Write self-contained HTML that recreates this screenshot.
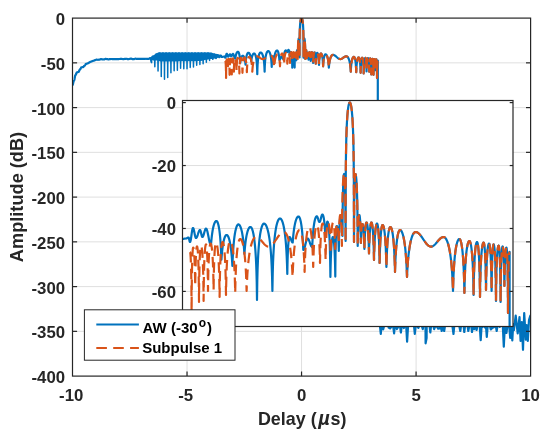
<!DOCTYPE html>
<html lang="en">
<head>
<meta charset="utf-8">
<title>Amplitude vs Delay</title>
<style>
html,body{margin:0;padding:0;background:#ffffff;}
body{width:550px;height:440px;overflow:hidden;font-family:"Liberation Sans",Arial,Helvetica,sans-serif;}
svg{display:block;}
</style>
</head>
<body>
<svg width="550" height="440" viewBox="0 0 550 440">
<defs><clipPath id="cm"><rect x="72.50" y="18.10" width="458.10" height="358.00"/></clipPath>
<clipPath id="ci"><rect x="182.50" y="100.50" width="330.50" height="226.00"/></clipPath></defs>
<rect x="0" y="0" width="550" height="440" fill="#ffffff"/>
<g stroke="#DFDFDF" stroke-width="1" fill="none">
<line x1="187.03" y1="18.10" x2="187.03" y2="376.10"/>
<line x1="301.55" y1="18.10" x2="301.55" y2="376.10"/>
<line x1="416.08" y1="18.10" x2="416.08" y2="376.10"/>
<line x1="72.50" y1="331.35" x2="530.60" y2="331.35"/>
<line x1="72.50" y1="286.60" x2="530.60" y2="286.60"/>
<line x1="72.50" y1="241.85" x2="530.60" y2="241.85"/>
<line x1="72.50" y1="197.10" x2="530.60" y2="197.10"/>
<line x1="72.50" y1="152.35" x2="530.60" y2="152.35"/>
<line x1="72.50" y1="107.60" x2="530.60" y2="107.60"/>
<line x1="72.50" y1="62.85" x2="530.60" y2="62.85"/>
</g>
<g clip-path="url(#cm)" fill="none" stroke-linejoin="round">
<polygon points="150.00,57.57 151.00,56.93 152.00,56.30 153.00,55.67 154.00,55.03 155.00,54.40 156.00,53.77 157.00,53.13 158.00,52.50 159.00,52.50 160.00,52.50 161.00,52.50 162.00,52.50 163.00,52.50 164.00,52.50 165.00,52.50 166.00,52.50 167.00,52.50 168.00,52.50 169.00,52.50 170.00,52.50 171.00,52.50 172.00,52.50 173.00,52.50 174.00,52.50 175.00,52.50 176.00,52.50 177.00,52.50 178.00,52.50 179.00,52.50 180.00,52.50 181.00,52.50 182.00,52.50 183.00,52.50 184.00,52.50 185.00,52.50 186.00,52.50 187.00,52.50 188.00,52.50 189.00,52.50 190.00,52.50 191.00,52.50 192.00,52.50 193.00,52.50 194.00,52.50 195.00,52.50 196.00,52.50 197.00,52.50 198.00,52.50 199.00,52.50 200.00,52.50 201.00,52.50 202.00,52.50 203.00,52.50 204.00,52.50 205.00,52.50 206.00,52.50 207.00,52.50 208.00,52.50 209.00,52.50 210.00,52.50 211.00,52.73 212.00,52.96 213.00,53.19 214.00,53.41 215.00,53.64 216.00,53.87 217.00,54.10 218.00,54.33 219.00,54.56 220.00,54.79 221.00,55.01 221.00,57.11 220.00,57.33 219.00,57.55 218.00,57.76 217.00,57.98 216.00,58.19 215.00,58.41 214.00,58.63 213.00,58.84 212.00,59.06 211.00,59.04 210.00,59.02 209.00,59.23 208.00,59.43 207.00,59.64 206.00,59.85 205.00,60.06 204.00,60.27 203.00,60.48 202.00,60.68 201.00,60.89 200.00,61.10 199.00,61.11 198.00,61.12 197.00,61.14 196.00,61.15 195.00,61.16 194.00,61.17 193.00,61.19 192.00,61.20 191.00,61.21 190.00,61.23 189.00,61.24 188.00,61.25 187.00,61.26 186.00,61.28 185.00,61.29 184.00,61.30 183.00,61.31 182.00,61.33 181.00,61.34 180.00,61.35 179.00,61.36 178.00,61.38 177.00,61.39 176.00,61.40 175.00,61.41 174.00,61.42 173.00,61.44 172.00,61.45 171.00,61.46 170.00,61.48 169.00,61.49 168.00,61.50 167.00,61.51 166.00,61.53 165.00,61.54 164.00,61.55 163.00,61.56 162.00,61.58 161.00,61.59 160.00,61.60 159.00,61.02 158.00,60.43 157.00,60.48 156.00,60.53 155.00,60.58 154.00,60.63 153.00,60.27 152.00,59.90 151.00,59.53 150.00,59.17" fill="#0072BD" stroke="none"/>
<path d="M72.50 85.00 L72.56 84.98 L72.62 84.92 L72.69 84.83 L72.75 84.70 L72.81 84.54 L72.88 84.35 L72.94 84.14 L73.00 83.89 L73.06 83.64 L73.13 83.36 L73.19 83.08 L73.25 82.79 L73.31 82.50 L73.38 82.22 L73.44 81.94 L73.50 81.68 L73.56 81.44 L73.62 81.23 L73.69 81.04 L73.75 80.88 L73.81 80.75 L73.88 80.66 L73.94 80.60 L74.00 80.58 L74.06 80.56 L74.12 80.49 L74.19 80.37 L74.25 80.21 L74.31 80.01 L74.38 79.77 L74.44 79.50 L74.50 79.19 L74.56 78.87 L74.63 78.53 L74.69 78.17 L74.75 77.81 L74.81 77.45 L74.88 77.09 L74.94 76.75 L75.00 76.42 L75.06 76.12 L75.12 75.85 L75.19 75.61 L75.25 75.41 L75.31 75.25 L75.38 75.13 L75.44 75.06 L75.50 75.04 L75.56 75.03 L75.62 74.99 L75.69 74.94 L75.75 74.86 L75.81 74.76 L75.88 74.65 L75.94 74.52 L76.00 74.37 L76.06 74.21 L76.13 74.05 L76.19 73.88 L76.25 73.70 L76.31 73.53 L76.38 73.36 L76.44 73.19 L76.50 73.03 L76.56 72.89 L76.62 72.76 L76.69 72.64 L76.75 72.54 L76.81 72.47 L76.88 72.41 L76.94 72.38 L77.00 72.36 L77.06 72.36 L77.12 72.36 L77.19 72.35 L77.25 72.34 L77.31 72.32 L77.38 72.30 L77.44 72.28 L77.50 72.26 L77.56 72.24 L77.63 72.21 L77.69 72.18 L77.75 72.16 L77.81 72.13 L77.88 72.10 L77.94 72.08 L78.00 72.06 L78.06 72.03 L78.12 72.01 L78.19 72.00 L78.25 71.98 L78.31 71.97 L78.38 71.96 L78.44 71.95 L78.50 71.95 L78.56 71.94 L78.62 71.91 L78.69 71.86 L78.75 71.78 L78.81 71.69 L78.88 71.58 L78.94 71.46 L79.00 71.32 L79.06 71.18 L79.13 71.02 L79.19 70.86 L79.25 70.69 L79.31 70.53 L79.38 70.37 L79.44 70.21 L79.50 70.06 L79.56 69.93 L79.62 69.80 L79.69 69.69 L79.75 69.60 L79.81 69.53 L79.88 69.48 L79.94 69.44 L80.00 69.43 L80.06 69.42 L80.12 69.40 L80.19 69.35 L80.25 69.29 L80.31 69.21 L80.38 69.11 L80.44 69.01 L80.50 68.89 L80.56 68.76 L80.63 68.63 L80.69 68.49 L80.75 68.35 L80.81 68.20 L80.88 68.06 L80.94 67.93 L81.00 67.80 L81.06 67.68 L81.12 67.58 L81.19 67.48 L81.25 67.40 L81.31 67.34 L81.38 67.29 L81.44 67.27 L81.50 67.26 L81.56 67.26 L81.62 67.26 L81.69 67.25 L81.75 67.25 L81.81 67.25 L81.88 67.24 L81.94 67.24 L82.00 67.23 L82.06 67.23 L82.13 67.22 L82.19 67.21 L82.25 67.21 L82.31 67.20 L82.38 67.20 L82.44 67.19 L82.50 67.18 L82.56 67.18 L82.62 67.17 L82.69 67.17 L82.75 67.17 L82.81 67.16 L82.88 67.16 L82.94 67.16 L83.00 67.16 L83.06 67.15 L83.12 67.14 L83.19 67.11 L83.25 67.07 L83.31 67.01 L83.38 66.95 L83.44 66.89 L83.50 66.81 L83.56 66.73 L83.63 66.64 L83.69 66.55 L83.75 66.46 L83.81 66.37 L83.88 66.28 L83.94 66.19 L84.00 66.11 L84.06 66.03 L84.13 65.96 L84.19 65.90 L84.25 65.85 L84.31 65.81 L84.38 65.78 L84.44 65.76 L84.50 65.76 L84.56 65.75 L84.62 65.73 L84.69 65.69 L84.75 65.64 L84.81 65.57 L84.88 65.49 L84.94 65.40 L85.00 65.30 L85.06 65.20 L85.13 65.08 L85.19 64.97 L85.25 64.85 L85.31 64.73 L85.38 64.61 L85.44 64.50 L85.50 64.39 L85.56 64.30 L85.63 64.21 L85.69 64.13 L85.75 64.06 L85.81 64.01 L85.88 63.97 L85.94 63.95 L86.00 63.94 L86.06 63.94 L86.12 63.93 L86.19 63.92 L86.25 63.91 L86.31 63.89 L86.38 63.87 L86.44 63.85 L86.50 63.82 L86.56 63.79 L86.62 63.77 L86.69 63.74 L86.75 63.70 L86.81 63.67 L86.88 63.64 L86.94 63.61 L87.00 63.59 L87.06 63.56 L87.12 63.54 L87.19 63.52 L87.25 63.50 L87.31 63.49 L87.38 63.48 L87.44 63.47 L87.50 63.47 L87.56 63.47 L87.62 63.46 L87.69 63.44 L87.75 63.41 L87.81 63.39 L87.87 63.35 L87.94 63.31 L88.00 63.27 L88.06 63.22 L88.12 63.17 L88.19 63.12 L88.25 63.06 L88.31 63.01 L88.37 62.96 L88.44 62.91 L88.50 62.86 L88.56 62.81 L88.62 62.77 L88.69 62.74 L88.75 62.71 L88.81 62.69 L88.88 62.67 L88.94 62.66 L89.00 62.65 L89.06 62.65 L89.12 62.64 L89.19 62.62 L89.25 62.60 L89.31 62.57 L89.37 62.53 L89.44 62.49 L89.50 62.44 L89.56 62.39 L89.62 62.34 L89.69 62.29 L89.75 62.23 L89.81 62.17 L89.87 62.12 L89.94 62.07 L90.00 62.02 L90.06 61.97 L90.12 61.93 L90.19 61.89 L90.25 61.86 L90.31 61.84 L90.38 61.82 L90.44 61.81 L90.50 61.80 L90.56 61.80 L90.62 61.80 L90.69 61.78 L90.75 61.77 L90.81 61.75 L90.87 61.73 L90.94 61.70 L91.00 61.67 L91.06 61.64 L91.12 61.60 L91.19 61.57 L91.25 61.54 L91.31 61.50 L91.37 61.47 L91.44 61.43 L91.50 61.40 L91.56 61.37 L91.62 61.34 L91.69 61.32 L91.75 61.30 L91.81 61.29 L91.88 61.27 L91.94 61.27 L92.00 61.27 L92.06 61.26 L92.12 61.26 L92.19 61.25 L92.25 61.23 L92.31 61.21 L92.38 61.19 L92.44 61.17 L92.50 61.14 L92.56 61.11 L92.62 61.08 L92.69 61.05 L92.75 61.02 L92.81 60.98 L92.87 60.95 L92.94 60.92 L93.00 60.89 L93.06 60.86 L93.12 60.84 L93.19 60.82 L93.25 60.80 L93.31 60.78 L93.38 60.77 L93.44 60.77 L93.50 60.76 L93.56 60.76 L93.62 60.75 L93.69 60.74 L93.75 60.72 L93.81 60.70 L93.88 60.68 L93.94 60.65 L94.00 60.61 L94.06 60.58 L94.12 60.54 L94.19 60.50 L94.25 60.46 L94.31 60.42 L94.37 60.38 L94.44 60.34 L94.50 60.31 L94.56 60.27 L94.62 60.24 L94.69 60.22 L94.75 60.19 L94.81 60.18 L94.88 60.16 L94.94 60.16 L95.00 60.15 L95.06 60.15 L95.12 60.15 L95.19 60.14 L95.25 60.12 L95.31 60.10 L95.38 60.08 L95.44 60.06 L95.50 60.03 L95.56 60.00 L95.62 59.97 L95.69 59.94 L95.75 59.91 L95.81 59.88 L95.87 59.85 L95.94 59.82 L96.00 59.79 L96.06 59.76 L96.12 59.74 L96.19 59.72 L96.25 59.70 L96.31 59.69 L96.38 59.67 L96.44 59.67 L96.50 59.67 L96.56 59.67 L96.62 59.67 L96.69 59.67 L96.75 59.67 L96.81 59.68 L96.88 59.68 L96.94 59.69 L97.00 59.70 L97.06 59.70 L97.12 59.71 L97.19 59.72 L97.25 59.73 L97.31 59.73 L97.37 59.74 L97.44 59.75 L97.50 59.76 L97.56 59.76 L97.62 59.77 L97.69 59.77 L97.75 59.78 L97.81 59.78 L97.88 59.78 L97.94 59.79 L98.00 59.79 L98.06 59.79 L98.12 59.78 L98.19 59.78 L98.25 59.78 L98.31 59.77 L98.38 59.76 L98.44 59.75 L98.50 59.75 L98.56 59.74 L98.62 59.73 L98.69 59.71 L98.75 59.70 L98.81 59.69 L98.87 59.68 L98.94 59.67 L99.00 59.66 L99.06 59.65 L99.12 59.65 L99.19 59.64 L99.25 59.63 L99.31 59.63 L99.38 59.62 L99.44 59.62 L99.50 59.62 L99.56 59.62 L99.62 59.61 L99.69 59.60 L99.75 59.59 L99.81 59.57 L99.88 59.55 L99.94 59.53 L100.00 59.50 L100.06 59.47 L100.12 59.44 L100.19 59.41 L100.25 59.38 L100.31 59.34 L100.37 59.31 L100.44 59.28 L100.50 59.25 L100.56 59.23 L100.62 59.20 L100.69 59.18 L100.75 59.16 L100.81 59.15 L100.88 59.14 L100.94 59.13 L101.00 59.13 L101.06 59.13 L101.12 59.14 L101.19 59.14 L101.25 59.15 L101.31 59.16 L101.38 59.17 L101.44 59.19 L101.50 59.20 L101.56 59.22 L101.62 59.23 L101.69 59.25 L101.75 59.27 L101.81 59.29 L101.88 59.31 L101.94 59.32 L102.00 59.34 L102.06 59.36 L102.12 59.37 L102.19 59.38 L102.25 59.39 L102.31 59.40 L102.38 59.41 L102.44 59.41 L102.50 59.41 L102.56 59.41 L102.62 59.41 L102.69 59.41 L102.75 59.42 L102.81 59.42 L102.88 59.42 L102.94 59.42 L103.00 59.43 L103.06 59.43 L103.13 59.44 L103.19 59.44 L103.25 59.45 L103.31 59.45 L103.38 59.46 L103.44 59.46 L103.50 59.46 L103.56 59.47 L103.62 59.47 L103.69 59.47 L103.75 59.48 L103.81 59.48 L103.88 59.48 L103.94 59.48 L104.00 59.48 L104.06 59.48 L104.12 59.47 L104.19 59.46 L104.25 59.44 L104.31 59.42 L104.38 59.40 L104.44 59.37 L104.50 59.34 L104.56 59.30 L104.63 59.27 L104.69 59.23 L104.75 59.19 L104.81 59.15 L104.88 59.12 L104.94 59.08 L105.00 59.05 L105.06 59.01 L105.12 58.99 L105.19 58.96 L105.25 58.94 L105.31 58.92 L105.38 58.91 L105.44 58.90 L105.50 58.90 L105.56 58.90 L105.62 58.90 L105.69 58.91 L105.75 58.91 L105.81 58.92 L105.88 58.93 L105.94 58.93 L106.00 58.94 L106.06 58.95 L106.13 58.97 L106.19 58.98 L106.25 58.99 L106.31 59.00 L106.38 59.01 L106.44 59.02 L106.50 59.03 L106.56 59.04 L106.62 59.05 L106.69 59.06 L106.75 59.06 L106.81 59.07 L106.88 59.07 L106.94 59.07 L107.00 59.08 L107.06 59.08 L107.12 59.08 L107.19 59.09 L107.25 59.10 L107.31 59.11 L107.38 59.12 L107.44 59.14 L107.50 59.16 L107.56 59.18 L107.63 59.20 L107.69 59.22 L107.75 59.24 L107.81 59.26 L107.88 59.29 L107.94 59.31 L108.00 59.33 L108.06 59.34 L108.12 59.36 L108.19 59.37 L108.25 59.39 L108.31 59.40 L108.38 59.40 L108.44 59.41 L108.50 59.41 L108.56 59.41 L108.62 59.40 L108.69 59.40 L108.75 59.39 L108.81 59.37 L108.88 59.36 L108.94 59.34 L109.00 59.32 L109.06 59.30 L109.13 59.28 L109.19 59.25 L109.25 59.23 L109.31 59.21 L109.38 59.18 L109.44 59.16 L109.50 59.14 L109.56 59.12 L109.62 59.10 L109.69 59.09 L109.75 59.07 L109.81 59.06 L109.88 59.06 L109.94 59.05 L110.00 59.05 L110.06 59.05 L110.12 59.05 L110.19 59.05 L110.25 59.05 L110.31 59.04 L110.38 59.04 L110.44 59.04 L110.50 59.04 L110.56 59.03 L110.63 59.03 L110.69 59.03 L110.75 59.02 L110.81 59.02 L110.88 59.02 L110.94 59.01 L111.00 59.01 L111.06 59.01 L111.12 59.01 L111.19 59.00 L111.25 59.00 L111.31 59.00 L111.38 59.00 L111.44 59.00 L111.50 59.00 L111.56 59.00 L111.62 59.00 L111.69 59.00 L111.75 59.01 L111.81 59.02 L111.88 59.02 L111.94 59.03 L112.00 59.04 L112.06 59.05 L112.13 59.06 L112.19 59.07 L112.25 59.08 L112.31 59.09 L112.38 59.10 L112.44 59.11 L112.50 59.12 L112.56 59.13 L112.63 59.13 L112.69 59.14 L112.75 59.15 L112.81 59.15 L112.88 59.15 L112.94 59.16 L113.00 59.16 L113.06 59.16 L113.12 59.16 L113.19 59.15 L113.25 59.15 L113.31 59.15 L113.38 59.15 L113.44 59.14 L113.50 59.14 L113.56 59.13 L113.63 59.13 L113.69 59.12 L113.75 59.12 L113.81 59.11 L113.88 59.11 L113.94 59.10 L114.00 59.10 L114.06 59.09 L114.13 59.09 L114.19 59.08 L114.25 59.08 L114.31 59.08 L114.38 59.08 L114.44 59.08 L114.50 59.08 L114.56 59.08 L114.62 59.08 L114.69 59.07 L114.75 59.07 L114.81 59.07 L114.88 59.07 L114.94 59.07 L115.00 59.07 L115.06 59.07 L115.13 59.06 L115.19 59.06 L115.25 59.06 L115.31 59.06 L115.38 59.06 L115.44 59.05 L115.50 59.05 L115.56 59.05 L115.63 59.05 L115.69 59.05 L115.75 59.05 L115.81 59.05 L115.88 59.04 L115.94 59.04 L116.00 59.04 L116.06 59.04 L116.12 59.04 L116.19 59.04 L116.25 59.04 L116.31 59.04 L116.38 59.04 L116.44 59.04 L116.50 59.04 L116.56 59.04 L116.62 59.04 L116.69 59.04 L116.75 59.04 L116.81 59.04 L116.88 59.04 L116.94 59.04 L117.00 59.03 L117.06 59.03 L117.12 59.03 L117.19 59.03 L117.25 59.03 L117.31 59.03 L117.38 59.03 L117.44 59.03 L117.50 59.03 L117.56 59.03 L117.62 59.03 L117.69 59.03 L117.75 59.03 L117.81 59.03 L117.87 59.03 L117.94 59.03 L118.00 59.03 L118.06 59.03 L118.12 59.03 L118.19 59.03 L118.25 59.03 L118.31 59.03 L118.38 59.03 L118.44 59.03 L118.50 59.03 L118.56 59.03 L118.62 59.03 L118.69 59.03 L118.75 59.03 L118.81 59.03 L118.88 59.03 L118.94 59.03 L119.00 59.03 L119.06 59.03 L119.12 59.02 L119.19 59.02 L119.25 59.02 L119.31 59.02 L119.38 59.01 L119.44 59.01 L119.50 59.01 L119.56 59.00 L119.62 59.00 L119.69 58.99 L119.75 58.99 L119.81 58.98 L119.88 58.97 L119.94 58.97 L120.00 58.96 L120.06 58.96 L120.12 58.96 L120.19 58.95 L120.25 58.95 L120.31 58.95 L120.38 58.95 L120.44 58.94 L120.50 58.94 L120.56 58.94 L120.62 58.94 L120.69 58.94 L120.75 58.95 L120.81 58.95 L120.88 58.95 L120.94 58.95 L121.00 58.95 L121.06 58.95 L121.12 58.95 L121.19 58.96 L121.25 58.96 L121.31 58.96 L121.38 58.96 L121.44 58.96 L121.50 58.96 L121.56 58.97 L121.62 58.97 L121.69 58.97 L121.75 58.97 L121.81 58.97 L121.88 58.97 L121.94 58.97 L122.00 58.97 L122.06 58.97 L122.13 58.97 L122.19 58.98 L122.25 58.98 L122.31 58.99 L122.38 59.00 L122.44 59.01 L122.50 59.02 L122.56 59.03 L122.62 59.04 L122.69 59.05 L122.75 59.06 L122.81 59.07 L122.88 59.08 L122.94 59.09 L123.00 59.11 L123.06 59.11 L123.12 59.12 L123.19 59.13 L123.25 59.14 L123.31 59.14 L123.37 59.15 L123.44 59.15 L123.50 59.15 L123.56 59.15 L123.62 59.14 L123.69 59.14 L123.75 59.13 L123.81 59.12 L123.88 59.11 L123.94 59.09 L124.00 59.07 L124.06 59.06 L124.12 59.04 L124.19 59.02 L124.25 59.00 L124.31 58.98 L124.38 58.96 L124.44 58.94 L124.50 58.92 L124.56 58.90 L124.62 58.89 L124.69 58.88 L124.75 58.87 L124.81 58.86 L124.87 58.85 L124.94 58.85 L125.00 58.84 L125.06 58.84 L125.12 58.84 L125.19 58.84 L125.25 58.84 L125.31 58.84 L125.38 58.83 L125.44 58.83 L125.50 58.82 L125.56 58.82 L125.62 58.81 L125.69 58.81 L125.75 58.80 L125.81 58.80 L125.88 58.79 L125.94 58.79 L126.00 58.78 L126.06 58.78 L126.12 58.77 L126.19 58.77 L126.25 58.77 L126.31 58.77 L126.38 58.76 L126.44 58.76 L126.50 58.76 L126.56 58.76 L126.62 58.77 L126.69 58.78 L126.75 58.79 L126.81 58.81 L126.88 58.83 L126.94 58.86 L127.00 58.88 L127.06 58.91 L127.12 58.94 L127.19 58.98 L127.25 59.01 L127.31 59.04 L127.38 59.07 L127.44 59.10 L127.50 59.13 L127.56 59.16 L127.62 59.18 L127.69 59.20 L127.75 59.22 L127.81 59.23 L127.88 59.24 L127.94 59.25 L128.00 59.25 L128.06 59.25 L128.12 59.25 L128.19 59.24 L128.25 59.23 L128.31 59.22 L128.38 59.21 L128.44 59.19 L128.50 59.18 L128.56 59.16 L128.62 59.14 L128.69 59.12 L128.75 59.10 L128.81 59.08 L128.88 59.07 L128.94 59.05 L129.00 59.03 L129.06 59.01 L129.12 59.00 L129.19 58.99 L129.25 58.97 L129.31 58.97 L129.38 58.96 L129.44 58.96 L129.50 58.95 L129.56 58.95 L129.62 58.95 L129.69 58.94 L129.75 58.93 L129.81 58.92 L129.88 58.90 L129.94 58.88 L130.00 58.86 L130.06 58.84 L130.12 58.82 L130.19 58.80 L130.25 58.77 L130.31 58.75 L130.38 58.73 L130.44 58.71 L130.50 58.68 L130.56 58.66 L130.62 58.65 L130.69 58.63 L130.75 58.62 L130.81 58.61 L130.88 58.60 L130.94 58.60 L131.00 58.59 L131.06 58.60 L131.12 58.60 L131.19 58.61 L131.25 58.63 L131.31 58.65 L131.38 58.67 L131.44 58.69 L131.50 58.72 L131.56 58.75 L131.62 58.78 L131.69 58.81 L131.75 58.84 L131.81 58.88 L131.88 58.91 L131.94 58.94 L132.00 58.97 L132.06 58.99 L132.12 59.02 L132.19 59.04 L132.25 59.06 L132.31 59.07 L132.38 59.08 L132.44 59.09 L132.50 59.09 L132.56 59.09 L132.62 59.09 L132.69 59.09 L132.75 59.09 L132.81 59.09 L132.88 59.09 L132.94 59.09 L133.00 59.08 L133.06 59.08 L133.12 59.08 L133.19 59.08 L133.25 59.08 L133.31 59.07 L133.38 59.07 L133.44 59.07 L133.50 59.07 L133.56 59.07 L133.62 59.07 L133.69 59.06 L133.75 59.06 L133.81 59.06 L133.88 59.06 L133.94 59.06 L134.00 59.06 L134.06 59.06 L134.12 59.06 L134.19 59.05 L134.25 59.04 L134.31 59.02 L134.38 59.01 L134.44 58.99 L134.50 58.97 L134.56 58.95 L134.62 58.93 L134.69 58.90 L134.75 58.88 L134.81 58.86 L134.88 58.83 L134.94 58.81 L135.00 58.79 L135.06 58.77 L135.12 58.75 L135.19 58.74 L135.25 58.72 L135.31 58.71 L135.38 58.70 L135.44 58.70 L135.50 58.70 L135.56 58.70 L135.62 58.70 L135.69 58.71 L135.75 58.71 L135.81 58.72 L135.88 58.73 L135.94 58.74 L136.00 58.75 L136.06 58.76 L136.12 58.77 L136.19 58.78 L136.25 58.79 L136.31 58.80 L136.38 58.82 L136.44 58.83 L136.50 58.84 L136.56 58.85 L136.62 58.86 L136.69 58.87 L136.75 58.87 L136.81 58.88 L136.88 58.88 L136.94 58.88 L137.00 58.89 L137.06 58.89 L137.13 58.89 L137.19 58.89 L137.25 58.89 L137.31 58.89 L137.38 58.89 L137.44 58.90 L137.50 58.90 L137.56 58.90 L137.62 58.91 L137.69 58.91 L137.75 58.92 L137.81 58.92 L137.88 58.92 L137.94 58.93 L138.00 58.93 L138.06 58.94 L138.12 58.94 L138.19 58.94 L138.25 58.94 L138.31 58.95 L138.37 58.95 L138.44 58.95 L138.50 58.95 L138.56 58.95 L138.62 58.95 L138.69 58.94 L138.75 58.94 L138.81 58.94 L138.88 58.93 L138.94 58.93 L139.00 58.92 L139.06 58.91 L139.12 58.91 L139.19 58.90 L139.25 58.89 L139.31 58.89 L139.38 58.88 L139.44 58.87 L139.50 58.87 L139.56 58.86 L139.62 58.86 L139.69 58.85 L139.75 58.85 L139.81 58.85 L139.88 58.84 L139.94 58.84 L140.00 58.84 L140.06 58.84 L140.12 58.84 L140.19 58.84 L140.25 58.84 L140.31 58.84 L140.38 58.84 L140.44 58.84 L140.50 58.84 L140.56 58.84 L140.62 58.84 L140.69 58.84 L140.75 58.84 L140.81 58.85 L140.88 58.85 L140.94 58.85 L141.00 58.85 L141.06 58.85 L141.12 58.85 L141.19 58.85 L141.25 58.85 L141.31 58.85 L141.38 58.85 L141.44 58.85 L141.50 58.85 L141.56 58.85 L141.62 58.85 L141.69 58.85 L141.75 58.85 L141.81 58.85 L141.88 58.85 L141.94 58.85 L142.00 58.85 L142.06 58.85 L142.12 58.85 L142.19 58.85 L142.25 58.85 L142.31 58.85 L142.38 58.84 L142.44 58.84 L142.50 58.84 L142.56 58.84 L142.62 58.84 L142.69 58.84 L142.75 58.84 L142.81 58.84 L142.88 58.84 L142.94 58.84 L143.00 58.84 L143.06 58.84 L143.12 58.84 L143.19 58.84 L143.25 58.84 L143.31 58.84 L143.38 58.84 L143.44 58.84 L143.50 58.84 L143.56 58.84 L143.62 58.84 L143.69 58.84 L143.75 58.84 L143.81 58.83 L143.88 58.83 L143.94 58.83 L144.00 58.83 L144.06 58.83 L144.12 58.83 L144.19 58.83 L144.25 58.83 L144.31 58.83 L144.38 58.83 L144.44 58.83 L144.50 58.83 L144.56 58.83 L144.62 58.83 L144.69 58.83 L144.75 58.82 L144.81 58.82 L144.88 58.82 L144.94 58.82 L145.00 58.81 L145.06 58.81 L145.12 58.81 L145.19 58.80 L145.25 58.80 L145.31 58.79 L145.38 58.79 L145.44 58.79 L145.50 58.78 L145.56 58.78 L145.62 58.78 L145.69 58.77 L145.75 58.77 L145.81 58.77 L145.88 58.77 L145.94 58.77 L146.00 58.77 L146.06 58.77 L146.12 58.77 L146.19 58.77 L146.25 58.77 L146.31 58.78 L146.38 58.78 L146.44 58.79 L146.50 58.80 L146.56 58.80 L146.62 58.81 L146.69 58.82 L146.75 58.83 L146.81 58.84 L146.88 58.84 L146.94 58.85 L147.00 58.86 L147.06 58.86 L147.12 58.87 L147.19 58.88 L147.25 58.88 L147.31 58.88 L147.38 58.89 L147.44 58.89 L147.50 58.89 L147.56 58.89 L147.62 58.89 L147.69 58.89 L147.75 58.88 L147.81 58.88 L147.88 58.88 L147.94 58.87 L148.00 58.87 L148.06 58.86 L148.12 58.86 L148.19 58.85 L148.25 58.84 L148.31 58.84 L148.38 58.83 L148.44 58.83 L148.50 58.82 L148.56 58.82 L148.62 58.81 L148.69 58.81 L148.75 58.81 L148.81 58.80 L148.88 58.80 L148.94 58.80 L149.00 58.80 L149.04 58.80 L149.08 58.79 L149.12 58.78 L149.17 58.76 L149.21 58.73 L149.25 58.71 L149.29 58.68 L149.33 58.64 L149.38 58.60 L149.42 58.57 L149.46 58.52 L149.50 58.48 L149.54 58.44 L149.58 58.40 L149.62 58.36 L149.67 58.32 L149.71 58.29 L149.75 58.26 L149.79 58.23 L149.83 58.21 L149.88 58.19 L149.92 58.18 L149.96 58.17 L150.00 58.17 L150.07 58.19 L150.13 58.24 L150.20 58.34" stroke="#0072BD" stroke-width="2.2"/>
<path d="M150.00 58.17 L150.07 58.19 L150.13 58.24 L150.20 58.34 L150.27 58.46 L150.34 58.63 L150.40 58.82 L150.47 59.04 L150.54 59.28 L150.60 59.54 L150.67 59.81 L150.74 60.10 L150.80 60.39 L150.87 60.68 L150.94 60.96 L151.01 61.24 L151.07 61.50 L151.14 61.74 L151.21 61.96 L151.27 62.15 L151.34 62.31 L151.41 62.44 L151.48 62.53 L151.54 62.59 L151.61 62.61 L151.68 61.09 L151.74 59.98 L151.81 59.14 L151.88 58.48 L151.95 57.95 L152.01 57.54 L152.08 57.21 L152.15 56.94 L152.21 56.73 L152.28 56.57 L152.35 56.45 L152.42 56.35 L152.48 56.28 L152.55 56.23 L152.62 56.19 L152.68 56.16 L152.75 56.15 L152.82 56.14 L152.88 56.13 L152.95 56.13 L153.02 56.13 L153.09 56.13 L153.15 56.13 L153.22 56.13 L153.29 56.13 L153.35 56.13 L153.42 56.13 L153.49 56.13 L153.56 56.13 L153.62 56.14 L153.69 56.16 L153.76 56.18 L153.82 56.22 L153.89 56.27 L153.96 56.34 L154.03 56.44 L154.09 56.58 L154.16 56.76 L154.23 56.99 L154.29 57.29 L154.36 57.67 L154.43 58.15 L154.49 58.77 L154.56 59.56 L154.63 60.59 L154.70 61.96 L154.76 63.87 L154.83 66.80 L154.90 63.01 L154.96 60.70 L155.03 59.11 L155.10 57.93 L155.17 57.03 L155.23 56.34 L155.30 55.80 L155.37 55.37 L155.43 55.04 L155.50 54.78 L155.57 54.59 L155.63 54.44 L155.70 54.32 L155.77 54.24 L155.84 54.19 L155.90 54.15 L155.97 54.12 L156.04 54.10 L156.10 54.10 L156.17 54.09 L156.24 54.09 L156.31 54.09 L156.37 54.09 L156.44 54.09 L156.51 54.09 L156.57 54.09 L156.64 54.09 L156.71 54.09 L156.78 54.10 L156.84 54.11 L156.91 54.12 L156.98 54.15 L157.04 54.20 L157.11 54.26 L157.18 54.36 L157.25 54.48 L157.31 54.65 L157.38 54.88 L157.45 55.18 L157.51 55.56 L157.58 56.05 L157.65 56.68 L157.71 57.49 L157.78 58.55 L157.85 59.98 L157.92 61.98 L157.98 65.06 L158.05 71.02 L158.12 64.48 L158.18 61.23 L158.25 59.15 L158.32 57.68 L158.39 56.58 L158.45 55.75 L158.52 55.10 L158.59 54.60 L158.65 54.21 L158.72 53.91 L158.79 53.68 L158.86 53.50 L158.92 53.37 L158.99 53.28 L159.06 53.21 L159.12 53.17 L159.19 53.14 L159.26 53.12 L159.32 53.11 L159.39 53.10 L159.46 53.10 L159.53 53.10 L159.59 53.10 L159.66 53.10 L159.73 53.10 L159.79 53.10 L159.86 53.10 L159.93 53.10 L160.00 53.11 L160.06 53.12 L160.13 53.14 L160.20 53.17 L160.26 53.22 L160.33 53.29 L160.40 53.39 L160.47 53.53 L160.53 53.72 L160.60 53.97 L160.67 54.30 L160.73 54.72 L160.80 55.26 L160.87 55.97 L160.93 56.89 L161.00 58.10 L161.07 59.77 L161.14 62.19 L161.20 66.19 L161.27 76.44 L161.34 66.19 L161.40 62.19 L161.47 59.77 L161.54 58.10 L161.61 56.89 L161.67 55.97 L161.74 55.26 L161.81 54.72 L161.87 54.30 L161.94 53.97 L162.01 53.72 L162.07 53.53 L162.14 53.39 L162.21 53.29 L162.28 53.22 L162.34 53.17 L162.41 53.14 L162.48 53.12 L162.54 53.11 L162.61 53.10 L162.68 53.10 L162.75 53.10 L162.81 53.10 L162.88 53.10 L162.95 53.10 L163.01 53.10 L163.08 53.10 L163.15 53.10 L163.22 53.11 L163.28 53.12 L163.35 53.14 L163.42 53.17 L163.48 53.22 L163.55 53.30 L163.62 53.40 L163.69 53.54 L163.75 53.73 L163.82 53.99 L163.89 54.32 L163.95 54.75 L164.02 55.31 L164.09 56.03 L164.15 56.98 L164.22 58.23 L164.29 59.96 L164.36 62.49 L164.42 66.77 L164.49 79.14 L164.56 66.77 L164.62 62.49 L164.69 59.96 L164.76 58.23 L164.83 56.98 L164.89 56.03 L164.96 55.31 L165.03 54.75 L165.09 54.32 L165.16 53.99 L165.23 53.73 L165.30 53.54 L165.36 53.40 L165.43 53.30 L165.50 53.22 L165.56 53.17 L165.63 53.14 L165.70 53.12 L165.76 53.11 L165.83 53.10 L165.90 53.10 L165.97 53.10 L166.03 53.10 L166.10 53.10 L166.17 53.10 L166.23 53.10 L166.30 53.10 L166.37 53.10 L166.44 53.11 L166.50 53.12 L166.57 53.14 L166.64 53.17 L166.70 53.22 L166.77 53.29 L166.84 53.40 L166.91 53.54 L166.97 53.73 L167.04 53.98 L167.11 54.31 L167.17 54.73 L167.24 55.28 L167.31 56.00 L167.37 56.93 L167.44 58.16 L167.51 59.85 L167.58 62.32 L167.64 66.43 L167.71 77.46 L167.78 66.43 L167.84 62.32 L167.91 59.85 L167.98 58.16 L168.05 56.93 L168.11 56.00 L168.18 55.28 L168.25 54.73 L168.31 54.31 L168.38 53.98 L168.45 53.73 L168.51 53.54 L168.58 53.40 L168.65 53.29 L168.72 53.22 L168.78 53.17 L168.85 53.14 L168.92 53.12 L168.98 53.11 L169.05 53.10 L169.12 53.10 L169.19 53.10 L169.25 53.10 L169.32 53.10 L169.39 53.10 L169.45 53.10 L169.52 53.10 L169.59 53.10 L169.66 53.11 L169.72 53.12 L169.79 53.14 L169.86 53.17 L169.92 53.22 L169.99 53.28 L170.06 53.38 L170.12 53.52 L170.19 53.70 L170.26 53.93 L170.33 54.25 L170.39 54.65 L170.46 55.17 L170.53 55.84 L170.59 56.70 L170.66 57.85 L170.73 59.40 L170.80 61.61 L170.86 65.12 L170.93 72.79 L171.00 65.12 L171.06 61.61 L171.13 59.40 L171.20 57.85 L171.27 56.70 L171.33 55.84 L171.40 55.17 L171.47 54.65 L171.53 54.25 L171.60 53.93 L171.67 53.70 L171.74 53.52 L171.80 53.38 L171.87 53.28 L171.94 53.22 L172.00 53.17 L172.07 53.14 L172.14 53.12 L172.20 53.11 L172.27 53.10 L172.34 53.10 L172.41 53.10 L172.47 53.10 L172.54 53.10 L172.61 53.10 L172.67 53.10 L172.74 53.10 L172.81 53.10 L172.88 53.11 L172.94 53.12 L173.01 53.14 L173.08 53.17 L173.14 53.21 L173.21 53.28 L173.28 53.37 L173.34 53.50 L173.41 53.67 L173.48 53.90 L173.55 54.20 L173.61 54.59 L173.68 55.09 L173.75 55.73 L173.81 56.56 L173.88 57.64 L173.95 59.10 L174.02 61.16 L174.08 64.34 L174.15 70.69 L174.22 64.34 L174.28 61.16 L174.35 59.10 L174.42 57.64 L174.49 56.56 L174.55 55.73 L174.62 55.09 L174.69 54.59 L174.75 54.20 L174.82 53.90 L174.89 53.67 L174.95 53.50 L175.02 53.37 L175.09 53.28 L175.16 53.21 L175.22 53.17 L175.29 53.14 L175.36 53.12 L175.42 53.11 L175.49 53.10 L175.56 53.10 L175.63 53.10 L175.69 53.10 L175.76 53.10 L175.83 53.10 L175.89 53.10 L175.96 53.10 L176.03 53.10 L176.10 53.11 L176.16 53.12 L176.23 53.14 L176.30 53.17 L176.36 53.21 L176.43 53.28 L176.50 53.37 L176.56 53.50 L176.63 53.67 L176.70 53.90 L176.77 54.19 L176.83 54.57 L176.90 55.07 L176.97 55.70 L177.03 56.52 L177.10 57.58 L177.17 59.02 L177.24 61.04 L177.30 64.14 L177.37 70.20 L177.44 64.14 L177.50 61.04 L177.57 59.02 L177.64 57.58 L177.71 56.52 L177.77 55.70 L177.84 55.07 L177.91 54.57 L177.97 54.19 L178.04 53.90 L178.11 53.67 L178.18 53.50 L178.24 53.37 L178.31 53.28 L178.38 53.21 L178.44 53.17 L178.51 53.14 L178.58 53.12 L178.64 53.11 L178.71 53.10 L178.78 53.10 L178.85 53.10 L178.91 53.10 L178.98 53.10 L179.05 53.10 L179.11 53.10 L179.18 53.10 L179.25 53.10 L179.32 53.11 L179.38 53.12 L179.45 53.13 L179.52 53.16 L179.58 53.21 L179.65 53.27 L179.72 53.36 L179.78 53.48 L179.85 53.64 L179.92 53.86 L179.99 54.14 L180.05 54.50 L180.12 54.97 L180.19 55.56 L180.25 56.33 L180.32 57.33 L180.39 58.66 L180.46 60.50 L180.52 63.26 L180.59 68.22 L180.66 63.26 L180.72 60.50 L180.79 58.66 L180.86 57.33 L180.93 56.33 L180.99 55.56 L181.06 54.97 L181.13 54.50 L181.19 54.14 L181.26 53.86 L181.33 53.64 L181.39 53.48 L181.46 53.36 L181.53 53.27 L181.60 53.21 L181.66 53.16 L181.73 53.13 L181.80 53.12 L181.86 53.11 L181.93 53.10 L182.00 53.10 L182.07 53.10 L182.13 53.10 L182.20 53.10 L182.27 53.10 L182.33 53.10 L182.40 53.10 L182.47 53.10 L182.54 53.11 L182.60 53.12 L182.67 53.14 L182.74 53.16 L182.80 53.21 L182.87 53.27 L182.94 53.36 L183.00 53.48 L183.07 53.65 L183.14 53.87 L183.21 54.15 L183.27 54.52 L183.34 54.99 L183.41 55.60 L183.47 56.37 L183.54 57.39 L183.61 58.75 L183.68 60.63 L183.74 63.46 L183.81 68.66 L183.88 63.46 L183.94 60.63 L184.01 58.75 L184.08 57.39 L184.15 56.37 L184.21 55.60 L184.28 54.99 L184.35 54.52 L184.41 54.15 L184.48 53.87 L184.55 53.65 L184.62 53.48 L184.68 53.36 L184.75 53.27 L184.82 53.21 L184.88 53.16 L184.95 53.14 L185.02 53.12 L185.08 53.11 L185.15 53.10 L185.22 53.10 L185.29 53.10 L185.35 53.10 L185.42 53.10 L185.49 53.10 L185.55 53.10 L185.62 53.10 L185.69 53.10 L185.76 53.11 L185.82 53.12 L185.89 53.14 L185.96 53.16 L186.02 53.21 L186.09 53.27 L186.16 53.36 L186.23 53.48 L186.29 53.65 L186.36 53.87 L186.43 54.15 L186.49 54.52 L186.56 54.99 L186.63 55.60 L186.69 56.38 L186.76 57.39 L186.83 58.75 L186.90 60.63 L186.96 63.47 L187.03 68.67 L187.10 63.47 L187.16 60.63 L187.23 58.75 L187.30 57.39 L187.37 56.38 L187.43 55.60 L187.50 54.99 L187.57 54.52 L187.63 54.15 L187.70 53.87 L187.77 53.65 L187.83 53.48 L187.90 53.36 L187.97 53.27 L188.04 53.21 L188.10 53.16 L188.17 53.14 L188.24 53.12 L188.30 53.11 L188.37 53.10 L188.44 53.10 L188.51 53.10 L188.57 53.10 L188.64 53.10 L188.71 53.10 L188.77 53.10 L188.84 53.10 L188.91 53.10 L188.98 53.11 L189.04 53.12 L189.11 53.13 L189.18 53.16 L189.24 53.20 L189.31 53.26 L189.38 53.35 L189.44 53.47 L189.51 53.63 L189.58 53.84 L189.65 54.11 L189.71 54.46 L189.78 54.92 L189.85 55.49 L189.91 56.24 L189.98 57.20 L190.05 58.48 L190.12 60.24 L190.18 62.84 L190.25 67.38 L190.32 62.84 L190.38 60.24 L190.45 58.48 L190.52 57.20 L190.59 56.24 L190.65 55.49 L190.72 54.92 L190.79 54.46 L190.85 54.11 L190.92 53.84 L190.99 53.63 L191.06 53.47 L191.12 53.35 L191.19 53.26 L191.26 53.20 L191.32 53.16 L191.39 53.13 L191.46 53.12 L191.52 53.11 L191.59 53.10 L191.66 53.10 L191.73 53.10 L191.79 53.10 L191.86 53.10 L191.93 53.10 L191.99 53.10 L192.06 53.10 L192.13 53.10 L192.20 53.11 L192.26 53.12 L192.33 53.13 L192.40 53.16 L192.46 53.20 L192.53 53.26 L192.60 53.35 L192.66 53.46 L192.73 53.62 L192.80 53.83 L192.87 54.10 L192.93 54.45 L193.00 54.89 L193.07 55.46 L193.13 56.20 L193.20 57.15 L193.27 58.40 L193.34 60.13 L193.40 62.66 L193.47 67.02 L193.54 62.66 L193.60 60.13 L193.67 58.40 L193.74 57.15 L193.81 56.20 L193.87 55.46 L193.94 54.89 L194.01 54.45 L194.07 54.10 L194.14 53.83 L194.21 53.62 L194.28 53.46 L194.34 53.35 L194.41 53.26 L194.48 53.20 L194.54 53.16 L194.61 53.13 L194.68 53.12 L194.74 53.11 L194.81 53.10 L194.88 53.10 L194.95 53.10 L195.01 53.10 L195.08 53.10 L195.15 53.10 L195.21 53.10 L195.28 53.10 L195.35 53.10 L195.42 53.11 L195.48 53.12 L195.55 53.13 L195.62 53.16 L195.68 53.20 L195.75 53.25 L195.82 53.33 L195.88 53.44 L195.95 53.59 L196.02 53.78 L196.09 54.03 L196.15 54.36 L196.22 54.77 L196.29 55.30 L196.35 55.97 L196.42 56.85 L196.49 57.99 L196.56 59.53 L196.62 61.73 L196.69 65.30 L196.76 61.73 L196.82 59.53 L196.89 57.99 L196.96 56.85 L197.03 55.97 L197.09 55.30 L197.16 54.77 L197.23 54.36 L197.29 54.03 L197.36 53.78 L197.43 53.59 L197.50 53.44 L197.56 53.33 L197.63 53.25 L197.70 53.20 L197.76 53.16 L197.83 53.13 L197.90 53.12 L197.96 53.11 L198.03 53.10 L198.10 53.10 L198.17 53.10 L198.23 53.10 L198.30 53.10 L198.37 53.10 L198.43 53.10 L198.50 53.10 L198.57 53.10 L198.64 53.11 L198.70 53.12 L198.77 53.13 L198.84 53.15 L198.90 53.19 L198.97 53.25 L199.04 53.32 L199.10 53.43 L199.17 53.57 L199.24 53.76 L199.31 54.00 L199.37 54.31 L199.44 54.71 L199.51 55.21 L199.57 55.86 L199.64 56.69 L199.71 57.77 L199.78 59.22 L199.84 61.27 L199.91 64.50 L199.98 61.27 L200.04 59.22 L200.11 57.77 L200.18 56.69 L200.25 55.86 L200.31 55.21 L200.38 54.71 L200.45 54.31 L200.51 54.00 L200.58 53.76 L200.65 53.57 L200.72 53.43 L200.78 53.32 L200.85 53.25 L200.92 53.19 L200.98 53.15 L201.05 53.13 L201.12 53.12 L201.18 53.11 L201.25 53.10 L201.32 53.10 L201.39 53.10 L201.45 53.10 L201.52 53.10 L201.59 53.10 L201.65 53.10 L201.72 53.10 L201.79 53.10 L201.86 53.11 L201.92 53.11 L201.99 53.13 L202.06 53.15 L202.12 53.19 L202.19 53.24 L202.26 53.31 L202.32 53.41 L202.39 53.55 L202.46 53.73 L202.53 53.96 L202.59 54.26 L202.66 54.64 L202.73 55.12 L202.79 55.74 L202.86 56.53 L202.93 57.55 L203.00 58.91 L203.06 60.81 L203.13 63.74 L203.20 60.81 L203.26 58.91 L203.33 57.55 L203.40 56.53 L203.47 55.74 L203.53 55.12 L203.60 54.64 L203.67 54.26 L203.73 53.96 L203.80 53.73 L203.87 53.55 L203.94 53.41 L204.00 53.31 L204.07 53.24 L204.14 53.19 L204.20 53.15 L204.27 53.13 L204.34 53.11 L204.40 53.11 L204.47 53.10 L204.54 53.10 L204.61 53.10 L204.67 53.10 L204.74 53.10 L204.81 53.10 L204.87 53.10 L204.94 53.10 L205.01 53.10 L205.08 53.11 L205.14 53.11 L205.21 53.13 L205.28 53.15 L205.34 53.18 L205.41 53.23 L205.48 53.29 L205.54 53.38 L205.61 53.51 L205.68 53.67 L205.75 53.88 L205.81 54.14 L205.88 54.48 L205.95 54.91 L206.01 55.46 L206.08 56.15 L206.15 57.05 L206.22 58.22 L206.28 59.82 L206.35 62.15 L206.42 59.82 L206.48 58.22 L206.55 57.05 L206.62 56.15 L206.69 55.46 L206.75 54.91 L206.82 54.48 L206.89 54.14 L206.95 53.88 L207.02 53.67 L207.09 53.51 L207.16 53.38 L207.22 53.29 L207.29 53.23 L207.36 53.18 L207.42 53.15 L207.49 53.13 L207.56 53.11 L207.62 53.11 L207.69 53.10 L207.76 53.10 L207.83 53.10 L207.89 53.10 L207.96 53.10 L208.03 53.10 L208.09 53.10 L208.16 53.10 L208.23 53.10 L208.30 53.11 L208.36 53.11 L208.43 53.12 L208.50 53.14 L208.56 53.17 L208.63 53.21 L208.70 53.27 L208.76 53.35 L208.83 53.46 L208.90 53.60 L208.97 53.78 L209.03 54.01 L209.10 54.31 L209.17 54.68 L209.23 55.15 L209.30 55.74 L209.37 56.50 L209.44 57.47 L209.50 58.77 L209.57 60.59 L209.64 58.85 L209.70 57.61 L209.77 56.66 L209.84 55.93 L209.91 55.36 L209.97 54.90 L210.04 54.54 L210.11 54.26 L210.17 54.03 L210.24 53.85 L210.31 53.72 L210.38 53.61 L210.44 53.53 L210.51 53.48 L210.58 53.44 L210.64 53.41 L210.71 53.39 L210.78 53.38 L210.84 53.37 L210.91 53.37 L210.98 53.37 L211.05 53.37 L211.11 53.37 L211.18 53.37 L211.25 53.37 L211.31 53.37 L211.38 53.37 L211.45 53.37 L211.52 53.37 L211.58 53.38 L211.65 53.39 L211.72 53.40 L211.78 53.43 L211.85 53.46 L211.92 53.51 L211.98 53.58 L212.05 53.67 L212.12 53.79 L212.19 53.94 L212.25 54.14 L212.32 54.38 L212.39 54.69 L212.45 55.08 L212.52 55.57 L212.59 56.18 L212.66 56.97 L212.72 57.99 L212.79 59.36 L212.86 58.19 L212.92 57.30 L212.99 56.62 L213.06 56.07 L213.13 55.64 L213.19 55.29 L213.26 55.01 L213.33 54.79 L213.39 54.62 L213.46 54.48 L213.53 54.38 L213.59 54.29 L213.66 54.23 L213.73 54.19 L213.80 54.16 L213.86 54.14 L213.93 54.12 L214.00 54.11 L214.06 54.11 L214.13 54.11 L214.20 54.11 L214.27 54.11 L214.33 54.11 L214.40 54.11 L214.47 54.12 L214.53 54.18 L214.60 54.27 L214.67 54.40 L214.74 54.55 L214.80 54.74 L214.87 54.95 L214.94 55.19 L215.00 55.44 L215.07 55.71 L215.14 55.99 L215.20 56.27 L215.27 56.55 L215.34 56.83 L215.41 57.10 L215.47 57.35 L215.54 57.58 L215.61 57.80 L215.67 57.98 L215.74 58.14 L215.81 58.27 L215.88 58.36 L215.94 58.41 L216.01 58.43 L216.08 58.42 L216.14 58.37 L216.21 58.29 L216.28 58.19 L216.35 58.06 L216.41 57.90 L216.48 57.73 L216.55 57.53 L216.61 57.32 L216.68 57.10 L216.75 56.87 L216.81 56.64 L216.88 56.40 L216.95 56.17 L217.02 55.95 L217.08 55.74 L217.15 55.54 L217.22 55.37 L217.28 55.21 L217.35 55.08 L217.42 54.98 L217.49 54.90 L217.55 54.86 L217.62 54.84 L217.69 54.85 L217.75 54.89 L217.82 54.94 L217.89 55.02 L217.96 55.12 L218.02 55.24 L218.09 55.37 L218.16 55.52 L218.22 55.68 L218.29 55.85 L218.36 56.02 L218.42 56.20 L218.49 56.37 L218.56 56.55 L218.63 56.72 L218.69 56.88 L218.76 57.02 L218.83 57.16 L218.89 57.27 L218.96 57.37 L219.03 57.45 L219.10 57.51 L219.16 57.54 L219.23 57.55 L219.30 57.55 L219.36 57.52 L219.43 57.48 L219.50 57.42 L219.57 57.35 L219.63 57.26 L219.70 57.17 L219.77 57.06 L219.83 56.94 L219.90 56.82 L219.97 56.69 L220.03 56.57 L220.10 56.44 L220.17 56.31 L220.24 56.19 L220.30 56.07 L220.37 55.96 L220.44 55.87" stroke="#0072BD" stroke-width="1.5"/>
<path d="M220.30 56.07 L220.37 55.96 L220.44 55.87 L220.50 55.78 L220.57 55.71 L220.64 55.65 L220.71 55.61 L220.77 55.59 L220.84 55.58 L220.87 55.58 L220.90 55.60 L220.93 55.63 L220.95 55.67 L220.98 55.71 L221.01 55.77 L221.04 55.83 L221.07 55.91 L221.10 55.98 L221.13 56.06 L221.15 56.15 L221.18 56.23 L221.21 56.32 L221.24 56.40 L221.27 56.49 L221.30 56.56 L221.33 56.63 L221.35 56.70 L221.38 56.76 L221.41 56.80 L221.44 56.84 L221.47 56.87 L221.50 56.89 L221.53 56.89 L221.60 56.89 L221.68 56.89 L221.76 56.89 L221.84 56.88 L221.91 56.88 L221.99 56.87 L222.07 56.86 L222.15 56.86 L222.22 56.85 L222.30 56.84 L222.38 56.83 L222.46 56.82 L222.53 56.81 L222.61 56.80 L222.69 56.79 L222.77 56.79 L222.84 56.78 L222.92 56.77 L223.00 56.76 L223.08 56.76 L223.15 56.76 L223.23 56.75 L223.31 56.75 L223.39 56.75 L223.44 56.75 L223.49 56.74 L223.54 56.74 L223.59 56.73 L223.64 56.72 L223.68 56.71 L223.73 56.69 L223.78 56.68 L223.83 56.66 L223.88 56.64 L223.93 56.63 L223.98 56.61 L224.03 56.59 L224.08 56.57 L224.13 56.55 L224.18 56.54 L224.23 56.52 L224.28 56.51 L224.33 56.49 L224.38 56.48 L224.43 56.48 L224.48 56.47 L224.53 56.47 L224.58 56.47 L224.61 56.47 L224.64 56.49 L224.67 56.51 L224.70 56.55 L224.73 56.60 L224.76 56.65 L224.79 56.72 L224.82 56.79 L224.85 56.86 L224.88 56.94 L224.91 57.02 L224.94 57.11 L224.97 57.19 L225.00 57.27 L225.03 57.35 L225.06 57.43 L225.09 57.49 L225.12 57.56 L225.15 57.61 L225.18 57.66 L225.21 57.70 L225.24 57.72 L225.27 57.74 L225.30 57.75 L225.36 57.73 L225.41 57.68 L225.47 57.59 L225.53 57.48 L225.59 57.33 L225.65 57.16 L225.71 56.97 L225.77 56.75 L225.83 56.52 L225.89 56.27 L225.95 56.01 L226.01 55.75 L226.07 55.49 L226.13 55.24 L226.19 54.99 L226.25 54.76 L226.31 54.54 L226.37 54.35 L226.43 54.17 L226.49 54.03 L226.55 53.92 L226.61 53.83 L226.67 53.78 L226.73 53.76 L226.79 53.78 L226.85 53.81 L226.91 53.87 L226.97 53.95 L227.03 54.06 L227.08 54.18 L227.14 54.32 L227.20 54.47 L227.26 54.64 L227.32 54.82 L227.38 55.00 L227.44 55.19 L227.50 55.37 L227.56 55.55 L227.62 55.73 L227.68 55.90 L227.74 56.05 L227.80 56.19 L227.86 56.31 L227.92 56.42 L227.98 56.50 L228.04 56.56 L228.10 56.60 L228.16 56.61 L228.24 56.60 L228.32 56.57 L228.40 56.52 L228.48 56.46 L228.56 56.37 L228.64 56.27 L228.72 56.16 L228.79 56.04 L228.87 55.91 L228.95 55.76 L229.03 55.62 L229.11 55.47 L229.19 55.32 L229.27 55.18 L229.35 55.03 L229.43 54.90 L229.51 54.78 L229.59 54.67 L229.67 54.57 L229.75 54.48 L229.83 54.42 L229.91 54.37 L229.99 54.34 L230.07 54.33 L230.12 54.34 L230.16 54.37 L230.21 54.41 L230.26 54.47 L230.31 54.54 L230.35 54.62 L230.40 54.72 L230.45 54.83 L230.50 54.95 L230.54 55.07 L230.59 55.20 L230.64 55.33 L230.69 55.46 L230.74 55.59 L230.78 55.71 L230.83 55.83 L230.88 55.93 L230.93 56.03 L230.97 56.12 L231.02 56.19 L231.07 56.25 L231.12 56.29 L231.16 56.31 L231.21 56.32 L231.28 56.31 L231.36 56.28 L231.43 56.23 L231.50 56.16 L231.57 56.08 L231.64 55.97 L231.71 55.86 L231.79 55.73 L231.86 55.59 L231.93 55.44 L232.00 55.28 L232.07 55.13 L232.14 54.97 L232.21 54.82 L232.29 54.67 L232.36 54.53 L232.43 54.40 L232.50 54.28 L232.57 54.18 L232.64 54.09 L232.72 54.03 L232.79 53.97 L232.86 53.94 L232.93 53.93 L233.03 53.95 L233.13 54.01 L233.23 54.11 L233.33 54.25 L233.43 54.42 L233.53 54.62 L233.63 54.85 L233.73 55.10 L233.83 55.37 L233.92 55.66 L234.02 55.96 L234.12 56.27 L234.22 56.57 L234.32 56.87 L234.42 57.16 L234.52 57.43 L234.62 57.69 L234.72 57.92 L234.82 58.12 L234.92 58.29 L235.02 58.42 L235.12 58.52 L235.22 58.58 L235.32 58.60 L235.42 57.78 L235.53 57.08 L235.64 56.45 L235.75 55.90 L235.85 55.41 L235.96 54.96 L236.07 54.56 L236.18 54.20 L236.28 53.87 L236.39 53.57 L236.50 53.31 L236.60 53.06 L236.71 52.85 L236.82 52.65 L236.93 52.48 L237.03 52.33 L237.14 52.19 L237.25 52.08 L237.36 51.99 L237.46 51.91 L237.57 51.85 L237.68 51.81 L237.79 51.78 L237.89 51.77 L237.99 51.78 L238.09 51.82 L238.19 51.88 L238.29 51.96 L238.39 52.07 L238.49 52.20 L238.59 52.36 L238.69 52.54 L238.79 52.75 L238.89 53.00 L238.99 53.27 L239.09 53.58 L239.19 53.93 L239.28 54.32 L239.38 54.75 L239.48 55.24 L239.58 55.78 L239.68 56.39 L239.78 57.08 L239.88 57.88 L239.98 58.79 L240.08 59.86 L240.18 61.15 L240.28 62.75 L240.38 61.91 L240.49 61.18 L240.59 60.54 L240.69 59.97 L240.80 59.47 L240.90 59.01 L241.00 58.60 L241.11 58.23 L241.21 57.89 L241.31 57.59 L241.42 57.32 L241.52 57.07 L241.62 56.85 L241.73 56.65 L241.83 56.47 L241.93 56.32 L242.04 56.18 L242.14 56.07 L242.24 55.97 L242.35 55.89 L242.45 55.83 L242.55 55.79 L242.66 55.76 L242.76 55.75 L242.88 55.76 L242.99 55.79 L243.11 55.85 L243.22 55.92 L243.34 56.01 L243.45 56.12 L243.57 56.26 L243.68 56.42 L243.80 56.61 L243.91 56.82 L244.03 57.05 L244.14 57.32 L244.26 57.61 L244.37 57.94 L244.49 58.31 L244.61 58.72 L244.72 59.17 L244.84 59.68 L244.95 60.25 L245.07 60.89 L245.18 61.61 L245.30 62.45 L245.41 63.42 L245.53 64.57 L245.65 62.77 L245.77 61.35 L245.89 60.18 L246.01 59.19 L246.12 58.34 L246.24 57.60 L246.36 56.95 L246.48 56.38 L246.60 55.86 L246.72 55.40 L246.84 55.00 L246.96 54.63 L247.08 54.31 L247.20 54.02 L247.32 53.76 L247.44 53.54 L247.56 53.35 L247.68 53.18 L247.79 53.05 L247.91 52.93 L248.03 52.85 L248.15 52.79 L248.27 52.75 L248.39 52.74 L248.51 52.75 L248.63 52.78 L248.75 52.83 L248.87 52.90 L248.99 52.99 L249.11 53.10 L249.23 53.23 L249.35 53.39 L249.46 53.56 L249.58 53.77 L249.70 54.00 L249.82 54.25 L249.94 54.54 L250.06 54.86 L250.18 55.21 L250.30 55.60 L250.42 56.04 L250.54 56.53 L250.66 57.07 L250.78 57.68 L250.90 58.37 L251.02 59.16 L251.14 60.08 L251.25 61.16 L251.37 60.21 L251.49 59.39 L251.61 58.68 L251.73 58.05 L251.85 57.49 L251.97 57.00 L252.09 56.55 L252.21 56.15 L252.33 55.78 L252.45 55.45 L252.57 55.16 L252.69 54.89 L252.81 54.65 L252.92 54.44 L253.04 54.25 L253.16 54.08 L253.28 53.94 L253.40 53.82 L253.52 53.71 L253.64 53.63 L253.76 53.56 L253.88 53.52 L254.00 53.49 L254.12 53.48 L254.25 53.49 L254.38 53.54 L254.51 53.62 L254.64 53.72 L254.77 53.87 L254.90 54.04 L255.04 54.25 L255.17 54.49 L255.30 54.78 L255.43 55.11 L255.56 55.48 L255.69 55.91 L255.82 56.39 L255.95 56.93 L256.09 57.55 L256.22 58.26 L256.35 59.07 L256.48 60.01 L256.61 61.11 L256.74 62.44 L256.87 64.08 L257.00 66.20 L257.14 69.19 L257.27 74.24 L257.41 68.70 L257.55 65.54 L257.68 63.33 L257.82 61.64 L257.96 60.28 L258.10 59.15 L258.24 58.19 L258.38 57.36 L258.52 56.64 L258.66 56.01 L258.80 55.46 L258.94 54.97 L259.08 54.54 L259.22 54.16 L259.35 53.83 L259.49 53.54 L259.63 53.29 L259.77 53.08 L259.91 52.90 L260.05 52.76 L260.19 52.65 L260.33 52.57 L260.47 52.53 L260.61 52.51 L260.77 52.53 L260.94 52.57 L261.11 52.65 L261.28 52.75 L261.44 52.89 L261.61 53.06 L261.78 53.26 L261.94 53.50 L262.11 53.78 L262.28 54.10 L262.44 54.47 L262.61 54.88 L262.78 55.35 L262.95 55.88 L263.11 56.48 L263.28 57.16 L263.45 57.94 L263.61 58.85 L263.78 59.90 L263.95 61.16 L264.11 62.70 L264.28 64.68 L264.45 67.38 L264.62 71.68 L264.77 66.71 L264.92 63.74 L265.07 61.63 L265.22 60.00 L265.37 58.68 L265.52 57.58 L265.67 56.64 L265.82 55.83 L265.98 55.13 L266.13 54.51 L266.28 53.96 L266.43 53.48 L266.58 53.06 L266.73 52.69 L266.88 52.36 L267.03 52.08 L267.18 51.83 L267.34 51.62 L267.49 51.45 L267.64 51.31 L267.79 51.20 L267.94 51.12 L268.09 51.08 L268.24 51.06 L268.39 51.08 L268.53 51.12 L268.68 51.19 L268.82 51.29 L268.97 51.41 L269.11 51.57 L269.26 51.76 L269.40 51.99 L269.55 52.24 L269.69 52.54 L269.84 52.88 L269.98 53.26 L270.13 53.69 L270.27 54.17 L270.42 54.72 L270.56 55.34 L270.71 56.04 L270.85 56.84 L271.00 57.77 L271.15 58.86 L271.29 60.17 L271.44 61.79 L271.58 63.88 L271.73 66.85 L271.77 65.35 L271.81 64.13 L271.86 63.11 L271.90 62.23 L271.94 61.47 L271.99 60.81 L272.03 60.21 L272.08 59.69 L272.12 59.22 L272.16 58.80 L272.21 58.42 L272.25 58.08 L272.29 57.78 L272.34 57.52 L272.38 57.28 L272.43 57.07 L272.47 56.89 L272.51 56.74 L272.56 56.61 L272.60 56.51 L272.64 56.43 L272.69 56.37 L272.73 56.33 L272.78 56.32 L272.84 56.33 L272.90 56.35 L272.97 56.38 L273.03 56.43 L273.09 56.48 L273.16 56.55 L273.22 56.63 L273.28 56.71 L273.35 56.81 L273.41 56.90 L273.48 57.00 L273.54 57.11 L273.60 57.21 L273.67 57.31 L273.73 57.40 L273.79 57.50 L273.86 57.58 L273.92 57.66 L273.98 57.73 L274.05 57.78 L274.11 57.83 L274.18 57.86 L274.24 57.88 L274.30 57.89 L274.42 56.98 L274.53 56.20 L274.65 55.52 L274.76 54.92 L274.88 54.38 L274.99 53.90 L275.11 53.47 L275.23 53.08 L275.34 52.73 L275.46 52.41 L275.57 52.12 L275.69 51.87 L275.80 51.63 L275.92 51.43 L276.03 51.24 L276.15 51.08 L276.26 50.94 L276.38 50.82 L276.49 50.72 L276.61 50.64 L276.72 50.57 L276.84 50.53 L276.95 50.50 L277.07 50.49 L277.17 50.50 L277.26 50.54 L277.36 50.59 L277.45 50.66 L277.55 50.76 L277.64 50.88 L277.74 51.03 L277.83 51.20 L277.93 51.39 L278.02 51.61 L278.12 51.86 L278.22 52.14 L278.31 52.46 L278.41 52.81 L278.50 53.20 L278.60 53.63 L278.69 54.12 L278.79 54.66 L278.88 55.27 L278.98 55.96 L279.07 56.75 L279.17 57.66 L279.27 58.73 L279.36 60.02 L279.45 60.01 L279.53 59.96 L279.62 59.90 L279.70 59.80 L279.79 59.68 L279.87 59.54 L279.96 59.38 L280.04 59.20 L280.13 59.01 L280.22 58.81 L280.30 58.60 L280.39 58.38 L280.47 58.17 L280.56 57.96 L280.64 57.76 L280.73 57.57 L280.81 57.39 L280.90 57.23 L280.99 57.09 L281.07 56.97 L281.16 56.87 L281.24 56.81 L281.33 56.76 L281.41 56.75 L281.50 56.76 L281.60 56.79 L281.69 56.84 L281.78 56.91 L281.87 57.00 L281.96 57.10 L282.05 57.22 L282.14 57.35 L282.24 57.50 L282.33 57.65 L282.42 57.80 L282.51 57.96 L282.60 58.12 L282.69 58.27 L282.78 58.42 L282.88 58.56 L282.97 58.69 L283.06 58.81 L283.15 58.92 L283.24 59.01 L283.33 59.08 L283.42 59.13 L283.52 59.16 L283.61 59.17 L283.70 58.03 L283.79 57.07 L283.88 56.25 L283.97 55.53 L284.07 54.90 L284.16 54.33 L284.25 53.83 L284.34 53.38 L284.43 52.98 L284.52 52.61 L284.61 52.28 L284.71 51.99 L284.80 51.72 L284.89 51.49 L284.98 51.28 L285.07 51.10 L285.16 50.94 L285.25 50.80 L285.35 50.69 L285.44 50.60 L285.53 50.53 L285.62 50.48 L285.71 50.45 L285.80 50.44 L285.86 50.44 L285.91 50.46 L285.96 50.50 L286.02 50.54 L286.07 50.60 L286.12 50.67 L286.18 50.75 L286.23 50.84 L286.29 50.94 L286.34 51.04 L286.39 51.14 L286.45 51.25 L286.50 51.35 L286.55 51.46 L286.61 51.56 L286.66 51.65 L286.72 51.74 L286.77 51.82 L286.82 51.89 L286.88 51.95 L286.93 52.00 L286.98 52.03 L287.04 52.05 L287.09 52.06 L287.15 52.05 L287.21 52.02 L287.26 51.98 L287.32 51.91 L287.38 51.84 L287.44 51.74 L287.49 51.64 L287.55 51.52 L287.61 51.40 L287.67 51.27 L287.73 51.13 L287.78 50.99 L287.84 50.85 L287.90 50.71 L287.96 50.58 L288.01 50.46 L288.07 50.34 L288.13 50.24 L288.19 50.14 L288.24 50.07 L288.30 50.01 L288.36 49.96 L288.42 49.93 L288.48 49.92 L288.53 49.93 L288.59 49.96 L288.65 49.99 L288.71 50.05 L288.76 50.12 L288.82 50.21 L288.88 50.31 L288.94 50.43 L288.99 50.57 L289.05 50.73 L289.11 50.91 L289.17 51.11 L289.22 51.33 L289.28 51.57 L289.34 51.84 L289.40 52.14 L289.46 52.47 L289.51 52.83 L289.57 53.23 L289.63 53.67 L289.69 54.16 L289.74 54.71 L289.80 55.33 L289.86 56.04 L289.90 56.02 L289.94 55.97 L289.98 55.88 L290.03 55.76 L290.07 55.62 L290.11 55.44 L290.15 55.24 L290.19 55.01 L290.23 54.77 L290.28 54.52 L290.32 54.26 L290.36 53.99 L290.40 53.72 L290.44 53.46 L290.49 53.21 L290.53 52.97 L290.57 52.74 L290.61 52.54 L290.65 52.37 L290.69 52.22 L290.74 52.10 L290.78 52.01 L290.82 51.96 L290.86 51.94 L290.92 51.96 L290.98 52.00 L291.04 52.07 L291.10 52.17 L291.16 52.30 L291.22 52.45 L291.28 52.64 L291.34 52.87 L291.40 53.12 L291.46 53.42 L291.52 53.76 L291.58 54.14 L291.64 54.57 L291.70 55.05 L291.76 55.60 L291.82 56.21 L291.88 56.92 L291.93 57.72 L291.99 58.65 L292.05 59.74 L292.11 61.04 L292.17 62.66 L292.23 64.75 L292.29 67.70 L292.34 66.01 L292.39 64.66 L292.44 63.54 L292.49 62.59 L292.54 61.77 L292.59 61.06 L292.64 60.43 L292.69 59.87 L292.74 59.37 L292.79 58.92 L292.84 58.53 L292.89 58.17 L292.94 57.85 L292.99 57.57 L293.04 57.32 L293.09 57.11 L293.14 56.92 L293.19 56.76 L293.24 56.62 L293.29 56.51 L293.34 56.43 L293.39 56.37 L293.44 56.33 L293.49 56.32 L293.53 56.33 L293.58 56.37 L293.63 56.43 L293.68 56.51 L293.72 56.62 L293.77 56.75 L293.82 56.91 L293.87 57.10 L293.92 57.32 L293.96 57.57 L294.01 57.85 L294.06 58.16 L294.11 58.51 L294.15 58.91 L294.20 59.35 L294.25 59.85 L294.30 60.40 L294.34 61.03 L294.39 61.73 L294.44 62.54 L294.49 63.48 L294.54 64.59 L294.58 65.92 L294.63 67.59 L294.66 65.08 L294.69 63.23 L294.72 61.77 L294.75 60.57 L294.78 59.56 L294.81 58.69 L294.84 57.93 L294.87 57.27 L294.90 56.69 L294.93 56.17 L294.96 55.71 L294.99 55.30 L295.02 54.93 L295.05 54.61 L295.08 54.33 L295.11 54.08 L295.14 53.87 L295.17 53.69 L295.20 53.53 L295.23 53.41 L295.26 53.32 L295.29 53.25 L295.32 53.21 L295.35 53.19 L295.39 53.20 L295.43 53.23 L295.47 53.27 L295.51 53.33 L295.55 53.41 L295.59 53.51 L295.62 53.63 L295.66 53.77 L295.70 53.92 L295.74 54.10 L295.78 54.30 L295.82 54.53 L295.86 54.78 L295.90 55.06 L295.94 55.36 L295.98 55.70 L296.02 56.08 L296.06 56.50 L296.10 56.96 L296.14 57.47 L296.18 58.05 L296.22 58.70 L296.26 59.45 L296.30 60.30 L296.34 58.87 L296.38 57.69 L296.43 56.70 L296.47 55.85 L296.51 55.11 L296.55 54.46 L296.59 53.88 L296.63 53.37 L296.68 52.91 L296.72 52.50 L296.76 52.13 L296.80 51.80 L296.84 51.50 L296.89 51.24 L296.93 51.01 L296.97 50.80 L297.01 50.63 L297.05 50.47 L297.09 50.35 L297.14 50.25 L297.18 50.17 L297.22 50.11 L297.26 50.08 L297.30 50.07 L297.33 50.07 L297.37 50.10 L297.40 50.13 L297.43 50.19 L297.46 50.26 L297.49 50.34 L297.53 50.45 L297.56 50.57 L297.59 50.70 L297.62 50.86 L297.65 51.03 L297.68 51.23 L297.72 51.44 L297.75 51.68 L297.78 51.95 L297.81 52.24 L297.84 52.56 L297.88 52.91 L297.91 53.30 L297.94 53.73 L297.97 54.21 L298.00 54.75 L298.03 55.35 L298.07 56.04 L298.10 52.39 L298.13 49.96 L298.16 48.14 L298.19 46.70 L298.23 45.52 L298.26 44.51 L298.29 43.65 L298.32 42.90 L298.35 42.25 L298.38 41.67 L298.42 41.16 L298.45 40.70 L298.48 40.30 L298.51 39.95 L298.54 39.64 L298.58 39.37 L298.61 39.14 L298.64 38.94 L298.67 38.77 L298.70 38.64 L298.73 38.54 L298.77 38.46 L298.80 38.42 L298.83 38.41 L298.86 38.42 L298.89 38.47 L298.92 38.54 L298.95 38.65 L298.98 38.78 L299.01 38.95 L299.04 39.16 L299.07 39.40 L299.10 39.67 L299.13 39.99 L299.16 40.36 L299.19 40.77 L299.22 41.24 L299.25 41.76 L299.28 42.36 L299.31 43.04 L299.34 43.82 L299.37 44.72 L299.40 45.78 L299.43 47.03 L299.46 48.57 L299.49 50.53 L299.52 53.21 L299.55 57.46 L299.63 38.58 L299.71 33.56 L299.80 30.56 L299.88 28.43 L299.96 26.78 L300.05 25.45 L300.13 24.34 L300.21 23.40 L300.30 22.60 L300.38 21.89 L300.46 21.28 L300.55 20.74 L300.63 20.27 L300.71 19.86 L300.80 19.49 L300.88 19.18 L300.97 18.91 L301.05 18.68 L301.13 18.49 L301.22 18.34 L301.30 18.22 L301.38 18.14 L301.47 18.09 L301.55 18.07 L301.63 18.09 L301.72 18.14 L301.80 18.22 L301.88 18.34 L301.97 18.49 L302.05 18.68 L302.13 18.91 L302.22 19.18 L302.30 19.50 L302.39 19.86 L302.47 20.27 L302.55 20.74 L302.64 21.28 L302.72 21.90 L302.80 22.60 L302.89 23.41 L302.97 24.35 L303.05 25.45 L303.14 26.79 L303.22 28.43 L303.30 30.57 L303.39 33.58 L303.47 38.60 L303.55 57.75 L303.58 53.37 L303.61 50.63 L303.64 48.64 L303.67 47.09 L303.69 45.82 L303.72 44.76 L303.75 43.86 L303.78 43.07 L303.80 42.38 L303.83 41.78 L303.86 41.25 L303.89 40.78 L303.92 40.37 L303.94 40.00 L303.97 39.68 L304.00 39.40 L304.03 39.16 L304.06 38.95 L304.08 38.78 L304.11 38.65 L304.14 38.54 L304.17 38.47 L304.19 38.42 L304.22 38.41 L304.27 38.42 L304.31 38.47 L304.36 38.54 L304.41 38.65 L304.45 38.79 L304.50 38.96 L304.54 39.17 L304.59 39.42 L304.63 39.70 L304.68 40.03 L304.73 40.40 L304.77 40.82 L304.82 41.30 L304.86 41.85 L304.91 42.46 L304.95 43.17 L305.00 43.97 L305.05 44.90 L305.09 46.00 L305.14 47.31 L305.18 48.94 L305.23 51.03 L305.27 53.98 L305.32 58.88 L305.35 57.73 L305.38 56.76 L305.42 55.93 L305.45 55.20 L305.48 54.56 L305.51 53.99 L305.54 53.49 L305.57 53.03 L305.61 52.62 L305.64 52.26 L305.67 51.93 L305.70 51.63 L305.73 51.36 L305.77 51.13 L305.80 50.92 L305.83 50.73 L305.86 50.57 L305.89 50.44 L305.92 50.32 L305.96 50.23 L305.99 50.16 L306.02 50.11 L306.05 50.08 L306.08 50.07 L306.12 50.08 L306.15 50.10 L306.18 50.15 L306.21 50.22 L306.24 50.30 L306.27 50.41 L306.31 50.54 L306.34 50.69 L306.37 50.86 L306.40 51.05 L306.43 51.27 L306.47 51.52 L306.50 51.79 L306.53 52.10 L306.56 52.44 L306.59 52.81 L306.62 53.23 L306.66 53.69 L306.69 54.20 L306.72 54.78 L306.75 55.43 L306.78 56.17 L306.81 57.03 L306.85 58.03 L306.88 57.42 L306.91 56.89 L306.94 56.41 L306.97 55.98 L307.00 55.59 L307.03 55.23 L307.06 54.91 L307.09 54.62 L307.12 54.35 L307.15 54.11 L307.17 53.89 L307.20 53.69 L307.23 53.52 L307.26 53.35 L307.29 53.21 L307.32 53.09 L307.35 52.98 L307.38 52.88 L307.41 52.80 L307.44 52.74 L307.47 52.69 L307.50 52.65 L307.53 52.63 L307.56 52.63 L307.60 52.63 L307.64 52.66 L307.68 52.70 L307.72 52.77 L307.76 52.85 L307.80 52.94 L307.84 53.06 L307.88 53.20 L307.92 53.35 L307.96 53.53 L308.00 53.73 L308.04 53.96 L308.08 54.21 L308.12 54.49 L308.16 54.79 L308.20 55.13 L308.24 55.51 L308.28 55.93 L308.32 56.39 L308.36 56.90 L308.40 57.48 L308.44 58.13 L308.48 58.88 L308.52 59.74 L308.56 58.81 L308.60 58.01 L308.64 57.31 L308.68 56.70 L308.73 56.15 L308.77 55.66 L308.81 55.22 L308.85 54.83 L308.89 54.47 L308.93 54.15 L308.98 53.86 L309.02 53.59 L309.06 53.36 L309.10 53.15 L309.14 52.96 L309.19 52.80 L309.23 52.65 L309.27 52.53 L309.31 52.43 L309.35 52.35 L309.39 52.28 L309.44 52.24 L309.48 52.21 L309.52 52.20 L309.57 52.21 L309.62 52.24 L309.67 52.29 L309.72 52.36 L309.77 52.45 L309.82 52.57 L309.87 52.71 L309.92 52.87 L309.97 53.05 L310.02 53.26 L310.07 53.50 L310.12 53.76 L310.17 54.06 L310.21 54.39 L310.26 54.76 L310.31 55.16 L310.36 55.62 L310.41 56.13 L310.46 56.69 L310.51 57.33 L310.56 58.06 L310.61 58.89 L310.66 59.86 L310.71 61.02 L310.76 59.86 L310.81 58.89 L310.86 58.06 L310.90 57.33 L310.95 56.69 L311.00 56.13 L311.05 55.62 L311.09 55.16 L311.14 54.76 L311.19 54.39 L311.24 54.06 L311.28 53.76 L311.33 53.50 L311.38 53.26 L311.43 53.05 L311.48 52.87 L311.52 52.71 L311.57 52.57 L311.62 52.45 L311.67 52.36 L311.71 52.29 L311.76 52.24 L311.81 52.21 L311.86 52.20 L311.91 52.21 L311.96 52.25 L312.01 52.30 L312.06 52.38 L312.12 52.49 L312.17 52.62 L312.22 52.77 L312.27 52.95 L312.32 53.16 L312.37 53.40 L312.43 53.67 L312.48 53.98 L312.53 54.32 L312.58 54.70 L312.63 55.12 L312.68 55.60 L312.74 56.13 L312.79 56.73 L312.84 57.40 L312.89 58.17 L312.94 59.06 L312.99 60.09 L313.05 61.33 L313.10 62.86 L313.16 61.40 L313.22 60.20 L313.28 59.19 L313.34 58.33 L313.40 57.58 L313.46 56.92 L313.52 56.34 L313.58 55.82 L313.63 55.35 L313.69 54.94 L313.75 54.56 L313.81 54.23 L313.87 53.93 L313.93 53.67 L313.99 53.43 L314.05 53.23 L314.11 53.05 L314.17 52.89 L314.23 52.77 L314.29 52.66 L314.35 52.59 L314.41 52.53 L314.47 52.49 L314.53 52.48 L314.58 52.50 L314.63 52.53 L314.68 52.59 L314.74 52.67 L314.79 52.78 L314.84 52.91 L314.89 53.07 L314.94 53.26 L314.99 53.48 L315.05 53.72 L315.10 54.00 L315.15 54.32 L315.20 54.67 L315.25 55.06 L315.30 55.51 L315.36 56.00 L315.41 56.55 L315.46 57.18 L315.51 57.88 L315.56 58.69 L315.62 59.63 L315.67 60.73 L315.72 62.06 L315.77 63.72 L315.83 62.15 L315.89 60.89 L315.95 59.84 L316.01 58.94 L316.07 58.16 L316.13 57.48 L316.19 56.87 L316.25 56.34 L316.31 55.86 L316.37 55.43 L316.43 55.04 L316.49 54.70 L316.55 54.39 L316.61 54.12 L316.66 53.88 L316.72 53.67 L316.78 53.49 L316.84 53.33 L316.90 53.20 L316.96 53.10 L317.02 53.01 L317.08 52.96 L317.14 52.92 L317.20 52.91 L317.28 52.92 L317.35 52.96 L317.43 53.02 L317.50 53.11 L317.58 53.22 L317.66 53.36 L317.73 53.52 L317.81 53.72 L317.88 53.94 L317.96 54.20 L318.03 54.49 L318.11 54.81 L318.18 55.18 L318.26 55.59 L318.34 56.05 L318.41 56.57 L318.49 57.15 L318.56 57.80 L318.64 58.55 L318.71 59.41 L318.79 60.40 L318.86 61.58 L318.94 63.02 L319.02 64.86 L319.09 63.16 L319.17 61.81 L319.25 60.69 L319.33 59.75 L319.41 58.93 L319.49 58.21 L319.57 57.58 L319.65 57.02 L319.73 56.53 L319.81 56.08 L319.89 55.68 L319.97 55.33 L320.05 55.01 L320.13 54.73 L320.21 54.48 L320.29 54.26 L320.37 54.07 L320.45 53.91 L320.53 53.78 L320.61 53.67 L320.69 53.59 L320.76 53.53 L320.84 53.49 L320.92 53.48 L321.02 53.49 L321.11 53.53 L321.20 53.59 L321.29 53.68 L321.38 53.80 L321.47 53.94 L321.56 54.11 L321.66 54.32 L321.75 54.55 L321.84 54.82 L321.93 55.12 L322.02 55.46 L322.11 55.84 L322.20 56.27 L322.30 56.75 L322.39 57.29 L322.48 57.91 L322.57 58.60 L322.66 59.39 L322.75 60.30 L322.84 61.37 L322.94 62.65 L323.03 64.23 L323.12 66.28 L323.22 64.45 L323.32 63.01 L323.42 61.82 L323.52 60.83 L323.62 59.97 L323.72 59.23 L323.81 58.57 L323.91 57.99 L324.01 57.47 L324.11 57.01 L324.21 56.60 L324.31 56.24 L324.41 55.91 L324.51 55.62 L324.61 55.36 L324.71 55.14 L324.81 54.94 L324.91 54.78 L325.01 54.64 L325.11 54.53 L325.21 54.44 L325.31 54.38 L325.41 54.34 L325.50 54.33 L325.64 54.35 L325.78 54.38 L325.92 54.45 L326.06 54.54 L326.20 54.66 L326.34 54.81 L326.48 54.98 L326.62 55.19 L326.76 55.43 L326.90 55.70 L327.04 56.01 L327.17 56.36 L327.31 56.75 L327.45 57.19 L327.59 57.69 L327.73 58.25 L327.87 58.88 L328.01 59.59 L328.15 60.41 L328.29 61.36 L328.43 62.47 L328.57 63.82 L328.71 65.49 L328.85 67.70 L329.02 65.65 L329.19 64.07 L329.36 62.79 L329.53 61.72 L329.70 60.81 L329.87 60.02 L330.04 59.33 L330.21 58.72 L330.38 58.17 L330.56 57.69 L330.73 57.26 L330.90 56.88 L331.07 56.54 L331.24 56.24 L331.41 55.97 L331.58 55.74 L331.75 55.54 L331.92 55.36 L332.09 55.22 L332.26 55.10 L332.44 55.02 L332.61 54.95 L332.78 54.91 L332.95 54.90 L333.26 54.92 L333.56 54.97 L333.87 55.06 L334.17 55.18 L334.48 55.33 L334.79 55.51 L335.09 55.71 L335.40 55.94 L335.70 56.18 L336.01 56.44 L336.32 56.71 L336.62 56.98 L336.93 57.25 L337.24 57.51 L337.54 57.77 L337.85 58.02 L338.15 58.24 L338.46 58.45 L338.77 58.62 L339.07 58.78 L339.38 58.90 L339.69 58.98 L339.99 59.04 L340.30 59.05 L340.55 59.04 L340.80 59.01 L341.05 58.95 L341.30 58.87 L341.55 58.77 L341.80 58.65 L342.05 58.52 L342.30 58.37 L342.55 58.21 L342.80 58.04 L343.05 57.87 L343.30 57.69 L343.55 57.51 L343.80 57.33 L344.06 57.17 L344.31 57.01 L344.56 56.86 L344.81 56.72 L345.06 56.61 L345.31 56.51 L345.56 56.43 L345.81 56.37 L346.06 56.33 L346.31 56.32 L346.50 56.34 L346.68 56.38 L346.87 56.45 L347.06 56.54 L347.24 56.67 L347.43 56.83 L347.62 57.02 L347.81 57.24 L347.99 57.49 L348.18 57.78 L348.37 58.12 L348.55 58.49 L348.74 58.92 L348.93 59.39 L349.11 59.93 L349.30 60.54 L349.49 61.23 L349.67 62.02 L349.86 62.93 L350.05 64.00 L350.24 65.27 L350.42 66.84 L350.61 68.86 L350.80 71.68 L350.92 69.05 L351.05 67.13 L351.18 65.62 L351.30 64.39 L351.43 63.36 L351.56 62.47 L351.69 61.70 L351.81 61.03 L351.94 60.43 L352.07 59.91 L352.20 59.44 L352.32 59.02 L352.45 58.65 L352.58 58.33 L352.70 58.04 L352.83 57.79 L352.96 57.57 L353.09 57.39 L353.21 57.23 L353.34 57.11 L353.47 57.01 L353.60 56.95 L353.72 56.91 L353.85 56.89 L353.95 56.91 L354.05 56.95 L354.15 57.02 L354.25 57.11 L354.35 57.24 L354.45 57.40 L354.55 57.58 L354.65 57.80 L354.74 58.06 L354.84 58.35 L354.94 58.68 L355.04 59.06 L355.14 59.48 L355.24 59.96 L355.34 60.50 L355.44 61.11 L355.54 61.80 L355.64 62.59 L355.74 63.50 L355.84 64.57 L355.94 65.84 L356.04 67.41 L356.14 69.43 L356.24 72.25 L356.34 69.62 L356.43 67.70 L356.53 66.19 L356.63 64.96 L356.73 63.93 L356.83 63.04 L356.93 62.27 L357.03 61.60 L357.13 61.00 L357.23 60.48 L357.33 60.01 L357.43 59.59 L357.53 59.22 L357.63 58.90 L357.73 58.61 L357.83 58.36 L357.93 58.14 L358.03 57.96 L358.12 57.80 L358.22 57.68 L358.32 57.58 L358.42 57.51 L358.52 57.47 L358.62 57.46 L358.71 57.47 L358.79 57.52 L358.87 57.58 L358.96 57.68 L359.04 57.81 L359.12 57.97 L359.21 58.15 L359.29 58.37 L359.37 58.63 L359.46 58.92 L359.54 59.25 L359.62 59.63 L359.71 60.05 L359.79 60.53 L359.87 61.07 L359.96 61.68 L360.04 62.37 L360.12 63.16 L360.21 64.07 L360.29 65.14 L360.38 66.41 L360.46 67.98 L360.54 70.00 L360.63 72.82 L360.69 70.09 L360.76 68.12 L360.83 66.59 L360.90 65.34 L360.96 64.28 L361.03 63.39 L361.10 62.61 L361.17 61.92 L361.23 61.32 L361.30 60.79 L361.37 60.32 L361.44 59.90 L361.50 59.52 L361.57 59.19 L361.64 58.90 L361.71 58.65 L361.78 58.43 L361.84 58.25 L361.91 58.09 L361.98 57.96 L362.05 57.87 L362.11 57.80 L362.18 57.76 L362.25 57.75 L362.31 57.76 L362.37 57.80 L362.43 57.87 L362.49 57.97 L362.55 58.10 L362.61 58.25 L362.67 58.44 L362.73 58.67 L362.79 58.92 L362.84 59.22 L362.90 59.55 L362.96 59.93 L363.02 60.36 L363.08 60.84 L363.14 61.39 L363.20 62.00 L363.26 62.70 L363.32 63.50 L363.38 64.42 L363.44 65.51 L363.50 66.80 L363.56 68.40 L363.62 70.47 L363.68 73.39 L363.75 70.53 L363.82 68.49 L363.89 66.91 L363.97 65.63 L364.04 64.55 L364.11 63.64 L364.18 62.84 L364.25 62.15 L364.32 61.54 L364.40 61.00 L364.47 60.52 L364.54 60.09 L364.61 59.71 L364.68 59.38 L364.75 59.09 L364.83 58.83 L364.90 58.61 L364.97 58.42 L365.04 58.26 L365.11 58.14 L365.18 58.04 L365.25 57.97 L365.33 57.93 L365.40 57.92 L365.45 57.93 L365.49 57.97 L365.54 58.03 L365.59 58.12 L365.64 58.24 L365.68 58.39 L365.73 58.57 L365.78 58.77 L365.83 59.01 L365.87 59.29 L365.92 59.60 L365.97 59.95 L366.02 60.35 L366.07 60.79 L366.11 61.29 L366.16 61.85 L366.21 62.48 L366.26 63.20 L366.30 64.03 L366.35 64.98 L366.40 66.11 L366.45 67.46 L366.50 69.16 L366.54 71.40 L366.60 69.24 L366.66 67.59 L366.72 66.27 L366.78 65.17 L366.84 64.23 L366.90 63.42 L366.96 62.71 L367.02 62.08 L367.08 61.53 L367.14 61.04 L367.20 60.60 L367.26 60.21 L367.32 59.87 L367.38 59.56 L367.44 59.29 L367.50 59.05 L367.56 58.85 L367.62 58.67 L367.68 58.52 L367.74 58.41 L367.80 58.32 L367.86 58.25 L367.91 58.21 L367.97 58.20 L368.03 58.21 L368.08 58.25 L368.13 58.32 L368.18 58.41 L368.23 58.53 L368.28 58.68 L368.34 58.85 L368.39 59.06 L368.44 59.30 L368.49 59.57 L368.54 59.88 L368.59 60.23 L368.65 60.63 L368.70 61.07 L368.75 61.57 L368.80 62.13 L368.85 62.77 L368.91 63.49 L368.96 64.31 L369.01 65.27 L369.06 66.39 L369.11 67.75 L369.16 69.44 L369.22 71.68 L369.25 69.50 L369.29 67.85 L369.33 66.52 L369.37 65.41 L369.41 64.47 L369.45 63.66 L369.49 62.95 L369.53 62.32 L369.57 61.77 L369.61 61.27 L369.65 60.84 L369.69 60.44 L369.73 60.10 L369.77 59.79 L369.81 59.52 L369.85 59.28 L369.89 59.07 L369.93 58.90 L369.97 58.75 L370.01 58.63 L370.05 58.54 L370.09 58.48 L370.13 58.44 L370.17 58.43 L370.22 58.44 L370.26 58.48 L370.31 58.55 L370.36 58.65 L370.41 58.78 L370.46 58.94 L370.50 59.13 L370.55 59.36 L370.60 59.62 L370.65 59.92 L370.69 60.26 L370.74 60.64 L370.79 61.08 L370.84 61.57 L370.89 62.12 L370.93 62.74 L370.98 63.45 L371.03 64.27 L371.08 65.21 L371.12 66.32 L371.17 67.65 L371.22 69.30 L371.27 71.45 L371.31 74.52 L371.37 71.57 L371.42 69.48 L371.47 67.87 L371.52 66.56 L371.57 65.47 L371.62 64.55 L371.68 63.74 L371.73 63.04 L371.78 62.42 L371.83 61.88 L371.88 61.39 L371.94 60.96 L371.99 60.58 L372.04 60.25 L372.09 59.95 L372.14 59.69 L372.19 59.47 L372.25 59.28 L372.30 59.12 L372.35 58.99 L372.40 58.89 L372.45 58.82 L372.50 58.78 L372.56 58.77 L372.60 58.78 L372.64 58.82 L372.67 58.90 L372.71 58.99 L372.75 59.12 L372.79 59.28 L372.83 59.47 L372.87 59.70 L372.91 59.96 L372.95 60.26 L372.99 60.60 L373.03 60.98 L373.07 61.41 L373.11 61.90 L373.15 62.45 L373.19 63.08 L373.23 63.79 L373.27 64.60 L373.31 65.54 L373.35 66.65 L373.39 67.97 L373.43 69.62 L373.47 71.76 L373.51 74.81 L373.55 71.84 L373.59 69.74 L373.63 68.12 L373.67 66.81 L373.71 65.71 L373.75 64.78 L373.79 63.98 L373.83 63.28 L373.87 62.66 L373.91 62.11 L373.95 61.62 L373.99 61.19 L374.03 60.81 L374.07 60.48 L374.11 60.18 L374.15 59.92 L374.19 59.70 L374.23 59.51 L374.27 59.35 L374.31 59.22 L374.34 59.12 L374.38 59.05 L374.42 59.01 L374.46 59.00 L374.50 59.01 L374.54 59.04 L374.57 59.10 L374.61 59.19 L374.64 59.29 L374.68 59.43 L374.71 59.59 L374.75 59.78 L374.79 59.99 L374.82 60.24 L374.86 60.52 L374.89 60.83 L374.93 61.19 L374.97 61.58 L375.00 62.02 L375.04 62.52 L375.07 63.07 L375.11 63.70 L375.14 64.41 L375.18 65.22 L375.22 66.16 L375.25 67.26 L375.29 68.59 L375.32 70.26 L375.36 68.67 L375.40 67.39 L375.44 66.33 L375.48 65.42 L375.52 64.63 L375.56 63.94 L375.60 63.33 L375.64 62.79 L375.68 62.31 L375.72 61.87 L375.76 61.49 L375.80 61.14 L375.84 60.83 L375.88 60.56 L375.92 60.32 L375.96 60.10 L376.00 59.92 L376.04 59.76 L376.08 59.63 L376.12 59.52 L376.16 59.44 L376.20 59.38 L376.24 59.35 L376.28 59.34 L376.31 59.35 L376.34 59.40 L376.37 59.47 L376.40 59.58 L376.44 59.71 L376.47 59.88 L376.50 60.08 L376.53 60.32 L376.56 60.60 L376.60 60.91 L376.63 61.27 L376.66 61.68 L376.69 62.14 L376.72 62.67 L376.75 63.26 L376.79 63.93 L376.82 64.70 L376.85 65.59 L376.88 66.63 L376.91 67.86 L376.95 69.37 L376.98 71.28 L377.01 73.89 L377.04 77.94 L377.07 74.40 L377.10 72.02 L377.14 70.24 L377.17 68.82 L377.20 67.64 L377.23 66.65 L377.26 65.80 L377.30 65.05 L377.33 64.40 L377.36 63.83 L377.39 63.32 L377.42 62.87 L377.45 62.48 L377.49 62.12 L377.52 61.82 L377.55 61.55 L377.58 61.32 L377.61 61.12 L377.65 60.95 L377.68 60.82 L377.71 60.72 L377.74 60.65 L377.77 60.60 L377.80 60.59 L377.83 317.93 L379.00 325.46 L379.70 323.30 L380.80 334.00 L381.90 322.60 L383.25 329.33 L384.41 324.55 L385.88 322.29 L387.23 321.33 L388.66 327.50 L390.05 328.44 L391.31 326.91 L393.00 324.60 L394.10 333.40 L395.20 322.29 L396.94 329.03 L398.28 326.65 L399.80 324.14 L400.90 332.50 L402.00 323.46 L403.88 327.99 L405.12 324.28 L406.00 322.23 L407.10 341.70 L408.20 324.03 L409.00 322.43 L410.16 321.50 L411.64 322.10 L412.86 324.32 L413.70 322.15 L414.80 334.00 L415.90 323.73 L416.87 325.67 L418.41 327.96 L419.94 323.37 L421.25 324.05 L422.79 329.14 L423.96 322.50 L424.50 322.28 L425.50 323.70 L425.60 343.30 L426.60 338.00 L426.70 322.36 L427.70 325.31 L429.20 322.50 L430.30 332.50 L431.40 322.89 L432.78 324.14 L434.16 329.10 L435.61 325.38 L437.01 326.75 L438.14 328.65 L439.63 328.43 L440.60 324.51 L441.70 331.00 L442.80 325.79 L443.10 324.31 L444.20 331.00 L445.30 323.59 L446.29 321.53 L447.43 322.77 L448.61 323.89 L449.74 321.00 L450.91 321.86 L452.40 325.91 L453.50 334.00 L454.60 322.19 L456.25 322.26 L457.48 323.95 L459.20 325.43 L460.30 331.00 L461.40 323.16 L463.20 322.58 L464.30 332.00 L465.40 322.47 L467.20 323.23 L468.30 331.00 L469.40 325.26 L470.90 322.72 L472.00 332.00 L473.10 324.33 L474.32 329.08 L475.50 324.56 L476.60 330.00 L477.70 323.49 L478.23 321.23 L479.60 324.19 L480.70 340.20 L481.80 322.25 L482.71 326.92 L483.94 324.12 L485.13 327.56 L485.70 322.24 L486.80 337.00 L487.90 322.82 L489.25 322.90 L490.75 329.37 L492.28 327.85 L493.79 327.29 L495.00 325.40 L495.60 324.72 L496.70 331.00 L497.80 323.71 L498.51 323.38 L499.74 326.89 L501.32 324.80 L502.70 323.26 L503.80 346.60 L504.90 324.34 L505.40 323.81 L506.50 333.00 L507.60 323.20 L508.55 322.93 L509.10 325.18 L510.20 338.00 L511.20 322.98 L511.30 324.80 L512.30 340.50 L513.20 324.00 L513.40 324.30 L513.90 330.00 L515.70 315.70 L517.70 333.40 L519.50 317.00 L520.60 341.00 L521.80 322.00 L523.00 349.80 L524.20 313.00 L525.80 339.60 L526.60 325.00 L527.80 341.00 L529.00 320.00 L530.30 315.70 L530.60 318.00" stroke="#0072BD" stroke-width="2.2"/>
<path d="M225.30 60.59 L225.33 60.60 L225.36 60.65 L225.39 60.72 L225.42 60.82 L225.45 60.95 L225.49 61.12 L225.52 61.32 L225.55 61.55 L225.58 61.82 L225.61 62.12 L225.65 62.48 L225.68 62.87 L225.71 63.32 L225.74 63.83 L225.77 64.40 L225.80 65.05 L225.84 65.80 L225.87 66.65 L225.90 67.64 L225.93 68.82 L225.96 70.24 L226.00 72.02 L226.03 74.40 L226.06 77.94 L226.09 73.89 L226.12 71.28 L226.15 69.37 L226.19 67.86 L226.22 66.63 L226.25 65.59 L226.28 64.70 L226.31 63.93 L226.35 63.26 L226.38 62.67 L226.41 62.14 L226.44 61.68 L226.47 61.27 L226.50 60.91 L226.54 60.60 L226.57 60.32 L226.60 60.08 L226.63 59.88 L226.66 59.71 L226.70 59.58 L226.73 59.47 L226.76 59.40 L226.79 59.35 L226.82 59.34 L226.86 59.35 L226.90 59.38 L226.94 59.44 L226.98 59.52 L227.02 59.63 L227.06 59.76 L227.10 59.92 L227.14 60.10 L227.18 60.32 L227.22 60.56 L227.26 60.83 L227.30 61.14 L227.34 61.49 L227.38 61.87 L227.42 62.31 L227.46 62.79 L227.50 63.33 L227.54 63.94 L227.58 64.63 L227.62 65.42 L227.66 66.33 L227.70 67.39 L227.74 68.67 L227.78 70.26 L227.81 68.59 L227.85 67.26 L227.88 66.16 L227.92 65.22 L227.96 64.41 L227.99 63.70 L228.03 63.07 L228.06 62.52 L228.10 62.02 L228.13 61.58 L228.17 61.19 L228.21 60.83 L228.24 60.52 L228.28 60.24 L228.31 59.99 L228.35 59.78 L228.39 59.59 L228.42 59.43 L228.46 59.29 L228.49 59.19 L228.53 59.10 L228.56 59.04 L228.60 59.01 L228.64 59.00 L228.68 59.01 L228.72 59.05 L228.76 59.12 L228.79 59.22 L228.83 59.35 L228.87 59.51 L228.91 59.70 L228.95 59.92 L228.99 60.18 L229.03 60.48 L229.07 60.81 L229.11 61.19 L229.15 61.62 L229.19 62.11 L229.23 62.66 L229.27 63.28 L229.31 63.98 L229.35 64.78 L229.39 65.71 L229.43 66.81 L229.47 68.12 L229.51 69.74 L229.55 71.84 L229.59 74.81 L229.63 71.76 L229.67 69.62 L229.71 67.97 L229.75 66.65 L229.79 65.54 L229.83 64.60 L229.87 63.79 L229.91 63.08 L229.95 62.45 L229.99 61.90 L230.03 61.41 L230.07 60.98 L230.11 60.60 L230.15 60.26 L230.19 59.96 L230.23 59.70 L230.27 59.47 L230.31 59.28 L230.35 59.12 L230.39 58.99 L230.43 58.90 L230.46 58.82 L230.50 58.78 L230.54 58.77 L230.60 58.78 L230.65 58.82 L230.70 58.89 L230.75 58.99 L230.80 59.12 L230.85 59.28 L230.91 59.47 L230.96 59.69 L231.01 59.95 L231.06 60.25 L231.11 60.58 L231.16 60.96 L231.22 61.39 L231.27 61.88 L231.32 62.42 L231.37 63.04 L231.42 63.74 L231.48 64.55 L231.53 65.47 L231.58 66.56 L231.63 67.87 L231.68 69.48 L231.73 71.57 L231.79 74.52 L231.83 71.45 L231.88 69.30 L231.93 67.65 L231.98 66.32 L232.02 65.21 L232.07 64.27 L232.12 63.45 L232.17 62.74 L232.21 62.12 L232.26 61.57 L232.31 61.08 L232.36 60.64 L232.41 60.26 L232.45 59.92 L232.50 59.62 L232.55 59.36 L232.60 59.13 L232.64 58.94 L232.69 58.78 L232.74 58.65 L232.79 58.55 L232.84 58.48 L232.88 58.44 L232.93 58.43 L232.97 58.44 L233.01 58.48 L233.05 58.54 L233.09 58.63 L233.13 58.75 L233.17 58.90 L233.21 59.07 L233.25 59.28 L233.29 59.52 L233.33 59.79 L233.37 60.10 L233.41 60.44 L233.45 60.84 L233.49 61.27 L233.53 61.77 L233.57 62.32 L233.61 62.95 L233.65 63.66 L233.69 64.47 L233.73 65.41 L233.77 66.52 L233.81 67.85 L233.85 69.50 L233.88 71.68 L233.94 69.44 L233.99 67.75 L234.04 66.39 L234.09 65.27 L234.14 64.31 L234.19 63.49 L234.25 62.77 L234.30 62.13 L234.35 61.57 L234.40 61.07 L234.45 60.63 L234.51 60.23 L234.56 59.88 L234.61 59.57 L234.66 59.30 L234.71 59.06 L234.76 58.85 L234.82 58.68 L234.87 58.53 L234.92 58.41 L234.97 58.32 L235.02 58.25 L235.07 58.21 L235.13 58.20 L235.19 58.21 L235.24 58.25 L235.30 58.32 L235.36 58.41 L235.42 58.52 L235.48 58.67 L235.54 58.85 L235.60 59.05 L235.66 59.29 L235.72 59.56 L235.78 59.87 L235.84 60.21 L235.90 60.60 L235.96 61.04 L236.02 61.53 L236.08 62.08 L236.14 62.71 L236.20 63.42 L236.26 64.23 L236.32 65.17 L236.38 66.27 L236.44 67.59 L236.50 69.24 L236.56 71.40 L236.60 69.16 L236.65 67.46 L236.70 66.11 L236.75 64.98 L236.80 64.03 L236.84 63.20 L236.89 62.48 L236.94 61.85 L236.99 61.29 L237.03 60.79 L237.08 60.35 L237.13 59.95 L237.18 59.60 L237.23 59.29 L237.27 59.01 L237.32 58.77 L237.37 58.57 L237.42 58.39 L237.46 58.24 L237.51 58.12 L237.56 58.03 L237.61 57.97 L237.65 57.93 L237.70 57.92 L237.77 57.93 L237.85 57.97 L237.92 58.04 L237.99 58.14 L238.06 58.26 L238.13 58.42 L238.20 58.61 L238.27 58.83 L238.35 59.09 L238.42 59.38 L238.49 59.71 L238.56 60.09 L238.63 60.52 L238.70 61.00 L238.78 61.54 L238.85 62.15 L238.92 62.84 L238.99 63.64 L239.06 64.55 L239.13 65.63 L239.21 66.91 L239.28 68.49 L239.35 70.53 L239.42 73.39 L239.48 70.47 L239.54 68.40 L239.60 66.80 L239.66 65.51 L239.72 64.42 L239.78 63.50 L239.84 62.70 L239.90 62.00 L239.96 61.39 L240.02 60.84 L240.08 60.36 L240.14 59.93 L240.20 59.55 L240.26 59.22 L240.31 58.92 L240.37 58.67 L240.43 58.44 L240.49 58.25 L240.55 58.10 L240.61 57.97 L240.67 57.87 L240.73 57.80 L240.79 57.76 L240.85 57.75 L240.92 57.76 L240.99 57.80 L241.05 57.87 L241.12 57.96 L241.19 58.09 L241.26 58.25 L241.32 58.43 L241.39 58.65 L241.46 58.90 L241.53 59.19 L241.60 59.52 L241.66 59.90 L241.73 60.32 L241.80 60.79 L241.87 61.32 L241.93 61.92 L242.00 62.61 L242.07 63.39 L242.14 64.28 L242.20 65.34 L242.27 66.59 L242.34 68.12 L242.41 70.09 L242.47 72.82 L242.56 70.00 L242.64 67.98 L242.72 66.41 L242.81 65.14 L242.89 64.07 L242.98 63.16 L243.06 62.37 L243.14 61.68 L243.23 61.07 L243.31 60.53 L243.39 60.05 L243.48 59.63 L243.56 59.25 L243.64 58.92 L243.73 58.63 L243.81 58.37 L243.89 58.15 L243.98 57.97 L244.06 57.81 L244.14 57.68 L244.23 57.58 L244.31 57.52 L244.39 57.47 L244.48 57.46 L244.58 57.47 L244.68 57.51 L244.78 57.58 L244.88 57.68 L244.98 57.80 L245.07 57.96 L245.17 58.14 L245.27 58.36 L245.37 58.61 L245.47 58.90 L245.57 59.22 L245.67 59.59 L245.77 60.01 L245.87 60.48 L245.97 61.00 L246.07 61.60 L246.17 62.27 L246.27 63.04 L246.37 63.93 L246.47 64.96 L246.57 66.19 L246.67 67.70 L246.76 69.62 L246.86 72.25 L246.96 69.43 L247.06 67.41 L247.16 65.84 L247.26 64.57 L247.36 63.50 L247.46 62.59 L247.56 61.80 L247.66 61.11 L247.76 60.50 L247.86 59.96 L247.96 59.48 L248.06 59.06 L248.16 58.68 L248.26 58.35 L248.36 58.06 L248.45 57.80 L248.55 57.58 L248.65 57.40 L248.75 57.24 L248.85 57.11 L248.95 57.02 L249.05 56.95 L249.15 56.91 L249.25 56.89 L249.38 56.91 L249.50 56.95 L249.63 57.01 L249.76 57.11 L249.89 57.23 L250.01 57.39 L250.14 57.57 L250.27 57.79 L250.40 58.04 L250.52 58.33 L250.65 58.65 L250.78 59.02 L250.90 59.44 L251.03 59.91 L251.16 60.43 L251.29 61.03 L251.41 61.70 L251.54 62.47 L251.67 63.36 L251.80 64.39 L251.92 65.62 L252.05 67.13 L252.18 69.05 L252.30 71.68 L252.49 68.86 L252.68 66.84 L252.86 65.27 L253.05 64.00 L253.24 62.93 L253.43 62.02 L253.61 61.23 L253.80 60.54 L253.99 59.93 L254.17 59.39 L254.36 58.92 L254.55 58.49 L254.73 58.12 L254.92 57.78 L255.11 57.49 L255.29 57.24 L255.48 57.02 L255.67 56.83 L255.86 56.67 L256.04 56.54 L256.23 56.45 L256.42 56.38 L256.60 56.34 L256.79 56.32 L257.04 56.33 L257.29 56.37 L257.54 56.43 L257.79 56.51 L258.04 56.61 L258.29 56.72 L258.54 56.86 L258.79 57.01 L259.04 57.17 L259.30 57.33 L259.55 57.51 L259.80 57.69 L260.05 57.87 L260.30 58.04 L260.55 58.21 L260.80 58.37 L261.05 58.52 L261.30 58.65 L261.55 58.77 L261.80 58.87 L262.05 58.95 L262.30 59.01 L262.55 59.04 L262.80 59.05 L263.11 59.04 L263.41 58.98 L263.72 58.90 L264.03 58.78 L264.33 58.62 L264.64 58.45 L264.95 58.24 L265.25 58.02 L265.56 57.77 L265.86 57.51 L266.17 57.25 L266.48 56.98 L266.78 56.71 L267.09 56.44 L267.40 56.18 L267.70 55.94 L268.01 55.71 L268.31 55.51 L268.62 55.33 L268.93 55.18 L269.23 55.06 L269.54 54.97 L269.84 54.92 L270.15 54.90 L270.32 54.91 L270.49 54.95 L270.66 55.02 L270.84 55.10 L271.01 55.22 L271.18 55.36 L271.35 55.54 L271.52 55.74 L271.69 55.97 L271.86 56.24 L272.03 56.54 L272.20 56.88 L272.37 57.26 L272.54 57.69 L272.72 58.17 L272.89 58.72 L273.06 59.33 L273.23 60.02 L273.40 60.81 L273.57 61.72 L273.74 62.79 L273.91 64.07 L274.08 65.65 L274.25 67.70 L274.39 65.49 L274.53 63.82 L274.67 62.47 L274.81 61.36 L274.95 60.41 L275.09 59.59 L275.23 58.88 L275.37 58.25 L275.51 57.69 L275.65 57.19 L275.79 56.75 L275.93 56.36 L276.06 56.01 L276.20 55.70 L276.34 55.43 L276.48 55.19 L276.62 54.98 L276.76 54.81 L276.90 54.66 L277.04 54.54 L277.18 54.45 L277.32 54.38 L277.46 54.35 L277.60 54.33 L277.69 54.34 L277.79 54.38 L277.89 54.44 L277.99 54.53 L278.09 54.64 L278.19 54.78 L278.29 54.94 L278.39 55.14 L278.49 55.36 L278.59 55.62 L278.69 55.91 L278.79 56.24 L278.89 56.60 L278.99 57.01 L279.09 57.47 L279.19 57.99 L279.29 58.57 L279.38 59.23 L279.48 59.97 L279.58 60.83 L279.68 61.82 L279.78 63.01 L279.88 64.45 L279.98 66.28 L280.07 64.23 L280.16 62.65 L280.26 61.37 L280.35 60.30 L280.44 59.39 L280.53 58.60 L280.62 57.91 L280.71 57.29 L280.80 56.75 L280.90 56.27 L280.99 55.84 L281.08 55.46 L281.17 55.12 L281.26 54.82 L281.35 54.55 L281.44 54.32 L281.54 54.11 L281.63 53.94 L281.72 53.80 L281.81 53.68 L281.90 53.59 L281.99 53.53 L282.08 53.49 L282.18 53.48 L282.26 53.49 L282.34 53.53 L282.41 53.59 L282.49 53.67 L282.57 53.78 L282.65 53.91 L282.73 54.07 L282.81 54.26 L282.89 54.48 L282.97 54.73 L283.05 55.01 L283.13 55.33 L283.21 55.68 L283.29 56.08 L283.37 56.53 L283.45 57.02 L283.53 57.58 L283.61 58.21 L283.69 58.93 L283.77 59.75 L283.85 60.69 L283.93 61.81 L284.01 63.16 L284.08 64.86 L284.16 63.02 L284.24 61.58 L284.31 60.40 L284.39 59.41 L284.46 58.55 L284.54 57.80 L284.61 57.15 L284.69 56.57 L284.76 56.05 L284.84 55.59 L284.92 55.18 L284.99 54.81 L285.07 54.49 L285.14 54.20 L285.22 53.94 L285.29 53.72 L285.37 53.52 L285.44 53.36 L285.52 53.22 L285.60 53.11 L285.67 53.02 L285.75 52.96 L285.82 52.92 L285.90 52.91 L285.96 52.92 L286.02 52.96 L286.08 53.01 L286.14 53.10 L286.20 53.20 L286.26 53.33 L286.32 53.49 L286.38 53.67 L286.44 53.88 L286.49 54.12 L286.55 54.39 L286.61 54.70 L286.67 55.04 L286.73 55.43 L286.79 55.86 L286.85 56.34 L286.91 56.87 L286.97 57.48 L287.03 58.16 L287.09 58.94 L287.15 59.84 L287.21 60.89 L287.27 62.15 L287.33 63.72 L287.38 62.06 L287.43 60.73 L287.48 59.63 L287.54 58.69 L287.59 57.88 L287.64 57.18 L287.69 56.55 L287.74 56.00 L287.80 55.51 L287.85 55.06 L287.90 54.67 L287.95 54.32 L288.00 54.00 L288.05 53.72 L288.11 53.48 L288.16 53.26 L288.21 53.07 L288.26 52.91 L288.31 52.78 L288.36 52.67 L288.42 52.59 L288.47 52.53 L288.52 52.50 L288.57 52.48 L288.63 52.49 L288.69 52.53 L288.75 52.59 L288.81 52.66 L288.87 52.77 L288.93 52.89 L288.99 53.05 L289.05 53.23 L289.11 53.43 L289.17 53.67 L289.23 53.93 L289.29 54.23 L289.35 54.56 L289.41 54.94 L289.47 55.35 L289.52 55.82 L289.58 56.34 L289.64 56.92 L289.70 57.58 L289.76 58.33 L289.82 59.19 L289.88 60.20 L289.94 61.40 L290.00 62.86 L290.05 61.33 L290.11 60.09 L290.16 59.06 L290.21 58.17 L290.26 57.40 L290.31 56.73 L290.36 56.13 L290.42 55.60 L290.47 55.12 L290.52 54.70 L290.57 54.32 L290.62 53.98 L290.67 53.67 L290.73 53.40 L290.78 53.16 L290.83 52.95 L290.88 52.77 L290.93 52.62 L290.98 52.49 L291.04 52.38 L291.09 52.30 L291.14 52.25 L291.19 52.21 L291.24 52.20 L291.29 52.21 L291.34 52.24 L291.39 52.29 L291.43 52.36 L291.48 52.45 L291.53 52.57 L291.58 52.71 L291.62 52.87 L291.67 53.05 L291.72 53.26 L291.77 53.50 L291.82 53.76 L291.86 54.06 L291.91 54.39 L291.96 54.76 L292.01 55.16 L292.05 55.62 L292.10 56.13 L292.15 56.69 L292.20 57.33 L292.24 58.06 L292.29 58.89 L292.34 59.86 L292.39 61.02 L292.44 59.86 L292.49 58.89 L292.54 58.06 L292.59 57.33 L292.64 56.69 L292.69 56.13 L292.74 55.62 L292.79 55.16 L292.84 54.76 L292.89 54.39 L292.93 54.06 L292.98 53.76 L293.03 53.50 L293.08 53.26 L293.13 53.05 L293.18 52.87 L293.23 52.71 L293.28 52.57 L293.33 52.45 L293.38 52.36 L293.43 52.29 L293.48 52.24 L293.53 52.21 L293.58 52.20 L293.62 52.21 L293.66 52.24 L293.71 52.28 L293.75 52.35 L293.79 52.43 L293.83 52.53 L293.87 52.65 L293.92 52.80 L293.96 52.96 L294.00 53.15 L294.04 53.36 L294.08 53.59 L294.12 53.86 L294.17 54.15 L294.21 54.47 L294.25 54.83 L294.29 55.22 L294.33 55.66 L294.37 56.15 L294.42 56.70 L294.46 57.31 L294.50 58.01 L294.54 58.81 L294.58 59.74 L294.62 58.88 L294.66 58.13 L294.70 57.48 L294.74 56.90 L294.78 56.39 L294.82 55.93 L294.86 55.51 L294.90 55.13 L294.94 54.79 L294.98 54.49 L295.02 54.21 L295.06 53.96 L295.10 53.73 L295.14 53.53 L295.18 53.35 L295.22 53.20 L295.26 53.06 L295.30 52.94 L295.34 52.85 L295.38 52.77 L295.42 52.70 L295.46 52.66 L295.50 52.63 L295.54 52.63 L295.57 52.63 L295.60 52.65 L295.63 52.69 L295.66 52.74 L295.69 52.80 L295.72 52.88 L295.75 52.98 L295.78 53.09 L295.81 53.21 L295.84 53.35 L295.87 53.52 L295.90 53.69 L295.93 53.89 L295.95 54.11 L295.98 54.35 L296.01 54.62 L296.04 54.91 L296.07 55.23 L296.10 55.59 L296.13 55.98 L296.16 56.41 L296.19 56.89 L296.22 57.42 L296.25 58.03 L296.29 57.03 L296.32 56.17 L296.35 55.43 L296.38 54.78 L296.41 54.20 L296.44 53.69 L296.48 53.23 L296.51 52.81 L296.54 52.44 L296.57 52.10 L296.60 51.79 L296.63 51.52 L296.67 51.27 L296.70 51.05 L296.73 50.86 L296.76 50.69 L296.79 50.54 L296.83 50.41 L296.86 50.30 L296.89 50.22 L296.92 50.15 L296.95 50.10 L296.98 50.08 L297.02 50.07 L297.05 50.08 L297.08 50.11 L297.11 50.16 L297.14 50.23 L297.18 50.32 L297.21 50.44 L297.24 50.57 L297.27 50.73 L297.30 50.92 L297.33 51.13 L297.37 51.36 L297.40 51.63 L297.43 51.93 L297.46 52.26 L297.49 52.62 L297.53 53.03 L297.56 53.49 L297.59 53.99 L297.62 54.56 L297.65 55.20 L297.68 55.93 L297.72 56.76 L297.75 57.73 L297.78 58.88 L297.83 53.98 L297.87 51.03 L297.92 48.94 L297.96 47.31 L298.01 46.00 L298.05 44.90 L298.10 43.97 L298.15 43.17 L298.19 42.46 L298.24 41.85 L298.28 41.30 L298.33 40.82 L298.37 40.40 L298.42 40.03 L298.47 39.70 L298.51 39.42 L298.56 39.17 L298.60 38.96 L298.65 38.79 L298.69 38.65 L298.74 38.54 L298.79 38.47 L298.83 38.42 L298.88 38.41 L298.91 38.42 L298.93 38.47 L298.96 38.54 L298.99 38.65 L299.02 38.78 L299.04 38.95 L299.07 39.16 L299.10 39.40 L299.13 39.68 L299.16 40.00 L299.18 40.37 L299.21 40.78 L299.24 41.25 L299.27 41.78 L299.30 42.38 L299.32 43.07 L299.35 43.86 L299.38 44.76 L299.41 45.82 L299.43 47.09 L299.46 48.64 L299.49 50.63 L299.52 53.37 L299.55 57.75 L299.63 38.60 L299.71 33.58 L299.80 30.57 L299.88 28.43 L299.96 26.79 L300.05 25.45 L300.13 24.35 L300.21 23.41 L300.30 22.60 L300.38 21.90 L300.46 21.28 L300.55 20.74 L300.63 20.27 L300.71 19.86 L300.80 19.50 L300.88 19.18 L300.97 18.91 L301.05 18.68 L301.13 18.49 L301.22 18.34 L301.30 18.22 L301.38 18.14 L301.47 18.09 L301.55 18.07 L301.63 18.09 L301.72 18.14 L301.80 18.22 L301.88 18.34 L301.97 18.49 L302.05 18.68 L302.13 18.91 L302.22 19.18 L302.30 19.50 L302.39 19.86 L302.47 20.27 L302.55 20.74 L302.64 21.28 L302.72 21.90 L302.80 22.60 L302.89 23.41 L302.97 24.35 L303.05 25.45 L303.14 26.79 L303.22 28.43 L303.30 30.57 L303.39 33.58 L303.47 38.60 L303.55 57.75 L303.58 53.37 L303.61 50.63 L303.64 48.64 L303.67 47.09 L303.69 45.82 L303.72 44.76 L303.75 43.86 L303.78 43.07 L303.80 42.38 L303.83 41.78 L303.86 41.25 L303.89 40.78 L303.92 40.37 L303.94 40.00 L303.97 39.68 L304.00 39.40 L304.03 39.16 L304.06 38.95 L304.08 38.78 L304.11 38.65 L304.14 38.54 L304.17 38.47 L304.19 38.42 L304.22 38.41 L304.27 38.42 L304.31 38.47 L304.36 38.54 L304.41 38.65 L304.45 38.79 L304.50 38.96 L304.54 39.17 L304.59 39.42 L304.63 39.70 L304.68 40.03 L304.73 40.40 L304.77 40.82 L304.82 41.30 L304.86 41.85 L304.91 42.46 L304.95 43.17 L305.00 43.97 L305.05 44.90 L305.09 46.00 L305.14 47.31 L305.18 48.94 L305.23 51.03 L305.27 53.98 L305.32 58.88 L305.35 57.73 L305.38 56.76 L305.42 55.93 L305.45 55.20 L305.48 54.56 L305.51 53.99 L305.54 53.49 L305.57 53.03 L305.61 52.62 L305.64 52.26 L305.67 51.93 L305.70 51.63 L305.73 51.36 L305.77 51.13 L305.80 50.92 L305.83 50.73 L305.86 50.57 L305.89 50.44 L305.92 50.32 L305.96 50.23 L305.99 50.16 L306.02 50.11 L306.05 50.08 L306.08 50.07 L306.12 50.08 L306.15 50.10 L306.18 50.15 L306.21 50.22 L306.24 50.30 L306.27 50.41 L306.31 50.54 L306.34 50.69 L306.37 50.86 L306.40 51.05 L306.43 51.27 L306.47 51.52 L306.50 51.79 L306.53 52.10 L306.56 52.44 L306.59 52.81 L306.62 53.23 L306.66 53.69 L306.69 54.20 L306.72 54.78 L306.75 55.43 L306.78 56.17 L306.81 57.03 L306.85 58.03 L306.88 57.42 L306.91 56.89 L306.94 56.41 L306.97 55.98 L307.00 55.59 L307.03 55.23 L307.06 54.91 L307.09 54.62 L307.12 54.35 L307.15 54.11 L307.17 53.89 L307.20 53.69 L307.23 53.52 L307.26 53.35 L307.29 53.21 L307.32 53.09 L307.35 52.98 L307.38 52.88 L307.41 52.80 L307.44 52.74 L307.47 52.69 L307.50 52.65 L307.53 52.63 L307.56 52.63 L307.60 52.63 L307.64 52.66 L307.68 52.70 L307.72 52.77 L307.76 52.85 L307.80 52.94 L307.84 53.06 L307.88 53.20 L307.92 53.35 L307.96 53.53 L308.00 53.73 L308.04 53.96 L308.08 54.21 L308.12 54.49 L308.16 54.79 L308.20 55.13 L308.24 55.51 L308.28 55.93 L308.32 56.39 L308.36 56.90 L308.40 57.48 L308.44 58.13 L308.48 58.88 L308.52 59.74 L308.56 58.81 L308.60 58.01 L308.64 57.31 L308.68 56.70 L308.73 56.15 L308.77 55.66 L308.81 55.22 L308.85 54.83 L308.89 54.47 L308.93 54.15 L308.98 53.86 L309.02 53.59 L309.06 53.36 L309.10 53.15 L309.14 52.96 L309.19 52.80 L309.23 52.65 L309.27 52.53 L309.31 52.43 L309.35 52.35 L309.39 52.28 L309.44 52.24 L309.48 52.21 L309.52 52.20 L309.57 52.21 L309.62 52.24 L309.67 52.29 L309.72 52.36 L309.77 52.45 L309.82 52.57 L309.87 52.71 L309.92 52.87 L309.97 53.05 L310.02 53.26 L310.07 53.50 L310.12 53.76 L310.17 54.06 L310.21 54.39 L310.26 54.76 L310.31 55.16 L310.36 55.62 L310.41 56.13 L310.46 56.69 L310.51 57.33 L310.56 58.06 L310.61 58.89 L310.66 59.86 L310.71 61.02 L310.76 59.86 L310.81 58.89 L310.86 58.06 L310.90 57.33 L310.95 56.69 L311.00 56.13 L311.05 55.62 L311.09 55.16 L311.14 54.76 L311.19 54.39 L311.24 54.06 L311.28 53.76 L311.33 53.50 L311.38 53.26 L311.43 53.05 L311.48 52.87 L311.52 52.71 L311.57 52.57 L311.62 52.45 L311.67 52.36 L311.71 52.29 L311.76 52.24 L311.81 52.21 L311.86 52.20 L311.91 52.21 L311.96 52.25 L312.01 52.30 L312.06 52.38 L312.12 52.49 L312.17 52.62 L312.22 52.77 L312.27 52.95 L312.32 53.16 L312.37 53.40 L312.43 53.67 L312.48 53.98 L312.53 54.32 L312.58 54.70 L312.63 55.12 L312.68 55.60 L312.74 56.13 L312.79 56.73 L312.84 57.40 L312.89 58.17 L312.94 59.06 L312.99 60.09 L313.05 61.33 L313.10 62.86 L313.16 61.40 L313.22 60.20 L313.28 59.19 L313.34 58.33 L313.40 57.58 L313.46 56.92 L313.52 56.34 L313.58 55.82 L313.63 55.35 L313.69 54.94 L313.75 54.56 L313.81 54.23 L313.87 53.93 L313.93 53.67 L313.99 53.43 L314.05 53.23 L314.11 53.05 L314.17 52.89 L314.23 52.77 L314.29 52.66 L314.35 52.59 L314.41 52.53 L314.47 52.49 L314.53 52.48 L314.58 52.50 L314.63 52.53 L314.68 52.59 L314.74 52.67 L314.79 52.78 L314.84 52.91 L314.89 53.07 L314.94 53.26 L314.99 53.48 L315.05 53.72 L315.10 54.00 L315.15 54.32 L315.20 54.67 L315.25 55.06 L315.30 55.51 L315.36 56.00 L315.41 56.55 L315.46 57.18 L315.51 57.88 L315.56 58.69 L315.62 59.63 L315.67 60.73 L315.72 62.06 L315.77 63.72 L315.83 62.15 L315.89 60.89 L315.95 59.84 L316.01 58.94 L316.07 58.16 L316.13 57.48 L316.19 56.87 L316.25 56.34 L316.31 55.86 L316.37 55.43 L316.43 55.04 L316.49 54.70 L316.55 54.39 L316.61 54.12 L316.66 53.88 L316.72 53.67 L316.78 53.49 L316.84 53.33 L316.90 53.20 L316.96 53.10 L317.02 53.01 L317.08 52.96 L317.14 52.92 L317.20 52.91 L317.28 52.92 L317.35 52.96 L317.43 53.02 L317.50 53.11 L317.58 53.22 L317.66 53.36 L317.73 53.52 L317.81 53.72 L317.88 53.94 L317.96 54.20 L318.03 54.49 L318.11 54.81 L318.18 55.18 L318.26 55.59 L318.34 56.05 L318.41 56.57 L318.49 57.15 L318.56 57.80 L318.64 58.55 L318.71 59.41 L318.79 60.40 L318.86 61.58 L318.94 63.02 L319.02 64.86 L319.09 63.16 L319.17 61.81 L319.25 60.69 L319.33 59.75 L319.41 58.93 L319.49 58.21 L319.57 57.58 L319.65 57.02 L319.73 56.53 L319.81 56.08 L319.89 55.68 L319.97 55.33 L320.05 55.01 L320.13 54.73 L320.21 54.48 L320.29 54.26 L320.37 54.07 L320.45 53.91 L320.53 53.78 L320.61 53.67 L320.69 53.59 L320.76 53.53 L320.84 53.49 L320.92 53.48 L321.02 53.49 L321.11 53.53 L321.20 53.59 L321.29 53.68 L321.38 53.80 L321.47 53.94 L321.56 54.11 L321.66 54.32 L321.75 54.55 L321.84 54.82 L321.93 55.12 L322.02 55.46 L322.11 55.84 L322.20 56.27 L322.30 56.75 L322.39 57.29 L322.48 57.91 L322.57 58.60 L322.66 59.39 L322.75 60.30 L322.84 61.37 L322.94 62.65 L323.03 64.23 L323.12 66.28 L323.22 64.45 L323.32 63.01 L323.42 61.82 L323.52 60.83 L323.62 59.97 L323.72 59.23 L323.81 58.57 L323.91 57.99 L324.01 57.47 L324.11 57.01 L324.21 56.60 L324.31 56.24 L324.41 55.91 L324.51 55.62 L324.61 55.36 L324.71 55.14 L324.81 54.94 L324.91 54.78 L325.01 54.64 L325.11 54.53 L325.21 54.44 L325.31 54.38 L325.41 54.34 L325.50 54.33 L325.64 54.35 L325.78 54.38 L325.92 54.45 L326.06 54.54 L326.20 54.66 L326.34 54.81 L326.48 54.98 L326.62 55.19 L326.76 55.43 L326.90 55.70 L327.04 56.01 L327.17 56.36 L327.31 56.75 L327.45 57.19 L327.59 57.69 L327.73 58.25 L327.87 58.88 L328.01 59.59 L328.15 60.41 L328.29 61.36 L328.43 62.47 L328.57 63.82 L328.71 65.49 L328.85 67.70 L329.02 65.65 L329.19 64.07 L329.36 62.79 L329.53 61.72 L329.70 60.81 L329.87 60.02 L330.04 59.33 L330.21 58.72 L330.38 58.17 L330.56 57.69 L330.73 57.26 L330.90 56.88 L331.07 56.54 L331.24 56.24 L331.41 55.97 L331.58 55.74 L331.75 55.54 L331.92 55.36 L332.09 55.22 L332.26 55.10 L332.44 55.02 L332.61 54.95 L332.78 54.91 L332.95 54.90 L333.26 54.92 L333.56 54.97 L333.87 55.06 L334.17 55.18 L334.48 55.33 L334.79 55.51 L335.09 55.71 L335.40 55.94 L335.70 56.18 L336.01 56.44 L336.32 56.71 L336.62 56.98 L336.93 57.25 L337.24 57.51 L337.54 57.77 L337.85 58.02 L338.15 58.24 L338.46 58.45 L338.77 58.62 L339.07 58.78 L339.38 58.90 L339.69 58.98 L339.99 59.04 L340.30 59.05 L340.55 59.04 L340.80 59.01 L341.05 58.95 L341.30 58.87 L341.55 58.77 L341.80 58.65 L342.05 58.52 L342.30 58.37 L342.55 58.21 L342.80 58.04 L343.05 57.87 L343.30 57.69 L343.55 57.51 L343.80 57.33 L344.06 57.17 L344.31 57.01 L344.56 56.86 L344.81 56.72 L345.06 56.61 L345.31 56.51 L345.56 56.43 L345.81 56.37 L346.06 56.33 L346.31 56.32 L346.50 56.34 L346.68 56.38 L346.87 56.45 L347.06 56.54 L347.24 56.67 L347.43 56.83 L347.62 57.02 L347.81 57.24 L347.99 57.49 L348.18 57.78 L348.37 58.12 L348.55 58.49 L348.74 58.92 L348.93 59.39 L349.11 59.93 L349.30 60.54 L349.49 61.23 L349.67 62.02 L349.86 62.93 L350.05 64.00 L350.24 65.27 L350.42 66.84 L350.61 68.86 L350.80 71.68 L350.92 69.05 L351.05 67.13 L351.18 65.62 L351.30 64.39 L351.43 63.36 L351.56 62.47 L351.69 61.70 L351.81 61.03 L351.94 60.43 L352.07 59.91 L352.20 59.44 L352.32 59.02 L352.45 58.65 L352.58 58.33 L352.70 58.04 L352.83 57.79 L352.96 57.57 L353.09 57.39 L353.21 57.23 L353.34 57.11 L353.47 57.01 L353.60 56.95 L353.72 56.91 L353.85 56.89 L353.95 56.91 L354.05 56.95 L354.15 57.02 L354.25 57.11 L354.35 57.24 L354.45 57.40 L354.55 57.58 L354.65 57.80 L354.74 58.06 L354.84 58.35 L354.94 58.68 L355.04 59.06 L355.14 59.48 L355.24 59.96 L355.34 60.50 L355.44 61.11 L355.54 61.80 L355.64 62.59 L355.74 63.50 L355.84 64.57 L355.94 65.84 L356.04 67.41 L356.14 69.43 L356.24 72.25 L356.34 69.62 L356.43 67.70 L356.53 66.19 L356.63 64.96 L356.73 63.93 L356.83 63.04 L356.93 62.27 L357.03 61.60 L357.13 61.00 L357.23 60.48 L357.33 60.01 L357.43 59.59 L357.53 59.22 L357.63 58.90 L357.73 58.61 L357.83 58.36 L357.93 58.14 L358.03 57.96 L358.12 57.80 L358.22 57.68 L358.32 57.58 L358.42 57.51 L358.52 57.47 L358.62 57.46 L358.71 57.47 L358.79 57.52 L358.87 57.58 L358.96 57.68 L359.04 57.81 L359.12 57.97 L359.21 58.15 L359.29 58.37 L359.37 58.63 L359.46 58.92 L359.54 59.25 L359.62 59.63 L359.71 60.05 L359.79 60.53 L359.87 61.07 L359.96 61.68 L360.04 62.37 L360.12 63.16 L360.21 64.07 L360.29 65.14 L360.38 66.41 L360.46 67.98 L360.54 70.00 L360.63 72.82 L360.69 70.09 L360.76 68.12 L360.83 66.59 L360.90 65.34 L360.96 64.28 L361.03 63.39 L361.10 62.61 L361.17 61.92 L361.23 61.32 L361.30 60.79 L361.37 60.32 L361.44 59.90 L361.50 59.52 L361.57 59.19 L361.64 58.90 L361.71 58.65 L361.78 58.43 L361.84 58.25 L361.91 58.09 L361.98 57.96 L362.05 57.87 L362.11 57.80 L362.18 57.76 L362.25 57.75 L362.31 57.76 L362.37 57.80 L362.43 57.87 L362.49 57.97 L362.55 58.10 L362.61 58.25 L362.67 58.44 L362.73 58.67 L362.79 58.92 L362.84 59.22 L362.90 59.55 L362.96 59.93 L363.02 60.36 L363.08 60.84 L363.14 61.39 L363.20 62.00 L363.26 62.70 L363.32 63.50 L363.38 64.42 L363.44 65.51 L363.50 66.80 L363.56 68.40 L363.62 70.47 L363.68 73.39 L363.75 70.53 L363.82 68.49 L363.89 66.91 L363.97 65.63 L364.04 64.55 L364.11 63.64 L364.18 62.84 L364.25 62.15 L364.32 61.54 L364.40 61.00 L364.47 60.52 L364.54 60.09 L364.61 59.71 L364.68 59.38 L364.75 59.09 L364.83 58.83 L364.90 58.61 L364.97 58.42 L365.04 58.26 L365.11 58.14 L365.18 58.04 L365.25 57.97 L365.33 57.93 L365.40 57.92 L365.45 57.93 L365.49 57.97 L365.54 58.03 L365.59 58.12 L365.64 58.24 L365.68 58.39 L365.73 58.57 L365.78 58.77 L365.83 59.01 L365.87 59.29 L365.92 59.60 L365.97 59.95 L366.02 60.35 L366.07 60.79 L366.11 61.29 L366.16 61.85 L366.21 62.48 L366.26 63.20 L366.30 64.03 L366.35 64.98 L366.40 66.11 L366.45 67.46 L366.50 69.16 L366.54 71.40 L366.60 69.24 L366.66 67.59 L366.72 66.27 L366.78 65.17 L366.84 64.23 L366.90 63.42 L366.96 62.71 L367.02 62.08 L367.08 61.53 L367.14 61.04 L367.20 60.60 L367.26 60.21 L367.32 59.87 L367.38 59.56 L367.44 59.29 L367.50 59.05 L367.56 58.85 L367.62 58.67 L367.68 58.52 L367.74 58.41 L367.80 58.32 L367.86 58.25 L367.91 58.21 L367.97 58.20 L368.03 58.21 L368.08 58.25 L368.13 58.32 L368.18 58.41 L368.23 58.53 L368.28 58.68 L368.34 58.85 L368.39 59.06 L368.44 59.30 L368.49 59.57 L368.54 59.88 L368.59 60.23 L368.65 60.63 L368.70 61.07 L368.75 61.57 L368.80 62.13 L368.85 62.77 L368.91 63.49 L368.96 64.31 L369.01 65.27 L369.06 66.39 L369.11 67.75 L369.16 69.44 L369.22 71.68 L369.25 69.50 L369.29 67.85 L369.33 66.52 L369.37 65.41 L369.41 64.47 L369.45 63.66 L369.49 62.95 L369.53 62.32 L369.57 61.77 L369.61 61.27 L369.65 60.84 L369.69 60.44 L369.73 60.10 L369.77 59.79 L369.81 59.52 L369.85 59.28 L369.89 59.07 L369.93 58.90 L369.97 58.75 L370.01 58.63 L370.05 58.54 L370.09 58.48 L370.13 58.44 L370.17 58.43 L370.22 58.44 L370.26 58.48 L370.31 58.55 L370.36 58.65 L370.41 58.78 L370.46 58.94 L370.50 59.13 L370.55 59.36 L370.60 59.62 L370.65 59.92 L370.69 60.26 L370.74 60.64 L370.79 61.08 L370.84 61.57 L370.89 62.12 L370.93 62.74 L370.98 63.45 L371.03 64.27 L371.08 65.21 L371.12 66.32 L371.17 67.65 L371.22 69.30 L371.27 71.45 L371.31 74.52 L371.37 71.57 L371.42 69.48 L371.47 67.87 L371.52 66.56 L371.57 65.47 L371.62 64.55 L371.68 63.74 L371.73 63.04 L371.78 62.42 L371.83 61.88 L371.88 61.39 L371.94 60.96 L371.99 60.58 L372.04 60.25 L372.09 59.95 L372.14 59.69 L372.19 59.47 L372.25 59.28 L372.30 59.12 L372.35 58.99 L372.40 58.89 L372.45 58.82 L372.50 58.78 L372.56 58.77 L372.60 58.78 L372.64 58.82 L372.67 58.90 L372.71 58.99 L372.75 59.12 L372.79 59.28 L372.83 59.47 L372.87 59.70 L372.91 59.96 L372.95 60.26 L372.99 60.60 L373.03 60.98 L373.07 61.41 L373.11 61.90 L373.15 62.45 L373.19 63.08 L373.23 63.79 L373.27 64.60 L373.31 65.54 L373.35 66.65 L373.39 67.97 L373.43 69.62 L373.47 71.76 L373.51 74.81 L373.55 71.84 L373.59 69.74 L373.63 68.12 L373.67 66.81 L373.71 65.71 L373.75 64.78 L373.79 63.98 L373.83 63.28 L373.87 62.66 L373.91 62.11 L373.95 61.62 L373.99 61.19 L374.03 60.81 L374.07 60.48 L374.11 60.18 L374.15 59.92 L374.19 59.70 L374.23 59.51 L374.27 59.35 L374.31 59.22 L374.34 59.12 L374.38 59.05 L374.42 59.01 L374.46 59.00 L374.50 59.01 L374.54 59.04 L374.57 59.10 L374.61 59.19 L374.64 59.29 L374.68 59.43 L374.71 59.59 L374.75 59.78 L374.79 59.99 L374.82 60.24 L374.86 60.52 L374.89 60.83 L374.93 61.19 L374.97 61.58 L375.00 62.02 L375.04 62.52 L375.07 63.07 L375.11 63.70 L375.14 64.41 L375.18 65.22 L375.22 66.16 L375.25 67.26 L375.29 68.59 L375.32 70.26 L375.36 68.67 L375.40 67.39 L375.44 66.33 L375.48 65.42 L375.52 64.63 L375.56 63.94 L375.60 63.33 L375.64 62.79 L375.68 62.31 L375.72 61.87 L375.76 61.49 L375.80 61.14 L375.84 60.83 L375.88 60.56 L375.92 60.32 L375.96 60.10 L376.00 59.92 L376.04 59.76 L376.08 59.63 L376.12 59.52 L376.16 59.44 L376.20 59.38 L376.24 59.35 L376.28 59.34 L376.31 59.35 L376.34 59.40 L376.37 59.47 L376.40 59.58 L376.44 59.71 L376.47 59.88 L376.50 60.08 L376.53 60.32 L376.56 60.60 L376.60 60.91 L376.63 61.27 L376.66 61.68 L376.69 62.14 L376.72 62.67 L376.75 63.26 L376.79 63.93 L376.82 64.70 L376.85 65.59 L376.88 66.63 L376.91 67.86 L376.95 69.37 L376.98 71.28 L377.01 73.89 L377.04 77.94 L377.07 74.40 L377.10 72.02 L377.14 70.24 L377.17 68.82 L377.20 67.64 L377.23 66.65 L377.26 65.80 L377.30 65.05 L377.33 64.40 L377.36 63.83 L377.39 63.32 L377.42 62.87 L377.45 62.48 L377.49 62.12 L377.52 61.82 L377.55 61.55 L377.58 61.32 L377.61 61.12 L377.65 60.95 L377.68 60.82 L377.71 60.72 L377.74 60.65 L377.77 60.60 L377.80 60.59" stroke="#D95319" stroke-width="2.2" stroke-dasharray="10.5 6.3"/>
</g>
<g stroke="#262626" stroke-width="1.2" fill="none">
<rect x="72.50" y="18.10" width="458.10" height="358.00"/>
<line x1="187.03" y1="376.10" x2="187.03" y2="371.50"/>
<line x1="187.03" y1="18.10" x2="187.03" y2="22.70"/>
<line x1="301.55" y1="376.10" x2="301.55" y2="371.50"/>
<line x1="301.55" y1="18.10" x2="301.55" y2="22.70"/>
<line x1="416.08" y1="376.10" x2="416.08" y2="371.50"/>
<line x1="416.08" y1="18.10" x2="416.08" y2="22.70"/>
<line x1="72.50" y1="331.35" x2="77.10" y2="331.35"/>
<line x1="530.60" y1="331.35" x2="526.00" y2="331.35"/>
<line x1="72.50" y1="286.60" x2="77.10" y2="286.60"/>
<line x1="530.60" y1="286.60" x2="526.00" y2="286.60"/>
<line x1="72.50" y1="241.85" x2="77.10" y2="241.85"/>
<line x1="530.60" y1="241.85" x2="526.00" y2="241.85"/>
<line x1="72.50" y1="197.10" x2="77.10" y2="197.10"/>
<line x1="530.60" y1="197.10" x2="526.00" y2="197.10"/>
<line x1="72.50" y1="152.35" x2="77.10" y2="152.35"/>
<line x1="530.60" y1="152.35" x2="526.00" y2="152.35"/>
<line x1="72.50" y1="107.60" x2="77.10" y2="107.60"/>
<line x1="530.60" y1="107.60" x2="526.00" y2="107.60"/>
<line x1="72.50" y1="62.85" x2="77.10" y2="62.85"/>
<line x1="530.60" y1="62.85" x2="526.00" y2="62.85"/>
</g>
<g font-family="'Liberation Sans', Arial, Helvetica, sans-serif" font-weight="bold" fill="#262626">
<g font-size="16.8px" text-anchor="end">
<text x="65.1" y="383.20">-400</text>
<text x="65.1" y="338.45">-350</text>
<text x="65.1" y="293.70">-300</text>
<text x="65.1" y="248.95">-250</text>
<text x="65.1" y="204.20">-200</text>
<text x="65.1" y="159.45">-150</text>
<text x="65.1" y="114.70">-100</text>
<text x="65.1" y="69.95">-50</text>
<text x="65.1" y="25.20">0</text>
</g>
<g font-size="16.8px" text-anchor="middle">
<text x="71.20" y="400.9">-10</text>
<text x="185.72" y="400.9">-5</text>
<text x="301.55" y="400.9">0</text>
<text x="416.08" y="400.9">5</text>
<text x="530.60" y="400.9">10</text>
</g>
<text x="302.2" y="425.2" font-size="17.9px" text-anchor="middle">Delay (<tspan font-style="italic" font-size="20px" dx="1.6">µ</tspan><tspan dx="0.8">s)</tspan></text>
<text transform="translate(23.4 197) rotate(-90)" font-size="18.2px" text-anchor="middle">Amplitude (dB)</text>
</g>
<rect x="182.50" y="100.50" width="330.50" height="226.00" fill="#ffffff"/>
<g stroke="#DFDFDF" stroke-width="1" fill="none">
<line x1="182.50" y1="165.54" x2="513.00" y2="165.54"/>
<line x1="182.50" y1="228.48" x2="513.00" y2="228.48"/>
<line x1="182.50" y1="291.42" x2="513.00" y2="291.42"/>
</g>
<g clip-path="url(#ci)" fill="none" stroke-linejoin="round">
<path d="M172.23 238.10 L172.37 237.28 L172.51 236.47 L172.65 235.69 L172.79 234.95 L172.93 234.26 L173.07 233.64 L173.21 233.10 L173.35 232.64 L173.49 232.27 L173.63 232.01 L173.77 231.85 L173.92 231.79 L174.06 231.83 L174.20 231.95 L174.34 232.15 L174.48 232.43 L174.62 232.78 L174.76 233.19 L174.90 233.66 L175.04 234.18 L175.18 234.73 L175.32 235.33 L175.46 235.94 L175.60 236.56 L175.74 237.18 L175.88 237.79 L176.02 238.38 L176.16 238.94 L176.31 239.46 L176.45 239.93 L176.59 240.34 L176.73 240.69 L176.87 240.97 L177.01 241.17 L177.15 241.29 L177.29 241.33 L177.43 241.30 L177.57 241.21 L177.71 241.06 L177.85 240.86 L177.99 240.61 L178.13 240.31 L178.27 239.97 L178.41 239.59 L178.55 239.18 L178.70 238.75 L178.84 238.31 L178.98 237.85 L179.12 237.40 L179.26 236.95 L179.40 236.52 L179.54 236.12 L179.68 235.74 L179.82 235.40 L179.96 235.10 L180.10 234.84 L180.24 234.64 L180.38 234.50 L180.52 234.41 L180.66 234.38 L180.72 234.40 L180.78 234.46 L180.84 234.56 L180.90 234.69 L180.96 234.86 L181.02 235.06 L181.08 235.28 L181.14 235.53 L181.20 235.81 L181.26 236.09 L181.32 236.39 L181.38 236.69 L181.44 236.99 L181.50 237.29 L181.56 237.57 L181.62 237.84 L181.68 238.10 L181.74 238.32 L181.80 238.52 L181.86 238.69 L181.92 238.82 L181.98 238.92 L182.04 238.98 L182.10 239.00 L182.26 239.00 L182.43 238.99 L182.59 238.98 L182.75 238.97 L182.91 238.95 L183.07 238.93 L183.24 238.90 L183.40 238.88 L183.56 238.85 L183.73 238.81 L183.89 238.78 L184.05 238.75 L184.21 238.72 L184.38 238.69 L184.54 238.65 L184.70 238.62 L184.86 238.60 L185.03 238.57 L185.19 238.55 L185.35 238.53 L185.51 238.52 L185.68 238.51 L185.84 238.50 L186.00 238.50 L186.10 238.50 L186.21 238.48 L186.31 238.46 L186.42 238.43 L186.52 238.40 L186.62 238.35 L186.73 238.30 L186.83 238.25 L186.94 238.19 L187.04 238.13 L187.15 238.07 L187.25 238.00 L187.35 237.93 L187.46 237.87 L187.56 237.81 L187.67 237.75 L187.77 237.70 L187.88 237.65 L187.98 237.60 L188.08 237.57 L188.19 237.54 L188.29 237.52 L188.40 237.50 L188.50 237.50 L188.56 237.52 L188.62 237.58 L188.69 237.67 L188.75 237.80 L188.81 237.96 L188.88 238.16 L188.94 238.38 L189.00 238.62 L189.06 238.89 L189.12 239.17 L189.19 239.46 L189.25 239.75 L189.31 240.04 L189.38 240.33 L189.44 240.61 L189.50 240.88 L189.56 241.12 L189.62 241.34 L189.69 241.54 L189.75 241.70 L189.81 241.83 L189.88 241.92 L189.94 241.98 L190.00 242.00 L190.12 241.94 L190.25 241.76 L190.38 241.47 L190.50 241.06 L190.62 240.55 L190.75 239.95 L190.88 239.26 L191.00 238.50 L191.12 237.68 L191.25 236.81 L191.38 235.91 L191.50 235.00 L191.62 234.09 L191.75 233.19 L191.88 232.32 L192.00 231.50 L192.12 230.74 L192.25 230.05 L192.38 229.45 L192.50 228.94 L192.62 228.53 L192.75 228.24 L192.88 228.06 L193.00 228.00 L193.12 228.04 L193.25 228.17 L193.38 228.38 L193.50 228.67 L193.62 229.03 L193.75 229.46 L193.88 229.96 L194.00 230.50 L194.12 231.09 L194.25 231.71 L194.38 232.35 L194.50 233.00 L194.62 233.65 L194.75 234.29 L194.88 234.91 L195.00 235.50 L195.12 236.04 L195.25 236.54 L195.38 236.97 L195.50 237.33 L195.62 237.62 L195.75 237.83 L195.88 237.96 L196.00 238.00 L196.17 237.97 L196.33 237.86 L196.50 237.70 L196.67 237.46 L196.83 237.17 L197.00 236.83 L197.17 236.44 L197.33 236.00 L197.50 235.53 L197.67 235.04 L197.83 234.52 L198.00 234.00 L198.17 233.48 L198.33 232.96 L198.50 232.47 L198.67 232.00 L198.83 231.56 L199.00 231.17 L199.17 230.83 L199.33 230.54 L199.50 230.30 L199.67 230.14 L199.83 230.03 L200.00 230.00 L200.10 230.03 L200.20 230.12 L200.30 230.27 L200.40 230.47 L200.50 230.72 L200.60 231.03 L200.70 231.37 L200.80 231.75 L200.90 232.16 L201.00 232.59 L201.10 233.04 L201.20 233.50 L201.30 233.96 L201.40 234.41 L201.50 234.84 L201.60 235.25 L201.70 235.63 L201.80 235.97 L201.90 236.28 L202.00 236.53 L202.10 236.73 L202.20 236.88 L202.30 236.97 L202.40 237.00 L202.55 236.96 L202.70 236.86 L202.85 236.68 L203.00 236.44 L203.15 236.13 L203.30 235.77 L203.45 235.36 L203.60 234.90 L203.75 234.41 L203.90 233.89 L204.05 233.35 L204.20 232.80 L204.35 232.25 L204.50 231.71 L204.65 231.19 L204.80 230.70 L204.95 230.24 L205.10 229.83 L205.25 229.47 L205.40 229.16 L205.55 228.92 L205.70 228.74 L205.85 228.64 L206.00 228.60 L206.21 228.67 L206.42 228.88 L206.62 229.22 L206.83 229.70 L207.04 230.29 L207.25 231.00 L207.46 231.81 L207.67 232.70 L207.88 233.66 L208.08 234.68 L208.29 235.73 L208.50 236.80 L208.71 237.87 L208.92 238.92 L209.12 239.94 L209.33 240.90 L209.54 241.79 L209.75 242.60 L209.96 243.31 L210.17 243.90 L210.38 244.38 L210.58 244.72 L210.79 244.93 L211.00 245.00 L211.22 242.14 L211.45 239.65 L211.68 237.46 L211.90 235.52 L212.12 233.78 L212.35 232.22 L212.57 230.81 L212.80 229.53 L213.03 228.38 L213.25 227.33 L213.47 226.39 L213.70 225.54 L213.93 224.77 L214.15 224.09 L214.38 223.48 L214.60 222.95 L214.83 222.48 L215.05 222.08 L215.28 221.75 L215.50 221.48 L215.72 221.27 L215.95 221.12 L216.18 221.03 L216.40 221.00 L216.61 221.04 L216.82 221.16 L217.03 221.37 L217.23 221.66 L217.44 222.03 L217.65 222.50 L217.86 223.05 L218.07 223.70 L218.28 224.45 L218.48 225.30 L218.69 226.27 L218.90 227.36 L219.11 228.58 L219.32 229.94 L219.53 231.47 L219.73 233.18 L219.94 235.09 L220.15 237.24 L220.36 239.68 L220.57 242.46 L220.77 245.67 L220.98 249.44 L221.19 253.97 L221.40 259.60 L221.62 256.64 L221.83 254.08 L222.05 251.83 L222.27 249.84 L222.48 248.05 L222.70 246.45 L222.92 245.01 L223.13 243.71 L223.35 242.53 L223.57 241.46 L223.78 240.50 L224.00 239.63 L224.22 238.85 L224.43 238.15 L224.65 237.53 L224.87 236.98 L225.08 236.51 L225.30 236.10 L225.52 235.76 L225.73 235.49 L225.95 235.27 L226.17 235.12 L226.38 235.03 L226.60 235.00 L226.84 235.04 L227.08 235.14 L227.32 235.32 L227.57 235.57 L227.81 235.90 L228.05 236.30 L228.29 236.78 L228.53 237.34 L228.78 237.99 L229.02 238.73 L229.26 239.56 L229.50 240.50 L229.74 241.54 L229.98 242.70 L230.23 243.99 L230.47 245.43 L230.71 247.02 L230.95 248.81 L231.19 250.80 L231.43 253.05 L231.68 255.60 L231.92 258.53 L232.16 261.94 L232.40 266.00 L232.65 259.66 L232.90 254.66 L233.15 250.55 L233.40 247.08 L233.65 244.10 L233.90 241.50 L234.15 239.21 L234.40 237.18 L234.65 235.38 L234.90 233.77 L235.15 232.34 L235.40 231.05 L235.65 229.91 L235.90 228.90 L236.15 228.00 L236.40 227.22 L236.65 226.54 L236.90 225.96 L237.15 225.48 L237.40 225.09 L237.65 224.78 L237.90 224.57 L238.15 224.44 L238.40 224.40 L238.65 224.43 L238.90 224.54 L239.15 224.71 L239.40 224.96 L239.65 225.27 L239.90 225.66 L240.15 226.13 L240.40 226.67 L240.65 227.30 L240.90 228.01 L241.15 228.82 L241.40 229.72 L241.65 230.72 L241.90 231.84 L242.15 233.09 L242.40 234.47 L242.65 236.01 L242.90 237.72 L243.15 239.63 L243.40 241.77 L243.65 244.20 L243.90 246.98 L244.15 250.20 L244.40 254.00 L244.65 250.65 L244.90 247.78 L245.15 245.28 L245.40 243.08 L245.65 241.12 L245.90 239.37 L246.15 237.80 L246.40 236.38 L246.65 235.10 L246.90 233.95 L247.15 232.91 L247.40 231.97 L247.65 231.13 L247.90 230.38 L248.15 229.71 L248.40 229.13 L248.65 228.62 L248.90 228.18 L249.15 227.82 L249.40 227.52 L249.65 227.29 L249.90 227.13 L250.15 227.03 L250.40 227.00 L250.68 227.05 L250.95 227.21 L251.23 227.48 L251.50 227.86 L251.78 228.36 L252.05 228.97 L252.33 229.70 L252.60 230.57 L252.88 231.57 L253.15 232.73 L253.43 234.04 L253.70 235.54 L253.97 237.23 L254.25 239.15 L254.53 241.33 L254.80 243.81 L255.07 246.66 L255.35 249.97 L255.62 253.85 L255.90 258.51 L256.18 264.27 L256.45 271.74 L256.73 282.26 L257.00 300.00 L257.29 280.52 L257.58 269.41 L257.88 261.64 L258.17 255.69 L258.46 250.91 L258.75 246.93 L259.04 243.56 L259.33 240.65 L259.62 238.13 L259.92 235.91 L260.21 233.96 L260.50 232.25 L260.79 230.73 L261.08 229.40 L261.38 228.23 L261.67 227.21 L261.96 226.34 L262.25 225.59 L262.54 224.97 L262.83 224.47 L263.12 224.09 L263.42 223.82 L263.71 223.65 L264.00 223.60 L264.35 223.65 L264.70 223.81 L265.05 224.07 L265.40 224.44 L265.75 224.93 L266.10 225.52 L266.45 226.24 L266.80 227.09 L267.15 228.07 L267.50 229.19 L267.85 230.47 L268.20 231.93 L268.55 233.57 L268.90 235.43 L269.25 237.54 L269.60 239.95 L269.95 242.69 L270.30 245.87 L270.65 249.58 L271.00 254.01 L271.35 259.44 L271.70 266.37 L272.05 275.89 L272.40 291.00 L272.72 273.51 L273.03 263.07 L273.35 255.65 L273.67 249.92 L273.98 245.28 L274.30 241.41 L274.62 238.12 L274.93 235.27 L275.25 232.80 L275.57 230.62 L275.88 228.71 L276.20 227.02 L276.52 225.53 L276.83 224.22 L277.15 223.07 L277.47 222.06 L277.78 221.20 L278.10 220.47 L278.42 219.86 L278.73 219.36 L279.05 218.98 L279.37 218.71 L279.68 218.55 L280.00 218.50 L280.30 218.55 L280.61 218.70 L280.91 218.94 L281.22 219.29 L281.52 219.74 L281.82 220.30 L282.13 220.96 L282.43 221.75 L282.74 222.66 L283.04 223.70 L283.35 224.88 L283.65 226.22 L283.95 227.73 L284.26 229.44 L284.56 231.36 L284.87 233.53 L285.17 236.00 L285.48 238.83 L285.78 242.10 L286.08 245.94 L286.39 250.53 L286.69 256.21 L287.00 263.58 L287.30 274.00 L287.39 268.73 L287.48 264.44 L287.57 260.85 L287.67 257.78 L287.76 255.11 L287.85 252.76 L287.94 250.68 L288.03 248.83 L288.12 247.18 L288.22 245.70 L288.31 244.38 L288.40 243.19 L288.49 242.13 L288.58 241.19 L288.68 240.36 L288.77 239.63 L288.86 239.00 L288.95 238.46 L289.04 238.01 L289.13 237.64 L289.23 237.36 L289.32 237.16 L289.41 237.04 L289.50 237.00 L289.63 237.02 L289.77 237.09 L289.90 237.21 L290.03 237.37 L290.17 237.57 L290.30 237.81 L290.43 238.08 L290.57 238.38 L290.70 238.70 L290.83 239.04 L290.97 239.39 L291.10 239.75 L291.23 240.11 L291.37 240.46 L291.50 240.80 L291.63 241.12 L291.77 241.42 L291.90 241.69 L292.03 241.93 L292.17 242.13 L292.30 242.29 L292.43 242.41 L292.57 242.48 L292.70 242.50 L292.94 239.32 L293.18 236.58 L293.42 234.18 L293.67 232.07 L293.91 230.18 L294.15 228.49 L294.39 226.97 L294.63 225.60 L294.88 224.36 L295.12 223.25 L295.36 222.24 L295.60 221.33 L295.84 220.51 L296.08 219.78 L296.32 219.14 L296.57 218.57 L296.81 218.07 L297.05 217.65 L297.29 217.29 L297.53 217.01 L297.77 216.78 L298.02 216.63 L298.26 216.53 L298.50 216.50 L298.70 216.54 L298.90 216.65 L299.10 216.84 L299.30 217.10 L299.50 217.45 L299.70 217.87 L299.90 218.38 L300.10 218.97 L300.30 219.65 L300.50 220.43 L300.70 221.31 L300.90 222.30 L301.10 223.40 L301.30 224.64 L301.50 226.01 L301.70 227.54 L301.90 229.24 L302.10 231.15 L302.30 233.30 L302.50 235.72 L302.70 238.49 L302.90 241.69 L303.10 245.46 L303.30 250.00 L303.48 249.95 L303.66 249.80 L303.84 249.56 L304.02 249.23 L304.20 248.81 L304.38 248.32 L304.55 247.75 L304.73 247.12 L304.91 246.45 L305.09 245.74 L305.27 245.00 L305.45 244.25 L305.63 243.50 L305.81 242.76 L305.99 242.05 L306.17 241.38 L306.35 240.75 L306.53 240.18 L306.70 239.69 L306.88 239.27 L307.06 238.94 L307.24 238.70 L307.42 238.55 L307.60 238.50 L307.79 238.54 L307.98 238.64 L308.18 238.82 L308.37 239.07 L308.56 239.38 L308.75 239.74 L308.94 240.16 L309.13 240.62 L309.32 241.12 L309.52 241.65 L309.71 242.20 L309.90 242.75 L310.09 243.30 L310.28 243.85 L310.48 244.38 L310.67 244.88 L310.86 245.34 L311.05 245.76 L311.24 246.12 L311.43 246.43 L311.62 246.68 L311.82 246.86 L312.01 246.96 L312.20 247.00 L312.39 243.00 L312.58 239.63 L312.77 236.73 L312.97 234.21 L313.16 231.98 L313.35 230.00 L313.54 228.24 L313.73 226.65 L313.93 225.23 L314.12 223.95 L314.31 222.79 L314.50 221.76 L314.69 220.83 L314.88 220.00 L315.07 219.27 L315.27 218.63 L315.46 218.07 L315.65 217.59 L315.84 217.19 L316.03 216.87 L316.23 216.62 L316.42 216.44 L316.61 216.34 L316.80 216.30 L316.91 216.32 L317.02 216.40 L317.14 216.52 L317.25 216.68 L317.36 216.89 L317.48 217.13 L317.59 217.42 L317.70 217.73 L317.81 218.06 L317.93 218.41 L318.04 218.78 L318.15 219.15 L318.26 219.52 L318.38 219.89 L318.49 220.24 L318.60 220.57 L318.71 220.88 L318.82 221.17 L318.94 221.41 L319.05 221.62 L319.16 221.78 L319.27 221.90 L319.39 221.98 L319.50 222.00 L319.62 221.97 L319.74 221.87 L319.86 221.71 L319.98 221.50 L320.10 221.23 L320.23 220.90 L320.35 220.53 L320.47 220.12 L320.59 219.69 L320.71 219.22 L320.83 218.74 L320.95 218.25 L321.07 217.76 L321.19 217.28 L321.31 216.81 L321.43 216.38 L321.55 215.97 L321.67 215.60 L321.80 215.27 L321.92 215.00 L322.04 214.79 L322.16 214.63 L322.28 214.53 L322.40 214.50 L322.52 214.53 L322.64 214.61 L322.76 214.75 L322.88 214.94 L323.00 215.19 L323.12 215.49 L323.25 215.86 L323.37 216.29 L323.49 216.78 L323.61 217.33 L323.73 217.96 L323.85 218.66 L323.97 219.43 L324.09 220.29 L324.21 221.24 L324.33 222.29 L324.45 223.44 L324.57 224.71 L324.70 226.12 L324.82 227.67 L324.94 229.40 L325.06 231.34 L325.18 233.52 L325.30 236.00 L325.39 235.94 L325.48 235.75 L325.56 235.45 L325.65 235.04 L325.74 234.51 L325.82 233.89 L325.91 233.18 L326.00 232.40 L326.09 231.56 L326.18 230.66 L326.26 229.74 L326.35 228.80 L326.44 227.86 L326.52 226.94 L326.61 226.04 L326.70 225.20 L326.79 224.42 L326.88 223.71 L326.96 223.09 L327.05 222.56 L327.14 222.15 L327.22 221.85 L327.31 221.66 L327.40 221.60 L327.52 221.65 L327.65 221.80 L327.77 222.04 L327.90 222.39 L328.02 222.84 L328.15 223.39 L328.27 224.06 L328.40 224.85 L328.52 225.75 L328.65 226.79 L328.77 227.98 L328.90 229.31 L329.02 230.82 L329.15 232.53 L329.27 234.45 L329.40 236.62 L329.52 239.09 L329.65 241.91 L329.77 245.18 L329.90 249.01 L330.02 253.60 L330.15 259.26 L330.27 266.62 L330.40 277.00 L330.50 271.04 L330.61 266.30 L330.71 262.37 L330.82 259.04 L330.92 256.16 L331.02 253.65 L331.13 251.43 L331.23 249.47 L331.34 247.71 L331.44 246.15 L331.55 244.75 L331.65 243.50 L331.75 242.39 L331.86 241.40 L331.96 240.52 L332.07 239.76 L332.17 239.09 L332.27 238.53 L332.38 238.05 L332.48 237.67 L332.59 237.38 L332.69 237.17 L332.80 237.04 L332.90 237.00 L333.00 237.04 L333.10 237.17 L333.20 237.37 L333.30 237.67 L333.40 238.05 L333.50 238.52 L333.60 239.08 L333.70 239.74 L333.80 240.50 L333.90 241.37 L334.00 242.35 L334.10 243.46 L334.20 244.70 L334.30 246.09 L334.40 247.64 L334.50 249.38 L334.60 251.34 L334.70 253.53 L334.80 256.03 L334.90 258.88 L335.00 262.17 L335.10 266.06 L335.20 270.74 L335.30 276.60 L335.36 267.78 L335.43 261.27 L335.49 256.14 L335.55 251.93 L335.61 248.37 L335.68 245.32 L335.74 242.67 L335.80 240.34 L335.86 238.28 L335.93 236.46 L335.99 234.84 L336.05 233.40 L336.11 232.12 L336.18 230.98 L336.24 229.99 L336.30 229.12 L336.36 228.37 L336.43 227.72 L336.49 227.19 L336.55 226.76 L336.61 226.42 L336.68 226.19 L336.74 226.05 L336.80 226.00 L336.88 226.03 L336.97 226.12 L337.05 226.28 L337.13 226.49 L337.22 226.77 L337.30 227.12 L337.38 227.53 L337.47 228.01 L337.55 228.56 L337.63 229.19 L337.72 229.90 L337.80 230.69 L337.88 231.57 L337.97 232.54 L338.05 233.62 L338.13 234.82 L338.22 236.14 L338.30 237.61 L338.38 239.23 L338.47 241.05 L338.55 243.08 L338.63 245.37 L338.72 247.98 L338.80 251.00 L338.89 245.94 L338.98 241.81 L339.06 238.33 L339.15 235.34 L339.24 232.74 L339.32 230.45 L339.41 228.42 L339.50 226.61 L339.59 225.00 L339.68 223.55 L339.76 222.25 L339.85 221.08 L339.94 220.04 L340.02 219.12 L340.11 218.30 L340.20 217.59 L340.29 216.96 L340.38 216.43 L340.46 215.99 L340.55 215.63 L340.64 215.35 L340.72 215.16 L340.81 215.04 L340.90 215.00 L340.97 215.03 L341.03 215.11 L341.10 215.24 L341.17 215.43 L341.23 215.67 L341.30 215.98 L341.37 216.33 L341.43 216.75 L341.50 217.23 L341.57 217.78 L341.63 218.39 L341.70 219.08 L341.77 219.84 L341.83 220.68 L341.90 221.61 L341.97 222.64 L342.03 223.76 L342.10 225.01 L342.17 226.38 L342.23 227.90 L342.30 229.58 L342.37 231.47 L342.43 233.59 L342.50 236.00 L342.57 223.17 L342.63 214.63 L342.70 208.24 L342.77 203.18 L342.83 199.00 L342.90 195.47 L342.97 192.44 L343.03 189.81 L343.10 187.50 L343.17 185.47 L343.23 183.67 L343.30 182.08 L343.37 180.67 L343.43 179.43 L343.50 178.34 L343.57 177.39 L343.63 176.57 L343.70 175.87 L343.77 175.29 L343.83 174.82 L343.90 174.46 L343.97 174.20 L344.03 174.05 L344.10 174.00 L344.16 174.05 L344.23 174.21 L344.29 174.47 L344.35 174.84 L344.41 175.32 L344.48 175.92 L344.54 176.64 L344.60 177.48 L344.66 178.46 L344.73 179.58 L344.79 180.86 L344.85 182.31 L344.91 183.95 L344.98 185.81 L345.04 187.91 L345.10 190.31 L345.16 193.05 L345.23 196.21 L345.29 199.92 L345.35 204.33 L345.41 209.73 L345.48 216.62 L345.54 226.07 L345.60 241.00 L345.78 174.61 L345.95 156.97 L346.12 146.42 L346.30 138.91 L346.48 133.13 L346.65 128.45 L346.83 124.56 L347.00 121.25 L347.18 118.41 L347.35 115.94 L347.53 113.78 L347.70 111.89 L347.88 110.23 L348.05 108.78 L348.23 107.50 L348.40 106.40 L348.57 105.45 L348.75 104.65 L348.93 103.98 L349.10 103.44 L349.28 103.03 L349.45 102.73 L349.62 102.56 L349.80 102.50 L349.98 102.56 L350.15 102.73 L350.32 103.03 L350.50 103.44 L350.68 103.98 L350.85 104.65 L351.03 105.45 L351.20 106.40 L351.38 107.51 L351.55 108.78 L351.73 110.23 L351.90 111.89 L352.07 113.79 L352.25 115.95 L352.43 118.42 L352.60 121.26 L352.77 124.57 L352.95 128.46 L353.12 133.14 L353.30 138.93 L353.48 146.45 L353.65 157.02 L353.82 174.70 L354.00 242.00 L354.06 226.62 L354.12 216.99 L354.18 210.00 L354.23 204.54 L354.29 200.08 L354.35 196.35 L354.41 193.16 L354.47 190.40 L354.52 187.99 L354.58 185.87 L354.64 184.00 L354.70 182.35 L354.76 180.89 L354.82 179.61 L354.88 178.48 L354.93 177.50 L354.99 176.65 L355.05 175.93 L355.11 175.33 L355.17 174.85 L355.22 174.47 L355.28 174.21 L355.34 174.05 L355.40 174.00 L355.50 174.05 L355.59 174.21 L355.69 174.48 L355.78 174.86 L355.88 175.35 L355.97 175.96 L356.07 176.69 L356.17 177.56 L356.26 178.56 L356.36 179.70 L356.45 181.01 L356.55 182.50 L356.65 184.19 L356.74 186.10 L356.84 188.26 L356.93 190.73 L357.03 193.57 L357.12 196.85 L357.22 200.71 L357.32 205.33 L357.41 211.03 L357.51 218.40 L357.60 228.75 L357.70 246.00 L357.77 241.94 L357.83 238.53 L357.90 235.60 L357.97 233.05 L358.03 230.80 L358.10 228.81 L358.17 227.02 L358.23 225.43 L358.30 223.99 L358.37 222.70 L358.43 221.54 L358.50 220.50 L358.57 219.56 L358.63 218.73 L358.70 217.99 L358.77 217.34 L358.83 216.78 L358.90 216.30 L358.97 215.90 L359.03 215.57 L359.10 215.32 L359.17 215.14 L359.23 215.04 L359.30 215.00 L359.37 215.03 L359.43 215.13 L359.50 215.30 L359.57 215.53 L359.63 215.84 L359.70 216.21 L359.77 216.66 L359.83 217.18 L359.90 217.78 L359.97 218.47 L360.03 219.24 L360.10 220.11 L360.17 221.07 L360.23 222.14 L360.30 223.33 L360.37 224.65 L360.43 226.11 L360.50 227.74 L360.57 229.55 L360.63 231.58 L360.70 233.87 L360.77 236.48 L360.83 239.48 L360.90 243.00 L360.96 240.87 L361.02 238.99 L361.09 237.30 L361.15 235.78 L361.21 234.41 L361.27 233.17 L361.34 232.04 L361.40 231.01 L361.46 230.07 L361.52 229.22 L361.59 228.45 L361.65 227.76 L361.71 227.13 L361.77 226.56 L361.84 226.06 L361.90 225.62 L361.96 225.23 L362.02 224.90 L362.09 224.62 L362.15 224.40 L362.21 224.22 L362.27 224.10 L362.34 224.02 L362.40 224.00 L362.48 224.03 L362.57 224.12 L362.65 224.28 L362.73 224.49 L362.82 224.77 L362.90 225.12 L362.98 225.53 L363.07 226.01 L363.15 226.56 L363.23 227.19 L363.32 227.90 L363.40 228.69 L363.48 229.57 L363.57 230.54 L363.65 231.62 L363.73 232.82 L363.82 234.14 L363.90 235.61 L363.98 237.23 L364.07 239.05 L364.15 241.08 L364.23 243.37 L364.32 245.98 L364.40 249.00 L364.49 245.73 L364.57 242.93 L364.66 240.48 L364.75 238.32 L364.84 236.40 L364.92 234.68 L365.01 233.13 L365.10 231.74 L365.19 230.48 L365.27 229.35 L365.36 228.32 L365.45 227.40 L365.54 226.57 L365.62 225.83 L365.71 225.18 L365.80 224.60 L365.89 224.10 L365.98 223.67 L366.06 223.31 L366.15 223.01 L366.24 222.79 L366.32 222.63 L366.41 222.53 L366.50 222.50 L366.60 222.54 L366.71 222.64 L366.81 222.82 L366.92 223.07 L367.02 223.40 L367.12 223.80 L367.23 224.28 L367.33 224.84 L367.44 225.49 L367.54 226.23 L367.65 227.06 L367.75 228.00 L367.85 229.04 L367.96 230.20 L368.06 231.49 L368.17 232.93 L368.27 234.52 L368.38 236.31 L368.48 238.30 L368.58 240.55 L368.69 243.10 L368.79 246.03 L368.90 249.44 L369.00 253.50 L369.10 249.44 L369.20 246.03 L369.30 243.10 L369.40 240.55 L369.50 238.30 L369.60 236.31 L369.70 234.52 L369.80 232.93 L369.90 231.49 L370.00 230.20 L370.10 229.04 L370.20 228.00 L370.30 227.06 L370.40 226.23 L370.50 225.49 L370.60 224.84 L370.70 224.28 L370.80 223.80 L370.90 223.40 L371.00 223.07 L371.10 222.82 L371.20 222.64 L371.30 222.54 L371.40 222.50 L371.51 222.54 L371.62 222.66 L371.72 222.86 L371.83 223.15 L371.94 223.52 L372.05 223.97 L372.16 224.51 L372.27 225.15 L372.38 225.89 L372.48 226.73 L372.59 227.68 L372.70 228.74 L372.81 229.94 L372.92 231.28 L373.02 232.77 L373.13 234.44 L373.24 236.31 L373.35 238.41 L373.46 240.79 L373.57 243.49 L373.68 246.61 L373.78 250.26 L373.89 254.62 L374.00 260.00 L374.12 254.83 L374.25 250.63 L374.38 247.09 L374.50 244.06 L374.62 241.43 L374.75 239.11 L374.88 237.05 L375.00 235.22 L375.12 233.59 L375.25 232.12 L375.38 230.81 L375.50 229.64 L375.62 228.59 L375.75 227.66 L375.88 226.83 L376.00 226.11 L376.12 225.48 L376.25 224.95 L376.38 224.50 L376.50 224.14 L376.62 223.86 L376.75 223.66 L376.88 223.54 L377.00 223.50 L377.11 223.54 L377.22 223.67 L377.32 223.87 L377.43 224.17 L377.54 224.55 L377.65 225.02 L377.76 225.58 L377.87 226.24 L377.98 227.00 L378.08 227.86 L378.19 228.84 L378.30 229.95 L378.41 231.19 L378.52 232.58 L378.62 234.13 L378.73 235.86 L378.84 237.81 L378.95 240.00 L379.06 242.49 L379.17 245.33 L379.28 248.62 L379.38 252.49 L379.49 257.16 L379.60 263.00 L379.73 257.50 L379.85 253.07 L379.98 249.37 L380.10 246.21 L380.23 243.47 L380.35 241.06 L380.48 238.94 L380.60 237.05 L380.73 235.36 L380.85 233.85 L380.98 232.50 L381.10 231.30 L381.23 230.22 L381.35 229.26 L381.48 228.42 L381.60 227.67 L381.73 227.03 L381.85 226.48 L381.98 226.02 L382.10 225.65 L382.23 225.37 L382.35 225.16 L382.48 225.04 L382.60 225.00 L382.76 225.04 L382.92 225.17 L383.08 225.39 L383.23 225.69 L383.39 226.08 L383.55 226.57 L383.71 227.15 L383.87 227.83 L384.02 228.62 L384.18 229.52 L384.34 230.54 L384.50 231.69 L384.66 232.98 L384.82 234.43 L384.98 236.04 L385.13 237.86 L385.29 239.90 L385.45 242.21 L385.61 244.83 L385.77 247.84 L385.92 251.34 L386.08 255.50 L386.24 260.56 L386.40 267.00 L386.57 261.04 L386.73 256.30 L386.90 252.37 L387.07 249.04 L387.23 246.16 L387.40 243.65 L387.57 241.43 L387.73 239.47 L387.90 237.71 L388.07 236.15 L388.23 234.75 L388.40 233.50 L388.57 232.39 L388.73 231.40 L388.90 230.52 L389.07 229.76 L389.23 229.09 L389.40 228.53 L389.57 228.05 L389.73 227.67 L389.90 227.38 L390.07 227.17 L390.23 227.04 L390.40 227.00 L390.59 227.04 L390.78 227.18 L390.97 227.40 L391.17 227.72 L391.36 228.12 L391.55 228.63 L391.74 229.23 L391.93 229.94 L392.12 230.76 L392.32 231.70 L392.51 232.76 L392.70 233.96 L392.89 235.30 L393.08 236.81 L393.27 238.51 L393.47 240.42 L393.66 242.56 L393.85 245.00 L394.04 247.77 L394.23 250.98 L394.43 254.74 L394.62 259.23 L394.81 264.79 L395.00 272.00 L395.21 265.56 L395.42 260.50 L395.62 256.34 L395.83 252.84 L396.04 249.83 L396.25 247.21 L396.46 244.90 L396.67 242.86 L396.88 241.04 L397.08 239.43 L397.29 237.98 L397.50 236.69 L397.71 235.54 L397.92 234.52 L398.12 233.62 L398.33 232.83 L398.54 232.15 L398.75 231.57 L398.96 231.08 L399.17 230.69 L399.38 230.39 L399.58 230.17 L399.79 230.04 L400.00 230.00 L400.29 230.05 L400.58 230.18 L400.88 230.41 L401.17 230.73 L401.46 231.15 L401.75 231.66 L402.04 232.28 L402.33 233.01 L402.62 233.85 L402.92 234.81 L403.21 235.89 L403.50 237.12 L403.79 238.50 L404.08 240.06 L404.38 241.80 L404.67 243.76 L404.96 245.98 L405.25 248.49 L405.54 251.37 L405.83 254.70 L406.12 258.63 L406.42 263.35 L406.71 269.24 L407.00 277.00 L407.36 269.79 L407.72 264.23 L408.07 259.74 L408.43 255.98 L408.79 252.77 L409.15 250.00 L409.51 247.56 L409.87 245.42 L410.23 243.51 L410.58 241.81 L410.94 240.30 L411.30 238.96 L411.66 237.76 L412.02 236.70 L412.38 235.76 L412.73 234.94 L413.09 234.23 L413.45 233.63 L413.81 233.12 L414.17 232.72 L414.53 232.40 L414.88 232.18 L415.24 232.04 L415.60 232.00 L416.24 232.06 L416.88 232.25 L417.53 232.56 L418.17 232.98 L418.81 233.51 L419.45 234.14 L420.09 234.86 L420.73 235.65 L421.38 236.51 L422.02 237.41 L422.66 238.35 L423.30 239.30 L423.94 240.25 L424.58 241.19 L425.23 242.09 L425.87 242.95 L426.51 243.74 L427.15 244.46 L427.79 245.09 L428.43 245.62 L429.07 246.04 L429.72 246.35 L430.36 246.54 L431.00 246.60 L431.52 246.56 L432.05 246.44 L432.57 246.23 L433.10 245.96 L433.62 245.61 L434.15 245.19 L434.68 244.72 L435.20 244.20 L435.73 243.64 L436.25 243.04 L436.77 242.43 L437.30 241.80 L437.82 241.17 L438.35 240.56 L438.88 239.96 L439.40 239.40 L439.93 238.88 L440.45 238.41 L440.98 237.99 L441.50 237.64 L442.02 237.37 L442.55 237.16 L443.08 237.04 L443.60 237.00 L443.99 237.05 L444.38 237.19 L444.78 237.44 L445.17 237.78 L445.56 238.22 L445.95 238.77 L446.34 239.43 L446.73 240.21 L447.12 241.11 L447.52 242.14 L447.91 243.30 L448.30 244.63 L448.69 246.12 L449.08 247.80 L449.48 249.69 L449.87 251.83 L450.26 254.26 L450.65 257.04 L451.04 260.24 L451.43 263.99 L451.83 268.47 L452.22 273.99 L452.61 281.09 L453.00 291.00 L453.27 281.74 L453.53 274.99 L453.80 269.70 L454.07 265.38 L454.33 261.74 L454.60 258.62 L454.87 255.92 L455.13 253.55 L455.40 251.45 L455.67 249.60 L455.93 247.96 L456.20 246.49 L456.47 245.20 L456.73 244.05 L457.00 243.04 L457.27 242.16 L457.53 241.39 L457.80 240.75 L458.07 240.20 L458.33 239.77 L458.60 239.43 L458.87 239.19 L459.13 239.05 L459.40 239.00 L459.61 239.05 L459.82 239.19 L460.02 239.44 L460.23 239.78 L460.44 240.22 L460.65 240.77 L460.86 241.43 L461.07 242.21 L461.27 243.11 L461.48 244.14 L461.69 245.30 L461.90 246.63 L462.11 248.12 L462.32 249.80 L462.52 251.69 L462.73 253.83 L462.94 256.26 L463.15 259.04 L463.36 262.24 L463.57 265.99 L463.77 270.47 L463.98 275.99 L464.19 283.09 L464.40 293.00 L464.61 283.74 L464.82 276.99 L465.02 271.70 L465.23 267.38 L465.44 263.74 L465.65 260.62 L465.86 257.92 L466.07 255.55 L466.27 253.45 L466.48 251.60 L466.69 249.96 L466.90 248.49 L467.11 247.20 L467.32 246.05 L467.52 245.04 L467.73 244.16 L467.94 243.39 L468.15 242.75 L468.36 242.20 L468.57 241.77 L468.77 241.43 L468.98 241.19 L469.19 241.05 L469.40 241.00 L469.57 241.05 L469.75 241.19 L469.92 241.44 L470.10 241.78 L470.27 242.22 L470.45 242.77 L470.62 243.43 L470.80 244.21 L470.98 245.11 L471.15 246.14 L471.32 247.30 L471.50 248.63 L471.68 250.12 L471.85 251.80 L472.02 253.69 L472.20 255.83 L472.38 258.26 L472.55 261.04 L472.73 264.24 L472.90 267.99 L473.08 272.47 L473.25 277.99 L473.43 285.09 L473.60 295.00 L473.74 285.42 L473.88 278.49 L474.03 273.09 L474.17 268.69 L474.31 264.99 L474.45 261.83 L474.59 259.09 L474.73 256.69 L474.88 254.57 L475.02 252.70 L475.16 251.04 L475.30 249.56 L475.44 248.25 L475.58 247.09 L475.73 246.07 L475.87 245.18 L476.01 244.42 L476.15 243.76 L476.29 243.21 L476.43 242.77 L476.58 242.43 L476.72 242.19 L476.86 242.05 L477.00 242.00 L477.12 242.05 L477.25 242.19 L477.38 242.44 L477.50 242.79 L477.62 243.23 L477.75 243.79 L477.88 244.45 L478.00 245.24 L478.12 246.14 L478.25 247.18 L478.38 248.36 L478.50 249.69 L478.62 251.19 L478.75 252.89 L478.88 254.80 L479.00 256.97 L479.12 259.42 L479.25 262.23 L479.38 265.48 L479.50 269.29 L479.62 273.85 L479.75 279.47 L479.88 286.75 L480.00 297.00 L480.15 286.96 L480.30 279.78 L480.45 274.23 L480.60 269.71 L480.75 265.94 L480.90 262.72 L481.05 259.93 L481.20 257.49 L481.35 255.34 L481.50 253.43 L481.65 251.75 L481.80 250.25 L481.95 248.93 L482.10 247.75 L482.25 246.72 L482.40 245.82 L482.55 245.04 L482.70 244.38 L482.85 243.83 L483.00 243.38 L483.15 243.04 L483.30 242.79 L483.45 242.65 L483.60 242.60 L483.70 242.65 L483.80 242.78 L483.90 243.01 L484.00 243.33 L484.10 243.75 L484.20 244.27 L484.30 244.89 L484.40 245.62 L484.50 246.46 L484.60 247.43 L484.70 248.52 L484.80 249.75 L484.90 251.14 L485.00 252.70 L485.10 254.46 L485.20 256.43 L485.30 258.66 L485.40 261.19 L485.50 264.09 L485.60 267.44 L485.70 271.40 L485.80 276.17 L485.90 282.12 L486.00 290.00 L486.12 282.41 L486.25 276.62 L486.38 271.96 L486.50 268.09 L486.62 264.79 L486.75 261.95 L486.88 259.45 L487.00 257.26 L487.12 255.31 L487.25 253.59 L487.38 252.05 L487.50 250.67 L487.62 249.45 L487.75 248.37 L487.88 247.42 L488.00 246.59 L488.12 245.87 L488.25 245.25 L488.38 244.74 L488.50 244.33 L488.62 244.01 L488.75 243.78 L488.88 243.65 L489.00 243.60 L489.11 243.65 L489.22 243.78 L489.33 244.01 L489.43 244.33 L489.54 244.75 L489.65 245.27 L489.76 245.89 L489.87 246.62 L489.98 247.46 L490.08 248.43 L490.19 249.52 L490.30 250.75 L490.41 252.14 L490.52 253.70 L490.62 255.46 L490.73 257.43 L490.84 259.66 L490.95 262.19 L491.06 265.09 L491.17 268.44 L491.28 272.40 L491.38 277.17 L491.49 283.12 L491.60 291.00 L491.68 283.35 L491.77 277.53 L491.85 272.85 L491.93 268.96 L492.02 265.65 L492.10 262.79 L492.18 260.30 L492.27 258.09 L492.35 256.14 L492.43 254.41 L492.52 252.87 L492.60 251.49 L492.68 250.27 L492.77 249.18 L492.85 248.23 L492.93 247.40 L493.02 246.67 L493.10 246.06 L493.18 245.54 L493.27 245.13 L493.35 244.81 L493.43 244.58 L493.52 244.45 L493.60 244.40 L493.70 244.45 L493.80 244.60 L493.90 244.84 L494.00 245.19 L494.10 245.65 L494.20 246.21 L494.30 246.88 L494.40 247.67 L494.50 248.59 L494.60 249.64 L494.70 250.84 L494.80 252.19 L494.90 253.71 L495.00 255.43 L495.10 257.38 L495.20 259.58 L495.30 262.07 L495.40 264.94 L495.50 268.25 L495.60 272.15 L495.70 276.83 L495.80 282.63 L495.90 290.20 L496.00 301.00 L496.11 290.62 L496.22 283.26 L496.32 277.60 L496.43 273.01 L496.54 269.18 L496.65 265.91 L496.76 263.09 L496.87 260.62 L496.98 258.45 L497.08 256.53 L497.19 254.82 L497.30 253.31 L497.41 251.98 L497.52 250.79 L497.62 249.75 L497.73 248.85 L497.84 248.06 L497.95 247.39 L498.06 246.84 L498.17 246.39 L498.27 246.04 L498.38 245.80 L498.49 245.65 L498.60 245.60 L498.68 245.65 L498.77 245.80 L498.85 246.04 L498.93 246.39 L499.02 246.85 L499.10 247.41 L499.18 248.08 L499.27 248.87 L499.35 249.78 L499.43 250.83 L499.52 252.03 L499.60 253.38 L499.68 254.90 L499.77 256.62 L499.85 258.56 L499.93 260.75 L500.02 263.24 L500.10 266.10 L500.18 269.41 L500.27 273.29 L500.35 277.96 L500.43 283.74 L500.52 291.27 L500.60 302.00 L500.68 291.55 L500.77 284.16 L500.85 278.47 L500.93 273.87 L501.02 270.02 L501.10 266.75 L501.18 263.92 L501.27 261.45 L501.35 259.27 L501.43 257.35 L501.52 255.64 L501.60 254.13 L501.68 252.79 L501.77 251.60 L501.85 250.56 L501.93 249.65 L502.02 248.86 L502.10 248.20 L502.18 247.64 L502.27 247.19 L502.35 246.84 L502.43 246.60 L502.52 246.45 L502.60 246.40 L502.68 246.44 L502.75 246.57 L502.83 246.77 L502.90 247.07 L502.98 247.45 L503.05 247.92 L503.12 248.48 L503.20 249.14 L503.27 249.90 L503.35 250.77 L503.43 251.75 L503.50 252.86 L503.58 254.10 L503.65 255.49 L503.73 257.04 L503.80 258.78 L503.88 260.74 L503.95 262.93 L504.02 265.43 L504.10 268.28 L504.18 271.57 L504.25 275.46 L504.32 280.14 L504.40 286.00 L504.48 280.41 L504.57 275.92 L504.65 272.17 L504.73 268.98 L504.82 266.21 L504.90 263.78 L504.98 261.64 L505.07 259.73 L505.15 258.03 L505.23 256.51 L505.32 255.15 L505.40 253.94 L505.48 252.85 L505.57 251.89 L505.65 251.04 L505.73 250.29 L505.82 249.64 L505.90 249.09 L505.98 248.63 L506.07 248.26 L506.15 247.97 L506.23 247.76 L506.32 247.64 L506.40 247.60 L506.47 247.65 L506.53 247.81 L506.60 248.07 L506.67 248.44 L506.73 248.91 L506.80 249.51 L506.87 250.22 L506.93 251.05 L507.00 252.02 L507.07 253.14 L507.13 254.40 L507.20 255.84 L507.27 257.47 L507.33 259.31 L507.40 261.39 L507.47 263.76 L507.53 266.47 L507.60 269.59 L507.67 273.24 L507.73 277.57 L507.80 282.87 L507.87 289.61 L507.93 298.77 L508.00 313.00 L508.07 300.56 L508.13 292.20 L508.20 285.93 L508.27 280.93 L508.33 276.80 L508.40 273.31 L508.47 270.31 L508.53 267.70 L508.60 265.41 L508.67 263.39 L508.73 261.61 L508.80 260.03 L508.87 258.63 L508.93 257.40 L509.00 256.32 L509.07 255.37 L509.13 254.56 L509.20 253.86 L509.27 253.28 L509.33 252.82 L509.40 252.46 L509.47 252.20 L509.53 252.05 L509.60 252.00 L509.65 1156.84 L512.11 1183.35 L513.57 1175.73 L515.88 1213.37 L518.18 1173.30 L521.00 1196.95" stroke="#0072BD" stroke-width="2.2"/>
<path d="M190.00 252.00 L190.07 252.05 L190.13 252.20 L190.20 252.46 L190.27 252.82 L190.33 253.28 L190.40 253.86 L190.47 254.56 L190.53 255.37 L190.60 256.32 L190.67 257.40 L190.73 258.63 L190.80 260.03 L190.87 261.61 L190.93 263.39 L191.00 265.41 L191.07 267.70 L191.13 270.31 L191.20 273.31 L191.27 276.80 L191.33 280.93 L191.40 285.93 L191.47 292.20 L191.53 300.56 L191.60 313.00 L191.67 298.77 L191.73 289.61 L191.80 282.87 L191.87 277.57 L191.93 273.24 L192.00 269.59 L192.07 266.47 L192.13 263.76 L192.20 261.39 L192.27 259.31 L192.33 257.47 L192.40 255.84 L192.47 254.40 L192.53 253.14 L192.60 252.02 L192.67 251.05 L192.73 250.22 L192.80 249.51 L192.87 248.91 L192.93 248.44 L193.00 248.07 L193.07 247.81 L193.13 247.65 L193.20 247.60 L193.28 247.64 L193.37 247.76 L193.45 247.97 L193.53 248.26 L193.62 248.63 L193.70 249.09 L193.78 249.64 L193.87 250.29 L193.95 251.04 L194.03 251.89 L194.12 252.85 L194.20 253.94 L194.28 255.15 L194.37 256.51 L194.45 258.03 L194.53 259.73 L194.62 261.64 L194.70 263.78 L194.78 266.21 L194.87 268.98 L194.95 272.17 L195.03 275.92 L195.12 280.41 L195.20 286.00 L195.28 280.14 L195.35 275.46 L195.43 271.57 L195.50 268.28 L195.58 265.43 L195.65 262.93 L195.73 260.74 L195.80 258.78 L195.88 257.04 L195.95 255.49 L196.03 254.10 L196.10 252.86 L196.18 251.75 L196.25 250.77 L196.33 249.90 L196.40 249.14 L196.48 248.48 L196.55 247.92 L196.62 247.45 L196.70 247.07 L196.78 246.77 L196.85 246.57 L196.93 246.44 L197.00 246.40 L197.08 246.45 L197.17 246.60 L197.25 246.84 L197.33 247.19 L197.42 247.64 L197.50 248.20 L197.58 248.86 L197.67 249.65 L197.75 250.56 L197.83 251.60 L197.92 252.79 L198.00 254.13 L198.08 255.64 L198.17 257.35 L198.25 259.27 L198.33 261.45 L198.42 263.92 L198.50 266.75 L198.58 270.02 L198.67 273.87 L198.75 278.47 L198.83 284.16 L198.92 291.55 L199.00 302.00 L199.08 291.27 L199.17 283.74 L199.25 277.96 L199.33 273.29 L199.42 269.41 L199.50 266.10 L199.58 263.24 L199.67 260.75 L199.75 258.56 L199.83 256.62 L199.92 254.90 L200.00 253.38 L200.08 252.03 L200.17 250.83 L200.25 249.78 L200.33 248.87 L200.42 248.08 L200.50 247.41 L200.58 246.85 L200.67 246.39 L200.75 246.04 L200.83 245.80 L200.92 245.65 L201.00 245.60 L201.11 245.65 L201.22 245.80 L201.33 246.04 L201.43 246.39 L201.54 246.84 L201.65 247.39 L201.76 248.06 L201.87 248.85 L201.98 249.75 L202.08 250.79 L202.19 251.98 L202.30 253.31 L202.41 254.82 L202.52 256.53 L202.63 258.45 L202.73 260.62 L202.84 263.09 L202.95 265.91 L203.06 269.18 L203.17 273.01 L203.28 277.60 L203.38 283.26 L203.49 290.62 L203.60 301.00 L203.70 290.20 L203.80 282.63 L203.90 276.83 L204.00 272.15 L204.10 268.25 L204.20 264.94 L204.30 262.07 L204.40 259.58 L204.50 257.38 L204.60 255.43 L204.70 253.71 L204.80 252.19 L204.90 250.84 L205.00 249.64 L205.10 248.59 L205.20 247.67 L205.30 246.88 L205.40 246.21 L205.50 245.65 L205.60 245.19 L205.70 244.84 L205.80 244.60 L205.90 244.45 L206.00 244.40 L206.08 244.45 L206.17 244.58 L206.25 244.81 L206.33 245.13 L206.42 245.54 L206.50 246.06 L206.58 246.67 L206.67 247.40 L206.75 248.23 L206.83 249.18 L206.92 250.27 L207.00 251.49 L207.08 252.87 L207.17 254.41 L207.25 256.14 L207.33 258.09 L207.42 260.30 L207.50 262.79 L207.58 265.65 L207.67 268.96 L207.75 272.85 L207.83 277.53 L207.92 283.35 L208.00 291.00 L208.11 283.12 L208.22 277.17 L208.32 272.40 L208.43 268.44 L208.54 265.09 L208.65 262.19 L208.76 259.66 L208.87 257.43 L208.97 255.46 L209.08 253.70 L209.19 252.14 L209.30 250.75 L209.41 249.52 L209.52 248.43 L209.62 247.46 L209.73 246.62 L209.84 245.89 L209.95 245.27 L210.06 244.75 L210.17 244.33 L210.28 244.01 L210.38 243.78 L210.49 243.65 L210.60 243.60 L210.73 243.65 L210.85 243.78 L210.98 244.01 L211.10 244.33 L211.23 244.74 L211.35 245.25 L211.48 245.87 L211.60 246.59 L211.73 247.42 L211.85 248.37 L211.98 249.45 L212.10 250.67 L212.23 252.05 L212.35 253.59 L212.48 255.31 L212.60 257.26 L212.73 259.45 L212.85 261.95 L212.98 264.79 L213.10 268.09 L213.23 271.96 L213.35 276.62 L213.48 282.41 L213.60 290.00 L213.70 282.12 L213.80 276.17 L213.90 271.40 L214.00 267.44 L214.10 264.09 L214.20 261.19 L214.30 258.66 L214.40 256.43 L214.50 254.46 L214.60 252.70 L214.70 251.14 L214.80 249.75 L214.90 248.52 L215.00 247.43 L215.10 246.46 L215.20 245.62 L215.30 244.89 L215.40 244.27 L215.50 243.75 L215.60 243.33 L215.70 243.01 L215.80 242.78 L215.90 242.65 L216.00 242.60 L216.15 242.65 L216.30 242.79 L216.45 243.04 L216.60 243.38 L216.75 243.83 L216.90 244.38 L217.05 245.04 L217.20 245.82 L217.35 246.72 L217.50 247.75 L217.65 248.93 L217.80 250.25 L217.95 251.75 L218.10 253.43 L218.25 255.34 L218.40 257.49 L218.55 259.93 L218.70 262.72 L218.85 265.94 L219.00 269.71 L219.15 274.23 L219.30 279.78 L219.45 286.96 L219.60 297.00 L219.73 286.75 L219.85 279.47 L219.98 273.85 L220.10 269.29 L220.23 265.48 L220.35 262.23 L220.48 259.42 L220.60 256.97 L220.73 254.80 L220.85 252.89 L220.98 251.19 L221.10 249.69 L221.23 248.36 L221.35 247.18 L221.48 246.14 L221.60 245.24 L221.73 244.45 L221.85 243.79 L221.98 243.23 L222.10 242.79 L222.23 242.44 L222.35 242.19 L222.48 242.05 L222.60 242.00 L222.74 242.05 L222.88 242.19 L223.03 242.43 L223.17 242.77 L223.31 243.21 L223.45 243.76 L223.59 244.42 L223.73 245.18 L223.88 246.07 L224.02 247.09 L224.16 248.25 L224.30 249.56 L224.44 251.04 L224.58 252.70 L224.72 254.57 L224.87 256.69 L225.01 259.09 L225.15 261.83 L225.29 264.99 L225.43 268.69 L225.57 273.09 L225.72 278.49 L225.86 285.42 L226.00 295.00 L226.18 285.09 L226.35 277.99 L226.53 272.47 L226.70 267.99 L226.88 264.24 L227.05 261.04 L227.23 258.26 L227.40 255.83 L227.58 253.69 L227.75 251.80 L227.93 250.12 L228.10 248.63 L228.28 247.30 L228.45 246.14 L228.63 245.11 L228.80 244.21 L228.98 243.43 L229.15 242.77 L229.33 242.22 L229.50 241.78 L229.68 241.44 L229.85 241.19 L230.03 241.05 L230.20 241.00 L230.41 241.05 L230.62 241.19 L230.83 241.43 L231.03 241.77 L231.24 242.20 L231.45 242.75 L231.66 243.39 L231.87 244.16 L232.08 245.04 L232.28 246.05 L232.49 247.20 L232.70 248.49 L232.91 249.96 L233.12 251.60 L233.33 253.45 L233.53 255.55 L233.74 257.92 L233.95 260.62 L234.16 263.74 L234.37 267.38 L234.58 271.70 L234.78 276.99 L234.99 283.74 L235.20 293.00 L235.41 283.09 L235.62 275.99 L235.83 270.47 L236.03 265.99 L236.24 262.24 L236.45 259.04 L236.66 256.26 L236.87 253.83 L237.08 251.69 L237.28 249.80 L237.49 248.12 L237.70 246.63 L237.91 245.30 L238.12 244.14 L238.33 243.11 L238.53 242.21 L238.74 241.43 L238.95 240.77 L239.16 240.22 L239.37 239.78 L239.58 239.44 L239.78 239.19 L239.99 239.05 L240.20 239.00 L240.47 239.05 L240.73 239.19 L241.00 239.43 L241.27 239.77 L241.53 240.20 L241.80 240.75 L242.07 241.39 L242.33 242.16 L242.60 243.04 L242.87 244.05 L243.13 245.20 L243.40 246.49 L243.67 247.96 L243.93 249.60 L244.20 251.45 L244.47 253.55 L244.73 255.92 L245.00 258.62 L245.27 261.74 L245.53 265.38 L245.80 269.70 L246.07 274.99 L246.33 281.74 L246.60 291.00 L246.99 281.09 L247.38 273.99 L247.78 268.47 L248.17 263.99 L248.56 260.24 L248.95 257.04 L249.34 254.26 L249.73 251.83 L250.12 249.69 L250.52 247.80 L250.91 246.12 L251.30 244.63 L251.69 243.30 L252.08 242.14 L252.47 241.11 L252.87 240.21 L253.26 239.43 L253.65 238.77 L254.04 238.22 L254.43 237.78 L254.82 237.44 L255.22 237.19 L255.61 237.05 L256.00 237.00 L256.52 237.04 L257.05 237.16 L257.58 237.37 L258.10 237.64 L258.62 237.99 L259.15 238.41 L259.68 238.88 L260.20 239.40 L260.73 239.96 L261.25 240.56 L261.78 241.17 L262.30 241.80 L262.83 242.43 L263.35 243.04 L263.88 243.64 L264.40 244.20 L264.93 244.72 L265.45 245.19 L265.98 245.61 L266.50 245.96 L267.03 246.23 L267.55 246.44 L268.08 246.56 L268.60 246.60 L269.24 246.54 L269.88 246.35 L270.53 246.04 L271.17 245.62 L271.81 245.09 L272.45 244.46 L273.09 243.74 L273.73 242.95 L274.38 242.09 L275.02 241.19 L275.66 240.25 L276.30 239.30 L276.94 238.35 L277.58 237.41 L278.23 236.51 L278.87 235.65 L279.51 234.86 L280.15 234.14 L280.79 233.51 L281.43 232.98 L282.07 232.56 L282.72 232.25 L283.36 232.06 L284.00 232.00 L284.36 232.04 L284.72 232.18 L285.07 232.40 L285.43 232.72 L285.79 233.12 L286.15 233.63 L286.51 234.23 L286.87 234.94 L287.23 235.76 L287.58 236.70 L287.94 237.76 L288.30 238.96 L288.66 240.30 L289.02 241.81 L289.38 243.51 L289.73 245.42 L290.09 247.56 L290.45 250.00 L290.81 252.77 L291.17 255.98 L291.53 259.74 L291.88 264.23 L292.24 269.79 L292.60 277.00 L292.89 269.24 L293.18 263.35 L293.48 258.63 L293.77 254.70 L294.06 251.37 L294.35 248.49 L294.64 245.98 L294.93 243.76 L295.23 241.80 L295.52 240.06 L295.81 238.50 L296.10 237.12 L296.39 235.89 L296.68 234.81 L296.98 233.85 L297.27 233.01 L297.56 232.28 L297.85 231.66 L298.14 231.15 L298.43 230.73 L298.73 230.41 L299.02 230.18 L299.31 230.05 L299.60 230.00 L299.81 230.04 L300.02 230.17 L300.23 230.39 L300.43 230.69 L300.64 231.08 L300.85 231.57 L301.06 232.15 L301.27 232.83 L301.48 233.62 L301.68 234.52 L301.89 235.54 L302.10 236.69 L302.31 237.98 L302.52 239.43 L302.73 241.04 L302.93 242.86 L303.14 244.90 L303.35 247.21 L303.56 249.83 L303.77 252.84 L303.98 256.34 L304.18 260.50 L304.39 265.56 L304.60 272.00 L304.79 264.79 L304.98 259.23 L305.18 254.74 L305.37 250.98 L305.56 247.77 L305.75 245.00 L305.94 242.56 L306.13 240.42 L306.33 238.51 L306.52 236.81 L306.71 235.30 L306.90 233.96 L307.09 232.76 L307.28 231.70 L307.48 230.76 L307.67 229.94 L307.86 229.23 L308.05 228.63 L308.24 228.12 L308.43 227.72 L308.63 227.40 L308.82 227.18 L309.01 227.04 L309.20 227.00 L309.37 227.04 L309.53 227.17 L309.70 227.38 L309.87 227.67 L310.03 228.05 L310.20 228.53 L310.37 229.09 L310.53 229.76 L310.70 230.52 L310.87 231.40 L311.03 232.39 L311.20 233.50 L311.37 234.75 L311.53 236.15 L311.70 237.71 L311.87 239.47 L312.03 241.43 L312.20 243.65 L312.37 246.16 L312.53 249.04 L312.70 252.37 L312.87 256.30 L313.03 261.04 L313.20 267.00 L313.36 260.56 L313.52 255.50 L313.68 251.34 L313.83 247.84 L313.99 244.83 L314.15 242.21 L314.31 239.90 L314.47 237.86 L314.62 236.04 L314.78 234.43 L314.94 232.98 L315.10 231.69 L315.26 230.54 L315.42 229.52 L315.58 228.62 L315.73 227.83 L315.89 227.15 L316.05 226.57 L316.21 226.08 L316.37 225.69 L316.52 225.39 L316.68 225.17 L316.84 225.04 L317.00 225.00 L317.12 225.04 L317.25 225.16 L317.38 225.37 L317.50 225.65 L317.62 226.02 L317.75 226.48 L317.88 227.03 L318.00 227.67 L318.12 228.42 L318.25 229.26 L318.38 230.22 L318.50 231.30 L318.62 232.50 L318.75 233.85 L318.88 235.36 L319.00 237.05 L319.12 238.94 L319.25 241.06 L319.38 243.47 L319.50 246.21 L319.62 249.37 L319.75 253.07 L319.88 257.50 L320.00 263.00 L320.11 257.16 L320.22 252.49 L320.32 248.62 L320.43 245.33 L320.54 242.49 L320.65 240.00 L320.76 237.81 L320.87 235.86 L320.98 234.13 L321.08 232.58 L321.19 231.19 L321.30 229.95 L321.41 228.84 L321.52 227.86 L321.62 227.00 L321.73 226.24 L321.84 225.58 L321.95 225.02 L322.06 224.55 L322.17 224.17 L322.28 223.87 L322.38 223.67 L322.49 223.54 L322.60 223.50 L322.73 223.54 L322.85 223.66 L322.98 223.86 L323.10 224.14 L323.23 224.50 L323.35 224.95 L323.48 225.48 L323.60 226.11 L323.73 226.83 L323.85 227.66 L323.98 228.59 L324.10 229.64 L324.23 230.81 L324.35 232.12 L324.48 233.59 L324.60 235.22 L324.73 237.05 L324.85 239.11 L324.98 241.43 L325.10 244.06 L325.23 247.09 L325.35 250.63 L325.48 254.83 L325.60 260.00 L325.71 254.62 L325.82 250.26 L325.93 246.61 L326.03 243.49 L326.14 240.79 L326.25 238.41 L326.36 236.31 L326.47 234.44 L326.58 232.77 L326.68 231.28 L326.79 229.94 L326.90 228.74 L327.01 227.68 L327.12 226.73 L327.23 225.89 L327.33 225.15 L327.44 224.51 L327.55 223.97 L327.66 223.52 L327.77 223.15 L327.88 222.86 L327.98 222.66 L328.09 222.54 L328.20 222.50 L328.30 222.54 L328.40 222.64 L328.50 222.82 L328.60 223.07 L328.70 223.40 L328.80 223.80 L328.90 224.28 L329.00 224.84 L329.10 225.49 L329.20 226.23 L329.30 227.06 L329.40 228.00 L329.50 229.04 L329.60 230.20 L329.70 231.49 L329.80 232.93 L329.90 234.52 L330.00 236.31 L330.10 238.30 L330.20 240.55 L330.30 243.10 L330.40 246.03 L330.50 249.44 L330.60 253.50 L330.70 249.44 L330.81 246.03 L330.91 243.10 L331.02 240.55 L331.12 238.30 L331.23 236.31 L331.33 234.52 L331.43 232.93 L331.54 231.49 L331.64 230.20 L331.75 229.04 L331.85 228.00 L331.95 227.06 L332.06 226.23 L332.16 225.49 L332.27 224.84 L332.37 224.28 L332.48 223.80 L332.58 223.40 L332.68 223.07 L332.79 222.82 L332.89 222.64 L333.00 222.54 L333.10 222.50 L333.19 222.53 L333.28 222.63 L333.36 222.79 L333.45 223.01 L333.54 223.31 L333.62 223.67 L333.71 224.10 L333.80 224.60 L333.89 225.18 L333.98 225.83 L334.06 226.57 L334.15 227.40 L334.24 228.32 L334.33 229.35 L334.41 230.48 L334.50 231.74 L334.59 233.13 L334.68 234.68 L334.76 236.40 L334.85 238.32 L334.94 240.48 L335.03 242.93 L335.11 245.73 L335.20 249.00 L335.28 245.98 L335.37 243.37 L335.45 241.08 L335.53 239.05 L335.62 237.23 L335.70 235.61 L335.78 234.14 L335.87 232.82 L335.95 231.62 L336.03 230.54 L336.12 229.57 L336.20 228.69 L336.28 227.90 L336.37 227.19 L336.45 226.56 L336.53 226.01 L336.62 225.53 L336.70 225.12 L336.78 224.77 L336.87 224.49 L336.95 224.28 L337.03 224.12 L337.12 224.03 L337.20 224.00 L337.26 224.02 L337.33 224.10 L337.39 224.22 L337.45 224.40 L337.51 224.62 L337.58 224.90 L337.64 225.23 L337.70 225.62 L337.76 226.06 L337.83 226.56 L337.89 227.13 L337.95 227.76 L338.01 228.45 L338.08 229.22 L338.14 230.07 L338.20 231.01 L338.26 232.04 L338.33 233.17 L338.39 234.41 L338.45 235.78 L338.51 237.30 L338.58 238.99 L338.64 240.87 L338.70 243.00 L338.77 239.48 L338.83 236.48 L338.90 233.87 L338.97 231.58 L339.03 229.55 L339.10 227.74 L339.17 226.11 L339.23 224.65 L339.30 223.33 L339.37 222.14 L339.43 221.07 L339.50 220.11 L339.57 219.24 L339.63 218.47 L339.70 217.78 L339.77 217.18 L339.83 216.66 L339.90 216.21 L339.97 215.84 L340.03 215.53 L340.10 215.30 L340.17 215.13 L340.23 215.03 L340.30 215.00 L340.37 215.04 L340.43 215.14 L340.50 215.32 L340.57 215.57 L340.63 215.90 L340.70 216.30 L340.77 216.78 L340.83 217.34 L340.90 217.99 L340.97 218.73 L341.03 219.56 L341.10 220.50 L341.17 221.54 L341.23 222.70 L341.30 223.99 L341.37 225.43 L341.43 227.02 L341.50 228.81 L341.57 230.80 L341.63 233.05 L341.70 235.60 L341.77 238.53 L341.83 241.94 L341.90 246.00 L342.00 228.75 L342.09 218.40 L342.19 211.03 L342.28 205.33 L342.38 200.71 L342.48 196.85 L342.57 193.57 L342.67 190.73 L342.76 188.26 L342.86 186.10 L342.95 184.19 L343.05 182.50 L343.15 181.01 L343.24 179.70 L343.34 178.56 L343.43 177.56 L343.53 176.69 L343.63 175.96 L343.72 175.35 L343.82 174.86 L343.91 174.48 L344.01 174.21 L344.10 174.05 L344.20 174.00 L344.26 174.05 L344.32 174.21 L344.38 174.47 L344.43 174.85 L344.49 175.33 L344.55 175.93 L344.61 176.65 L344.67 177.50 L344.73 178.48 L344.78 179.61 L344.84 180.89 L344.90 182.35 L344.96 184.00 L345.02 185.87 L345.08 187.99 L345.13 190.40 L345.19 193.16 L345.25 196.35 L345.31 200.08 L345.37 204.54 L345.43 210.00 L345.48 216.99 L345.54 226.62 L345.60 242.00 L345.78 174.70 L345.95 157.02 L346.12 146.45 L346.30 138.93 L346.48 133.14 L346.65 128.46 L346.83 124.57 L347.00 121.26 L347.18 118.42 L347.35 115.95 L347.53 113.79 L347.70 111.89 L347.88 110.23 L348.05 108.78 L348.23 107.51 L348.40 106.40 L348.57 105.45 L348.75 104.65 L348.93 103.98 L349.10 103.44 L349.28 103.03 L349.45 102.73 L349.62 102.56 L349.80 102.50 L349.98 102.56 L350.15 102.73 L350.32 103.03 L350.50 103.44 L350.68 103.98 L350.85 104.65 L351.03 105.45 L351.20 106.40 L351.38 107.51 L351.55 108.78 L351.73 110.23 L351.90 111.89 L352.07 113.79 L352.25 115.95 L352.43 118.42 L352.60 121.26 L352.77 124.57 L352.95 128.46 L353.12 133.14 L353.30 138.93 L353.48 146.45 L353.65 157.02 L353.82 174.70 L354.00 242.00 L354.06 226.62 L354.12 216.99 L354.18 210.00 L354.23 204.54 L354.29 200.08 L354.35 196.35 L354.41 193.16 L354.47 190.40 L354.52 187.99 L354.58 185.87 L354.64 184.00 L354.70 182.35 L354.76 180.89 L354.82 179.61 L354.88 178.48 L354.93 177.50 L354.99 176.65 L355.05 175.93 L355.11 175.33 L355.17 174.85 L355.22 174.47 L355.28 174.21 L355.34 174.05 L355.40 174.00 L355.50 174.05 L355.59 174.21 L355.69 174.48 L355.78 174.86 L355.88 175.35 L355.97 175.96 L356.07 176.69 L356.17 177.56 L356.26 178.56 L356.36 179.70 L356.45 181.01 L356.55 182.50 L356.65 184.19 L356.74 186.10 L356.84 188.26 L356.93 190.73 L357.03 193.57 L357.12 196.85 L357.22 200.71 L357.32 205.33 L357.41 211.03 L357.51 218.40 L357.60 228.75 L357.70 246.00 L357.77 241.94 L357.83 238.53 L357.90 235.60 L357.97 233.05 L358.03 230.80 L358.10 228.81 L358.17 227.02 L358.23 225.43 L358.30 223.99 L358.37 222.70 L358.43 221.54 L358.50 220.50 L358.57 219.56 L358.63 218.73 L358.70 217.99 L358.77 217.34 L358.83 216.78 L358.90 216.30 L358.97 215.90 L359.03 215.57 L359.10 215.32 L359.17 215.14 L359.23 215.04 L359.30 215.00 L359.37 215.03 L359.43 215.13 L359.50 215.30 L359.57 215.53 L359.63 215.84 L359.70 216.21 L359.77 216.66 L359.83 217.18 L359.90 217.78 L359.97 218.47 L360.03 219.24 L360.10 220.11 L360.17 221.07 L360.23 222.14 L360.30 223.33 L360.37 224.65 L360.43 226.11 L360.50 227.74 L360.57 229.55 L360.63 231.58 L360.70 233.87 L360.77 236.48 L360.83 239.48 L360.90 243.00 L360.96 240.87 L361.02 238.99 L361.09 237.30 L361.15 235.78 L361.21 234.41 L361.27 233.17 L361.34 232.04 L361.40 231.01 L361.46 230.07 L361.52 229.22 L361.59 228.45 L361.65 227.76 L361.71 227.13 L361.77 226.56 L361.84 226.06 L361.90 225.62 L361.96 225.23 L362.02 224.90 L362.09 224.62 L362.15 224.40 L362.21 224.22 L362.27 224.10 L362.34 224.02 L362.40 224.00 L362.48 224.03 L362.57 224.12 L362.65 224.28 L362.73 224.49 L362.82 224.77 L362.90 225.12 L362.98 225.53 L363.07 226.01 L363.15 226.56 L363.23 227.19 L363.32 227.90 L363.40 228.69 L363.48 229.57 L363.57 230.54 L363.65 231.62 L363.73 232.82 L363.82 234.14 L363.90 235.61 L363.98 237.23 L364.07 239.05 L364.15 241.08 L364.23 243.37 L364.32 245.98 L364.40 249.00 L364.49 245.73 L364.57 242.93 L364.66 240.48 L364.75 238.32 L364.84 236.40 L364.92 234.68 L365.01 233.13 L365.10 231.74 L365.19 230.48 L365.27 229.35 L365.36 228.32 L365.45 227.40 L365.54 226.57 L365.62 225.83 L365.71 225.18 L365.80 224.60 L365.89 224.10 L365.98 223.67 L366.06 223.31 L366.15 223.01 L366.24 222.79 L366.32 222.63 L366.41 222.53 L366.50 222.50 L366.60 222.54 L366.71 222.64 L366.81 222.82 L366.92 223.07 L367.02 223.40 L367.12 223.80 L367.23 224.28 L367.33 224.84 L367.44 225.49 L367.54 226.23 L367.65 227.06 L367.75 228.00 L367.85 229.04 L367.96 230.20 L368.06 231.49 L368.17 232.93 L368.27 234.52 L368.38 236.31 L368.48 238.30 L368.58 240.55 L368.69 243.10 L368.79 246.03 L368.90 249.44 L369.00 253.50 L369.10 249.44 L369.20 246.03 L369.30 243.10 L369.40 240.55 L369.50 238.30 L369.60 236.31 L369.70 234.52 L369.80 232.93 L369.90 231.49 L370.00 230.20 L370.10 229.04 L370.20 228.00 L370.30 227.06 L370.40 226.23 L370.50 225.49 L370.60 224.84 L370.70 224.28 L370.80 223.80 L370.90 223.40 L371.00 223.07 L371.10 222.82 L371.20 222.64 L371.30 222.54 L371.40 222.50 L371.51 222.54 L371.62 222.66 L371.72 222.86 L371.83 223.15 L371.94 223.52 L372.05 223.97 L372.16 224.51 L372.27 225.15 L372.38 225.89 L372.48 226.73 L372.59 227.68 L372.70 228.74 L372.81 229.94 L372.92 231.28 L373.02 232.77 L373.13 234.44 L373.24 236.31 L373.35 238.41 L373.46 240.79 L373.57 243.49 L373.68 246.61 L373.78 250.26 L373.89 254.62 L374.00 260.00 L374.12 254.83 L374.25 250.63 L374.38 247.09 L374.50 244.06 L374.62 241.43 L374.75 239.11 L374.88 237.05 L375.00 235.22 L375.12 233.59 L375.25 232.12 L375.38 230.81 L375.50 229.64 L375.62 228.59 L375.75 227.66 L375.88 226.83 L376.00 226.11 L376.12 225.48 L376.25 224.95 L376.38 224.50 L376.50 224.14 L376.62 223.86 L376.75 223.66 L376.88 223.54 L377.00 223.50 L377.11 223.54 L377.22 223.67 L377.32 223.87 L377.43 224.17 L377.54 224.55 L377.65 225.02 L377.76 225.58 L377.87 226.24 L377.98 227.00 L378.08 227.86 L378.19 228.84 L378.30 229.95 L378.41 231.19 L378.52 232.58 L378.62 234.13 L378.73 235.86 L378.84 237.81 L378.95 240.00 L379.06 242.49 L379.17 245.33 L379.28 248.62 L379.38 252.49 L379.49 257.16 L379.60 263.00 L379.73 257.50 L379.85 253.07 L379.98 249.37 L380.10 246.21 L380.23 243.47 L380.35 241.06 L380.48 238.94 L380.60 237.05 L380.73 235.36 L380.85 233.85 L380.98 232.50 L381.10 231.30 L381.23 230.22 L381.35 229.26 L381.48 228.42 L381.60 227.67 L381.73 227.03 L381.85 226.48 L381.98 226.02 L382.10 225.65 L382.23 225.37 L382.35 225.16 L382.48 225.04 L382.60 225.00 L382.76 225.04 L382.92 225.17 L383.08 225.39 L383.23 225.69 L383.39 226.08 L383.55 226.57 L383.71 227.15 L383.87 227.83 L384.02 228.62 L384.18 229.52 L384.34 230.54 L384.50 231.69 L384.66 232.98 L384.82 234.43 L384.98 236.04 L385.13 237.86 L385.29 239.90 L385.45 242.21 L385.61 244.83 L385.77 247.84 L385.92 251.34 L386.08 255.50 L386.24 260.56 L386.40 267.00 L386.57 261.04 L386.73 256.30 L386.90 252.37 L387.07 249.04 L387.23 246.16 L387.40 243.65 L387.57 241.43 L387.73 239.47 L387.90 237.71 L388.07 236.15 L388.23 234.75 L388.40 233.50 L388.57 232.39 L388.73 231.40 L388.90 230.52 L389.07 229.76 L389.23 229.09 L389.40 228.53 L389.57 228.05 L389.73 227.67 L389.90 227.38 L390.07 227.17 L390.23 227.04 L390.40 227.00 L390.59 227.04 L390.78 227.18 L390.97 227.40 L391.17 227.72 L391.36 228.12 L391.55 228.63 L391.74 229.23 L391.93 229.94 L392.12 230.76 L392.32 231.70 L392.51 232.76 L392.70 233.96 L392.89 235.30 L393.08 236.81 L393.27 238.51 L393.47 240.42 L393.66 242.56 L393.85 245.00 L394.04 247.77 L394.23 250.98 L394.43 254.74 L394.62 259.23 L394.81 264.79 L395.00 272.00 L395.21 265.56 L395.42 260.50 L395.62 256.34 L395.83 252.84 L396.04 249.83 L396.25 247.21 L396.46 244.90 L396.67 242.86 L396.88 241.04 L397.08 239.43 L397.29 237.98 L397.50 236.69 L397.71 235.54 L397.92 234.52 L398.12 233.62 L398.33 232.83 L398.54 232.15 L398.75 231.57 L398.96 231.08 L399.17 230.69 L399.38 230.39 L399.58 230.17 L399.79 230.04 L400.00 230.00 L400.29 230.05 L400.58 230.18 L400.88 230.41 L401.17 230.73 L401.46 231.15 L401.75 231.66 L402.04 232.28 L402.33 233.01 L402.62 233.85 L402.92 234.81 L403.21 235.89 L403.50 237.12 L403.79 238.50 L404.08 240.06 L404.38 241.80 L404.67 243.76 L404.96 245.98 L405.25 248.49 L405.54 251.37 L405.83 254.70 L406.12 258.63 L406.42 263.35 L406.71 269.24 L407.00 277.00 L407.36 269.79 L407.72 264.23 L408.07 259.74 L408.43 255.98 L408.79 252.77 L409.15 250.00 L409.51 247.56 L409.87 245.42 L410.23 243.51 L410.58 241.81 L410.94 240.30 L411.30 238.96 L411.66 237.76 L412.02 236.70 L412.38 235.76 L412.73 234.94 L413.09 234.23 L413.45 233.63 L413.81 233.12 L414.17 232.72 L414.53 232.40 L414.88 232.18 L415.24 232.04 L415.60 232.00 L416.24 232.06 L416.88 232.25 L417.53 232.56 L418.17 232.98 L418.81 233.51 L419.45 234.14 L420.09 234.86 L420.73 235.65 L421.38 236.51 L422.02 237.41 L422.66 238.35 L423.30 239.30 L423.94 240.25 L424.58 241.19 L425.23 242.09 L425.87 242.95 L426.51 243.74 L427.15 244.46 L427.79 245.09 L428.43 245.62 L429.07 246.04 L429.72 246.35 L430.36 246.54 L431.00 246.60 L431.52 246.56 L432.05 246.44 L432.57 246.23 L433.10 245.96 L433.62 245.61 L434.15 245.19 L434.68 244.72 L435.20 244.20 L435.73 243.64 L436.25 243.04 L436.77 242.43 L437.30 241.80 L437.82 241.17 L438.35 240.56 L438.88 239.96 L439.40 239.40 L439.93 238.88 L440.45 238.41 L440.98 237.99 L441.50 237.64 L442.02 237.37 L442.55 237.16 L443.08 237.04 L443.60 237.00 L443.99 237.05 L444.38 237.19 L444.78 237.44 L445.17 237.78 L445.56 238.22 L445.95 238.77 L446.34 239.43 L446.73 240.21 L447.12 241.11 L447.52 242.14 L447.91 243.30 L448.30 244.63 L448.69 246.12 L449.08 247.80 L449.48 249.69 L449.87 251.83 L450.26 254.26 L450.65 257.04 L451.04 260.24 L451.43 263.99 L451.83 268.47 L452.22 273.99 L452.61 281.09 L453.00 291.00 L453.27 281.74 L453.53 274.99 L453.80 269.70 L454.07 265.38 L454.33 261.74 L454.60 258.62 L454.87 255.92 L455.13 253.55 L455.40 251.45 L455.67 249.60 L455.93 247.96 L456.20 246.49 L456.47 245.20 L456.73 244.05 L457.00 243.04 L457.27 242.16 L457.53 241.39 L457.80 240.75 L458.07 240.20 L458.33 239.77 L458.60 239.43 L458.87 239.19 L459.13 239.05 L459.40 239.00 L459.61 239.05 L459.82 239.19 L460.02 239.44 L460.23 239.78 L460.44 240.22 L460.65 240.77 L460.86 241.43 L461.07 242.21 L461.27 243.11 L461.48 244.14 L461.69 245.30 L461.90 246.63 L462.11 248.12 L462.32 249.80 L462.52 251.69 L462.73 253.83 L462.94 256.26 L463.15 259.04 L463.36 262.24 L463.57 265.99 L463.77 270.47 L463.98 275.99 L464.19 283.09 L464.40 293.00 L464.61 283.74 L464.82 276.99 L465.02 271.70 L465.23 267.38 L465.44 263.74 L465.65 260.62 L465.86 257.92 L466.07 255.55 L466.27 253.45 L466.48 251.60 L466.69 249.96 L466.90 248.49 L467.11 247.20 L467.32 246.05 L467.52 245.04 L467.73 244.16 L467.94 243.39 L468.15 242.75 L468.36 242.20 L468.57 241.77 L468.77 241.43 L468.98 241.19 L469.19 241.05 L469.40 241.00 L469.57 241.05 L469.75 241.19 L469.92 241.44 L470.10 241.78 L470.27 242.22 L470.45 242.77 L470.62 243.43 L470.80 244.21 L470.98 245.11 L471.15 246.14 L471.32 247.30 L471.50 248.63 L471.68 250.12 L471.85 251.80 L472.02 253.69 L472.20 255.83 L472.38 258.26 L472.55 261.04 L472.73 264.24 L472.90 267.99 L473.08 272.47 L473.25 277.99 L473.43 285.09 L473.60 295.00 L473.74 285.42 L473.88 278.49 L474.03 273.09 L474.17 268.69 L474.31 264.99 L474.45 261.83 L474.59 259.09 L474.73 256.69 L474.88 254.57 L475.02 252.70 L475.16 251.04 L475.30 249.56 L475.44 248.25 L475.58 247.09 L475.73 246.07 L475.87 245.18 L476.01 244.42 L476.15 243.76 L476.29 243.21 L476.43 242.77 L476.58 242.43 L476.72 242.19 L476.86 242.05 L477.00 242.00 L477.12 242.05 L477.25 242.19 L477.38 242.44 L477.50 242.79 L477.62 243.23 L477.75 243.79 L477.88 244.45 L478.00 245.24 L478.12 246.14 L478.25 247.18 L478.38 248.36 L478.50 249.69 L478.62 251.19 L478.75 252.89 L478.88 254.80 L479.00 256.97 L479.12 259.42 L479.25 262.23 L479.38 265.48 L479.50 269.29 L479.62 273.85 L479.75 279.47 L479.88 286.75 L480.00 297.00 L480.15 286.96 L480.30 279.78 L480.45 274.23 L480.60 269.71 L480.75 265.94 L480.90 262.72 L481.05 259.93 L481.20 257.49 L481.35 255.34 L481.50 253.43 L481.65 251.75 L481.80 250.25 L481.95 248.93 L482.10 247.75 L482.25 246.72 L482.40 245.82 L482.55 245.04 L482.70 244.38 L482.85 243.83 L483.00 243.38 L483.15 243.04 L483.30 242.79 L483.45 242.65 L483.60 242.60 L483.70 242.65 L483.80 242.78 L483.90 243.01 L484.00 243.33 L484.10 243.75 L484.20 244.27 L484.30 244.89 L484.40 245.62 L484.50 246.46 L484.60 247.43 L484.70 248.52 L484.80 249.75 L484.90 251.14 L485.00 252.70 L485.10 254.46 L485.20 256.43 L485.30 258.66 L485.40 261.19 L485.50 264.09 L485.60 267.44 L485.70 271.40 L485.80 276.17 L485.90 282.12 L486.00 290.00 L486.12 282.41 L486.25 276.62 L486.38 271.96 L486.50 268.09 L486.62 264.79 L486.75 261.95 L486.88 259.45 L487.00 257.26 L487.12 255.31 L487.25 253.59 L487.38 252.05 L487.50 250.67 L487.62 249.45 L487.75 248.37 L487.88 247.42 L488.00 246.59 L488.12 245.87 L488.25 245.25 L488.38 244.74 L488.50 244.33 L488.62 244.01 L488.75 243.78 L488.88 243.65 L489.00 243.60 L489.11 243.65 L489.22 243.78 L489.33 244.01 L489.43 244.33 L489.54 244.75 L489.65 245.27 L489.76 245.89 L489.87 246.62 L489.98 247.46 L490.08 248.43 L490.19 249.52 L490.30 250.75 L490.41 252.14 L490.52 253.70 L490.62 255.46 L490.73 257.43 L490.84 259.66 L490.95 262.19 L491.06 265.09 L491.17 268.44 L491.28 272.40 L491.38 277.17 L491.49 283.12 L491.60 291.00 L491.68 283.35 L491.77 277.53 L491.85 272.85 L491.93 268.96 L492.02 265.65 L492.10 262.79 L492.18 260.30 L492.27 258.09 L492.35 256.14 L492.43 254.41 L492.52 252.87 L492.60 251.49 L492.68 250.27 L492.77 249.18 L492.85 248.23 L492.93 247.40 L493.02 246.67 L493.10 246.06 L493.18 245.54 L493.27 245.13 L493.35 244.81 L493.43 244.58 L493.52 244.45 L493.60 244.40 L493.70 244.45 L493.80 244.60 L493.90 244.84 L494.00 245.19 L494.10 245.65 L494.20 246.21 L494.30 246.88 L494.40 247.67 L494.50 248.59 L494.60 249.64 L494.70 250.84 L494.80 252.19 L494.90 253.71 L495.00 255.43 L495.10 257.38 L495.20 259.58 L495.30 262.07 L495.40 264.94 L495.50 268.25 L495.60 272.15 L495.70 276.83 L495.80 282.63 L495.90 290.20 L496.00 301.00 L496.11 290.62 L496.22 283.26 L496.32 277.60 L496.43 273.01 L496.54 269.18 L496.65 265.91 L496.76 263.09 L496.87 260.62 L496.98 258.45 L497.08 256.53 L497.19 254.82 L497.30 253.31 L497.41 251.98 L497.52 250.79 L497.62 249.75 L497.73 248.85 L497.84 248.06 L497.95 247.39 L498.06 246.84 L498.17 246.39 L498.27 246.04 L498.38 245.80 L498.49 245.65 L498.60 245.60 L498.68 245.65 L498.77 245.80 L498.85 246.04 L498.93 246.39 L499.02 246.85 L499.10 247.41 L499.18 248.08 L499.27 248.87 L499.35 249.78 L499.43 250.83 L499.52 252.03 L499.60 253.38 L499.68 254.90 L499.77 256.62 L499.85 258.56 L499.93 260.75 L500.02 263.24 L500.10 266.10 L500.18 269.41 L500.27 273.29 L500.35 277.96 L500.43 283.74 L500.52 291.27 L500.60 302.00 L500.68 291.55 L500.77 284.16 L500.85 278.47 L500.93 273.87 L501.02 270.02 L501.10 266.75 L501.18 263.92 L501.27 261.45 L501.35 259.27 L501.43 257.35 L501.52 255.64 L501.60 254.13 L501.68 252.79 L501.77 251.60 L501.85 250.56 L501.93 249.65 L502.02 248.86 L502.10 248.20 L502.18 247.64 L502.27 247.19 L502.35 246.84 L502.43 246.60 L502.52 246.45 L502.60 246.40 L502.68 246.44 L502.75 246.57 L502.83 246.77 L502.90 247.07 L502.98 247.45 L503.05 247.92 L503.12 248.48 L503.20 249.14 L503.27 249.90 L503.35 250.77 L503.43 251.75 L503.50 252.86 L503.58 254.10 L503.65 255.49 L503.73 257.04 L503.80 258.78 L503.88 260.74 L503.95 262.93 L504.02 265.43 L504.10 268.28 L504.18 271.57 L504.25 275.46 L504.32 280.14 L504.40 286.00 L504.48 280.41 L504.57 275.92 L504.65 272.17 L504.73 268.98 L504.82 266.21 L504.90 263.78 L504.98 261.64 L505.07 259.73 L505.15 258.03 L505.23 256.51 L505.32 255.15 L505.40 253.94 L505.48 252.85 L505.57 251.89 L505.65 251.04 L505.73 250.29 L505.82 249.64 L505.90 249.09 L505.98 248.63 L506.07 248.26 L506.15 247.97 L506.23 247.76 L506.32 247.64 L506.40 247.60 L506.47 247.65 L506.53 247.81 L506.60 248.07 L506.67 248.44 L506.73 248.91 L506.80 249.51 L506.87 250.22 L506.93 251.05 L507.00 252.02 L507.07 253.14 L507.13 254.40 L507.20 255.84 L507.27 257.47 L507.33 259.31 L507.40 261.39 L507.47 263.76 L507.53 266.47 L507.60 269.59 L507.67 273.24 L507.73 277.57 L507.80 282.87 L507.87 289.61 L507.93 298.77 L508.00 313.00 L508.07 300.56 L508.13 292.20 L508.20 285.93 L508.27 280.93 L508.33 276.80 L508.40 273.31 L508.47 270.31 L508.53 267.70 L508.60 265.41 L508.67 263.39 L508.73 261.61 L508.80 260.03 L508.87 258.63 L508.93 257.40 L509.00 256.32 L509.07 255.37 L509.13 254.56 L509.20 253.86 L509.27 253.28 L509.33 252.82 L509.40 252.46 L509.47 252.20 L509.53 252.05 L509.60 252.00" stroke="#D95319" stroke-width="2.2" stroke-dasharray="10.5 6.3"/>
</g>
<g stroke="#262626" stroke-width="1.2" fill="none">
<rect x="182.50" y="100.50" width="330.50" height="226.00"/>
<line x1="182.50" y1="102.60" x2="185.80" y2="102.60"/>
<line x1="513.00" y1="102.60" x2="509.70" y2="102.60"/>
<line x1="182.50" y1="165.54" x2="185.80" y2="165.54"/>
<line x1="513.00" y1="165.54" x2="509.70" y2="165.54"/>
<line x1="182.50" y1="228.48" x2="185.80" y2="228.48"/>
<line x1="513.00" y1="228.48" x2="509.70" y2="228.48"/>
<line x1="182.50" y1="291.42" x2="185.80" y2="291.42"/>
<line x1="513.00" y1="291.42" x2="509.70" y2="291.42"/>
</g>
<g font-family="'Liberation Sans', Arial, Helvetica, sans-serif" font-weight="bold" fill="#262626" font-size="16.8px" text-anchor="end">
<text x="176.0" y="109.40">0</text>
<text x="176.0" y="172.34">-20</text>
<text x="176.0" y="235.28">-40</text>
<text x="176.0" y="298.22">-60</text>
</g>
<rect x="84.4" y="309.8" width="150.6" height="50.4" fill="#ffffff" stroke="#262626" stroke-width="1"/>
<line x1="96.3" y1="324.4" x2="138.9" y2="324.4" stroke="#0072BD" stroke-width="2"/>
<line x1="96.3" y1="347.9" x2="138.9" y2="347.9" stroke="#D95319" stroke-width="2" stroke-dasharray="10.6 6.3"/>
<g font-family="'Liberation Sans', Arial, Helvetica, sans-serif" font-weight="bold" fill="#000000" font-size="15px">
<text x="142.6" y="332.6">AW (-30<tspan font-size="12px" dy="-5.4" dx="1.2">o</tspan><tspan dy="5.4" dx="0.9">)</tspan></text>
<text x="142.2" y="353.3">Subpulse 1</text>
</g>
</svg>
</body>
</html>
